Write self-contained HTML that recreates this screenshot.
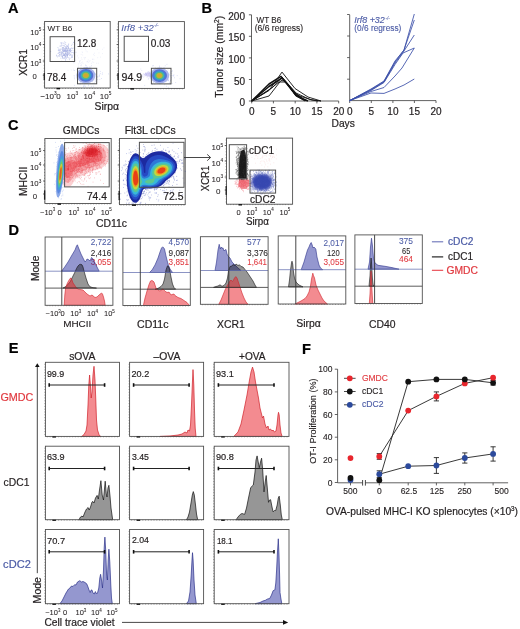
<!DOCTYPE html>
<html><head><meta charset="utf-8"><title>Figure</title>
<style>html,body{margin:0;padding:0;background:#fff;} svg{display:block;} text{font-family:"Liberation Sans", Arial, sans-serif;}</style>
</head><body>
<svg width="520" height="629" viewBox="0 0 520 629">
<defs>
<filter id="b03" x="-50%" y="-50%" width="200%" height="200%"><feGaussianBlur stdDeviation="0.3"/></filter>
<filter id="b06" x="-50%" y="-50%" width="200%" height="200%"><feGaussianBlur stdDeviation="0.6"/></filter>
<filter id="b1" x="-50%" y="-50%" width="200%" height="200%"><feGaussianBlur stdDeviation="1"/></filter>
<filter id="b15" x="-50%" y="-50%" width="200%" height="200%"><feGaussianBlur stdDeviation="1.5"/></filter>
<filter id="b2" x="-50%" y="-50%" width="200%" height="200%"><feGaussianBlur stdDeviation="2"/></filter>
<filter id="b3" x="-50%" y="-50%" width="200%" height="200%"><feGaussianBlur stdDeviation="3"/></filter>
</defs>
<rect width="520" height="629" fill="#fff"/>
<text stroke="#000" stroke-width="0.2" x="8.0" y="13.4" font-size="14.6" fill="#000" font-weight="bold">A</text>
<text stroke="#000" stroke-width="0.2" x="201.6" y="12.8" font-size="14.6" fill="#000" font-weight="bold">B</text>
<text stroke="#000" stroke-width="0.2" x="8.0" y="129.9" font-size="14.6" fill="#000" font-weight="bold">C</text>
<text stroke="#000" stroke-width="0.2" x="8.6" y="234.9" font-size="14.6" fill="#000" font-weight="bold">D</text>
<text stroke="#000" stroke-width="0.2" x="8.7" y="352.6" font-size="14.6" fill="#000" font-weight="bold">E</text>
<text stroke="#000" stroke-width="0.2" x="301.9" y="353.9" font-size="14.6" fill="#000" font-weight="bold">F</text>
<rect x="44.6" y="21.5" width="65.6" height="66.5" fill="none" stroke="#505050" stroke-width="0.9"/>
<rect x="118.4" y="21.6" width="66.0" height="66.8" fill="none" stroke="#505050" stroke-width="0.9"/>
<path d="M65.9,57.0h0.7M61.6,56.0h0.7M64.4,51.0h0.7M73.5,52.6h0.7M65.3,54.9h0.7M70.2,51.9h0.7M68.0,48.1h0.7M64.0,50.2h0.7M59.9,46.0h0.7M58.7,51.0h0.7M64.8,50.7h0.7M65.8,46.7h0.7M65.2,53.0h0.7M68.7,48.6h0.7M63.8,43.9h0.7M63.4,43.2h0.7M59.5,56.4h0.7M56.3,55.2h0.7M66.9,50.8h0.7M67.4,54.1h0.7M69.9,51.1h0.7M63.0,49.6h0.7M61.4,51.8h0.7M62.2,56.3h0.7M57.6,47.6h0.7M61.5,43.6h0.7M73.5,42.4h0.7M64.3,49.9h0.7M72.5,44.1h0.7M70.0,49.1h0.7M64.8,49.3h0.7M68.2,47.4h0.7M65.2,53.4h0.7M73.2,42.4h0.7M71.9,55.8h0.7M63.5,53.2h0.7M63.5,58.6h0.7M66.4,51.1h0.7M64.5,51.2h0.7M64.8,48.5h0.7M74.1,44.4h0.7M50.4,51.5h0.7M64.9,53.5h0.7M64.6,51.4h0.7M66.9,55.9h0.7M63.6,50.5h0.7M73.7,54.1h0.7M61.4,61.3h0.7M68.8,49.6h0.7M60.6,53.2h0.7M62.0,47.8h0.7M60.1,50.0h0.7M70.2,50.3h0.7M59.4,54.7h0.7M65.8,55.4h0.7M70.5,51.3h0.7M64.9,51.8h0.7M60.7,54.7h0.7M71.3,52.7h0.7M64.5,51.0h0.7M62.2,48.8h0.7M63.8,48.6h0.7M63.7,45.7h0.7M67.0,52.2h0.7M60.7,42.8h0.7M65.5,56.4h0.7M62.4,50.1h0.7M63.1,54.6h0.7M61.7,55.9h0.7M64.2,55.7h0.7M65.6,51.1h0.7M59.3,49.3h0.7M64.4,54.6h0.7M66.5,49.2h0.7M67.2,55.9h0.7M64.9,50.2h0.7M63.8,55.2h0.7M67.8,48.3h0.7M67.1,50.1h0.7M62.3,57.0h0.7M68.9,49.1h0.7M65.8,54.0h0.7M62.8,51.5h0.7M68.3,44.8h0.7M66.9,55.0h0.7M67.6,46.6h0.7M66.8,48.5h0.7M67.9,54.4h0.7M66.4,48.9h0.7M63.0,55.4h0.7M61.7,54.0h0.7M67.6,50.9h0.7M75.6,52.3h0.7M74.5,43.9h0.7M56.1,55.9h0.7M68.2,50.8h0.7M65.3,44.4h0.7M62.9,47.9h0.7M64.6,55.5h0.7M65.7,53.5h0.7M62.6,50.3h0.7M66.0,50.9h0.7M70.8,48.5h0.7M73.4,48.1h0.7M70.0,48.9h0.7M72.4,52.5h0.7M67.2,55.0h0.7M62.8,47.8h0.7M57.0,56.9h0.7M62.6,49.6h0.7M65.4,60.0h0.7M58.2,53.0h0.7M63.8,54.1h0.7M57.9,50.4h0.7M69.0,58.2h0.7M72.2,48.6h0.7M65.7,51.6h0.7M59.7,46.2h0.7M68.7,53.0h0.7M64.9,56.9h0.7M61.3,54.1h0.7M65.5,51.8h0.7M67.6,52.7h0.7M66.6,53.1h0.7M73.6,50.8h0.7M69.8,54.4h0.7M64.0,55.2h0.7M61.9,56.6h0.7M62.1,50.0h0.7M66.9,55.3h0.7M69.3,55.6h0.7M64.6,48.2h0.7M67.8,53.2h0.7M61.5,55.9h0.7M66.3,48.2h0.7M67.4,46.7h0.7M61.8,53.6h0.7M59.0,52.2h0.7M59.8,54.9h0.7M62.4,52.7h0.7M59.2,50.6h0.7M69.5,53.8h0.7M57.8,55.7h0.7M69.2,50.5h0.7M71.5,47.8h0.7M65.1,56.5h0.7M71.0,57.1h0.7M60.9,44.9h0.7M67.1,46.3h0.7M64.9,46.9h0.7M70.0,55.2h0.7M67.8,52.1h0.7M65.7,50.8h0.7M67.1,53.0h0.7M67.4,50.3h0.7M73.5,53.1h0.7M71.4,57.3h0.7M61.8,45.3h0.7M70.8,50.4h0.7M65.8,51.0h0.7M66.0,47.2h0.7M65.1,50.1h0.7M65.4,42.7h0.7M68.9,53.3h0.7M58.2,49.1h0.7M65.6,54.5h0.7M65.5,57.5h0.7M65.6,48.0h0.7M62.7,55.0h0.7M62.9,55.4h0.7M69.8,54.4h0.7M69.8,51.3h0.7M65.5,49.6h0.7M62.9,45.7h0.7M63.2,47.7h0.7M59.5,52.6h0.7M67.4,50.6h0.7M71.2,55.8h0.7M69.9,49.6h0.7M59.2,54.2h0.7M66.8,54.9h0.7M67.3,57.0h0.7M64.3,54.7h0.7M61.7,42.8h0.7M63.6,58.0h0.7M58.5,56.1h0.7M62.6,50.4h0.7M65.7,52.8h0.7M61.4,52.5h0.7M67.4,55.3h0.7M62.3,58.2h0.7M73.5,61.7h0.7M59.9,52.7h0.7M57.7,53.5h0.7M67.8,47.4h0.7M58.8,52.7h0.7M68.1,48.8h0.7M64.4,41.9h0.7M62.5,52.6h0.7M66.1,58.3h0.7M60.7,43.0h0.7M67.4,49.6h0.7M66.7,54.9h0.7M68.0,57.8h0.7M71.2,45.3h0.7M65.2,60.0h0.7M63.8,55.9h0.7M65.3,50.3h0.7M72.1,56.2h0.7M64.5,55.6h0.7M60.0,49.1h0.7M69.3,52.2h0.7M61.0,53.8h0.7M66.9,57.1h0.7M69.5,50.9h0.7M63.5,51.4h0.7M64.5,57.8h0.7M72.2,57.4h0.7M67.1,51.0h0.7M69.3,50.6h0.7M66.5,45.3h0.7M63.7,57.8h0.7M61.2,46.0h0.7M64.8,58.7h0.7M71.6,50.6h0.7M63.5,51.6h0.7M61.6,52.1h0.7M64.2,46.1h0.7M63.1,51.0h0.7M61.9,47.5h0.7M69.3,59.6h0.7M64.3,50.3h0.7M67.6,51.1h0.7M62.2,57.6h0.7M61.1,49.1h0.7M62.7,48.5h0.7M64.5,54.3h0.7M71.6,54.7h0.7M65.6,47.0h0.7M65.2,48.2h0.7M65.1,55.9h0.7M66.4,51.2h0.7M62.3,51.9h0.7M66.0,48.3h0.7M63.4,55.5h0.7M58.5,50.2h0.7M60.6,58.2h0.7M68.0,54.1h0.7M67.2,53.1h0.7M66.7,45.7h0.7M66.6,54.4h0.7M59.5,55.3h0.7M68.3,45.9h0.7M63.5,50.8h0.7M63.3,53.6h0.7M60.1,51.1h0.7M66.4,54.9h0.7M65.7,51.0h0.7M68.4,44.0h0.7M69.4,50.8h0.7" stroke="#5a6cc8" stroke-width="0.7" opacity="0.55"/>
<path d="M80.5,63.7h0.6M74.5,62.8h0.6M91.1,63.3h0.6M98.7,52.9h0.6M80.8,54.4h0.6M70.6,58.5h0.6M82.7,63.4h0.6M86.1,77.9h0.6M90.4,47.2h0.6M82.5,55.0h0.6M73.8,70.4h0.6M77.3,44.4h0.6M83.7,57.7h0.6M65.9,52.6h0.6M72.5,59.8h0.6M74.9,60.6h0.6M102.0,53.6h0.6M70.3,58.0h0.6M93.1,54.4h0.6M97.2,49.5h0.6M67.6,59.6h0.6M69.6,55.1h0.6M85.4,65.8h0.6M81.4,57.8h0.6M96.1,63.2h0.6M77.2,69.7h0.6M69.2,61.3h0.6M87.9,59.9h0.6M73.1,62.8h0.6M73.5,55.2h0.6M67.7,70.4h0.6M73.4,69.2h0.6M84.6,57.9h0.6M88.0,62.2h0.6M81.6,49.0h0.6M80.8,67.2h0.6M85.8,68.0h0.6M97.9,63.3h0.6M103.7,47.9h0.6M77.1,39.8h0.6M89.8,60.8h0.6M100.3,57.1h0.6M55.7,70.2h0.6M63.9,49.9h0.6M77.9,65.0h0.6M73.9,61.5h0.6M57.4,73.8h0.6M79.2,61.0h0.6M87.0,61.4h0.6M82.4,52.6h0.6M78.6,63.5h0.6M92.5,59.0h0.6M81.1,62.7h0.6M86.9,61.7h0.6M77.0,55.9h0.6M93.5,62.4h0.6M80.2,87.8h0.6M90.6,66.8h0.6M81.8,51.9h0.6M93.6,59.3h0.6M80.6,68.2h0.6M92.2,61.9h0.6M80.2,76.8h0.6M86.9,51.8h0.6M89.0,61.2h0.6M80.4,65.5h0.6M82.8,76.0h0.6M82.4,62.0h0.6M93.9,55.5h0.6M92.2,59.5h0.6M94.2,53.2h0.6M85.0,47.2h0.6M74.7,60.1h0.6M85.9,75.8h0.6M102.0,49.3h0.6M70.9,70.0h0.6M85.3,49.1h0.6M85.8,51.0h0.6M69.7,49.9h0.6M76.9,78.0h0.6M84.5,59.1h0.6M78.2,57.9h0.6M85.0,57.5h0.6M97.5,57.7h0.6M86.7,61.8h0.6M69.7,52.2h0.6M79.4,41.7h0.6M80.2,60.6h0.6M81.7,59.4h0.6" stroke="#9aa5dd" stroke-width="0.6" opacity="0.4"/>
<path d="M79.9,70.8h0.7M91.0,65.7h0.7M86.1,65.8h0.7M93.6,76.9h0.7M95.1,73.7h0.7M89.4,74.7h0.7M82.6,76.7h0.7M79.5,74.4h0.7M91.2,76.3h0.7M84.5,85.9h0.7M87.3,73.4h0.7M88.0,73.6h0.7M84.7,74.4h0.7M99.2,76.1h0.7M88.1,79.0h0.7M99.1,75.0h0.7M83.3,87.1h0.7M78.2,74.3h0.7M91.0,86.3h0.7M81.3,65.1h0.7M91.0,73.7h0.7M84.7,78.1h0.7M88.3,77.3h0.7M84.4,81.8h0.7M96.0,76.1h0.7M84.3,79.3h0.7M89.9,71.3h0.7M84.2,80.7h0.7M86.4,74.5h0.7M88.3,75.8h0.7M87.0,67.3h0.7M97.5,76.9h0.7M81.7,80.4h0.7M88.9,76.1h0.7M93.3,86.2h0.7M90.3,83.1h0.7M99.9,71.4h0.7M83.9,79.5h0.7M76.8,74.8h0.7M94.8,80.7h0.7M90.5,67.5h0.7M101.1,78.5h0.7M91.6,78.2h0.7M76.7,69.5h0.7M79.7,84.6h0.7M82.0,74.9h0.7M85.5,78.6h0.7M90.0,77.2h0.7M79.4,61.9h0.7M88.0,77.2h0.7M94.4,75.5h0.7M83.3,77.8h0.7M77.7,71.3h0.7M81.0,77.3h0.7M99.5,79.4h0.7M93.9,77.1h0.7M88.7,74.0h0.7M85.3,65.1h0.7M79.8,70.2h0.7M92.0,79.0h0.7M93.9,83.0h0.7M85.2,80.7h0.7M98.7,76.0h0.7M93.5,75.3h0.7M77.3,76.5h0.7M82.1,76.5h0.7M84.2,77.4h0.7M74.2,85.4h0.7M95.2,74.4h0.7M81.5,76.0h0.7M91.1,77.9h0.7M89.4,67.1h0.7M80.2,82.0h0.7M88.4,69.2h0.7M81.8,69.5h0.7M80.9,81.3h0.7M85.7,81.1h0.7M88.1,69.2h0.7M83.1,86.4h0.7M82.3,71.2h0.7M94.5,76.4h0.7M87.0,82.7h0.7M76.2,77.9h0.7M80.6,69.6h0.7M82.0,81.3h0.7M86.1,67.6h0.7M80.2,83.0h0.7M93.3,71.0h0.7M101.9,74.3h0.7M79.7,75.4h0.7M92.7,83.4h0.7M93.3,74.0h0.7M83.6,69.3h0.7M86.5,73.3h0.7M88.5,70.2h0.7M83.8,71.9h0.7M79.6,70.6h0.7M80.7,70.6h0.7M90.5,76.5h0.7M78.9,78.4h0.7M88.8,82.7h0.7M85.8,75.0h0.7M82.8,76.6h0.7M90.0,76.8h0.7M85.4,78.6h0.7M87.6,77.1h0.7M81.3,77.0h0.7M80.9,72.1h0.7M88.0,85.7h0.7M93.1,76.0h0.7M85.9,80.5h0.7M95.5,81.6h0.7M85.9,76.9h0.7M85.0,74.7h0.7M81.8,74.9h0.7M73.8,70.5h0.7M89.6,71.7h0.7M90.3,70.0h0.7M84.7,77.8h0.7M80.6,72.7h0.7M102.2,72.9h0.7M82.7,73.4h0.7M87.2,75.9h0.7M93.0,79.6h0.7M84.5,74.4h0.7M78.3,69.1h0.7M82.5,79.4h0.7M87.7,79.7h0.7M92.8,75.2h0.7M99.9,73.6h0.7M83.2,74.0h0.7M94.0,75.4h0.7M82.5,78.0h0.7M93.9,75.5h0.7M85.5,81.0h0.7M93.0,80.3h0.7M82.3,77.3h0.7M89.2,67.7h0.7M94.4,76.5h0.7M84.9,86.4h0.7M87.9,72.7h0.7M86.6,78.6h0.7M92.0,75.7h0.7M81.7,72.8h0.7M82.0,71.2h0.7M86.9,73.7h0.7M87.3,72.2h0.7M81.7,75.1h0.7M84.9,81.3h0.7M81.5,76.9h0.7M86.7,70.0h0.7M91.5,76.8h0.7M74.1,78.8h0.7M92.7,72.3h0.7M97.4,76.7h0.7M79.9,78.6h0.7M84.8,69.9h0.7M73.9,77.1h0.7M82.5,79.0h0.7M89.4,73.6h0.7M83.8,84.1h0.7M97.4,79.5h0.7M84.8,71.5h0.7M84.6,83.6h0.7M89.8,74.7h0.7M79.5,76.8h0.7M81.6,76.1h0.7M91.5,80.9h0.7M87.9,74.4h0.7M88.4,84.3h0.7M89.3,69.6h0.7M96.5,77.2h0.7M108.3,73.9h0.7M86.4,74.6h0.7M89.3,73.3h0.7M78.0,67.2h0.7M86.2,73.6h0.7M83.5,85.7h0.7M91.9,81.0h0.7M84.0,77.4h0.7M85.7,75.1h0.7M91.6,78.8h0.7M88.9,76.7h0.7M78.2,72.6h0.7M89.3,74.3h0.7M82.3,77.6h0.7M81.4,72.9h0.7M92.4,74.4h0.7M95.7,78.4h0.7M91.9,81.2h0.7M73.8,75.6h0.7M79.1,73.9h0.7M86.4,81.7h0.7M86.7,83.5h0.7M83.8,75.7h0.7M87.6,80.3h0.7M86.7,73.2h0.7M85.0,69.6h0.7M94.7,79.4h0.7M89.6,77.3h0.7M83.3,74.2h0.7M91.9,72.4h0.7M82.2,83.2h0.7M96.5,77.3h0.7M90.2,76.9h0.7M95.7,74.0h0.7M87.5,78.2h0.7M95.7,74.9h0.7M88.4,73.8h0.7M83.0,73.0h0.7M87.5,80.0h0.7M82.8,73.3h0.7M84.6,77.6h0.7M91.2,70.3h0.7M89.1,71.5h0.7M91.3,71.6h0.7M80.5,72.8h0.7M86.6,71.5h0.7M88.3,76.7h0.7M87.5,77.2h0.7" stroke="#8090e0" stroke-width="0.7" opacity="0.5"/>
<g filter="url(#b03)"><path d="M87.2,83.3 L86.5,83.3 L85.8,83.4 L85.0,83.3 L84.4,83.2 L83.8,83.1 L83.2,83.0 L82.5,82.8 L82.0,82.6 L81.5,82.4 L81.0,82.2 L80.5,81.9 L80.0,81.6 L79.6,81.2 L79.2,81.0 L78.8,80.5 L78.5,80.2 L78.1,79.8 L77.8,79.3 L77.5,78.9 L77.2,78.5 L77.0,77.9 L76.8,77.2 L76.7,76.8 L76.5,76.0 L76.5,75.2 L76.6,74.5 L76.7,73.8 L76.9,73.2 L77.1,72.8 L77.3,72.2 L77.6,71.8 L77.9,71.2 L78.2,70.8 L78.5,70.5 L79.0,70.0 L79.3,69.8 L79.8,69.4 L80.2,69.1 L80.8,68.8 L81.2,68.5 L81.8,68.3 L82.2,68.1 L82.8,67.9 L83.4,67.8 L84.0,67.6 L84.8,67.5 L85.2,67.5 L86.0,67.4 L86.8,67.5 L87.2,67.5 L88.0,67.6 L88.5,67.8 L89.2,68.0 L89.8,68.1 L90.2,68.3 L90.8,68.6 L91.2,68.8 L91.8,69.2 L92.2,69.5 L92.5,69.8 L93.0,70.2 L93.3,70.5 L93.8,71.0 L94.0,71.3 L94.3,71.8 L94.6,72.2 L94.8,72.8 L95.0,73.3 L95.2,74.0 L95.3,74.5 L95.3,75.2 L95.3,76.0 L95.2,76.5 L95.1,77.2 L94.9,77.8 L94.7,78.2 L94.5,78.8 L94.2,79.2 L93.8,79.8 L93.5,80.1 L93.1,80.5 L92.8,80.9 L92.3,81.2 L92.0,81.5 L91.5,81.8 L91.0,82.1 L90.5,82.3 L90.0,82.6 L89.5,82.8 L88.8,83.0 L88.2,83.1 L87.5,83.2Z" fill="#a8b4ec"/><path d="M87.5,81.6 L87.0,81.6 L86.5,81.7 L86.0,81.7 L85.5,81.7 L85.0,81.7 L84.5,81.6 L84.0,81.5 L83.8,81.4 L83.2,81.3 L83.0,81.2 L82.5,81.0 L82.2,80.9 L81.9,80.8 L81.5,80.5 L81.2,80.3 L81.0,80.2 L80.8,80.0 L80.5,79.7 L80.2,79.5 L80.0,79.2 L79.8,78.9 L79.5,78.6 L79.3,78.2 L79.1,78.0 L79.0,77.7 L78.8,77.2 L78.7,77.0 L78.6,76.5 L78.5,76.0 L78.5,75.8 L78.5,75.2 L78.5,74.9 L78.5,74.5 L78.7,74.0 L78.8,73.7 L78.9,73.2 L79.0,73.0 L79.2,72.6 L79.5,72.2 L79.6,72.0 L79.8,71.8 L80.1,71.5 L80.3,71.2 L80.6,71.0 L80.9,70.8 L81.2,70.5 L81.5,70.3 L81.8,70.2 L82.0,70.0 L82.5,69.8 L82.8,69.7 L83.2,69.5 L83.5,69.4 L84.0,69.3 L84.2,69.2 L84.8,69.2 L85.2,69.1 L85.8,69.1 L86.2,69.1 L86.8,69.1 L87.2,69.2 L87.5,69.3 L88.0,69.4 L88.5,69.5 L88.8,69.6 L89.1,69.8 L89.5,69.9 L89.8,70.0 L90.1,70.2 L90.5,70.5 L90.8,70.7 L91.0,70.9 L91.2,71.1 L91.5,71.3 L91.8,71.6 L92.0,71.9 L92.2,72.2 L92.4,72.5 L92.6,72.8 L92.8,73.1 L92.9,73.5 L93.0,73.8 L93.1,74.2 L93.2,74.8 L93.2,75.2 L93.2,75.8 L93.2,76.2 L93.1,76.8 L93.0,77.0 L92.8,77.5 L92.7,77.8 L92.5,78.2 L92.3,78.5 L92.1,78.8 L91.9,79.0 L91.7,79.2 L91.5,79.5 L91.2,79.8 L90.9,80.0 L90.6,80.2 L90.2,80.5 L90.0,80.6 L89.8,80.8 L89.3,81.0 L89.0,81.1 L88.6,81.2 L88.2,81.4 L87.8,81.5 L87.5,81.6Z" fill="#5a70d4"/><path d="M86.5,80.5 L86.0,80.5 L85.5,80.5 L85.0,80.5 L84.8,80.5 L84.2,80.4 L83.8,80.2 L83.5,80.1 L83.1,80.0 L82.8,79.8 L82.5,79.7 L82.2,79.5 L81.8,79.2 L81.5,79.0 L81.3,78.8 L81.0,78.5 L80.8,78.2 L80.6,78.0 L80.5,77.8 L80.2,77.3 L80.1,77.0 L80.0,76.6 L79.9,76.2 L79.8,75.8 L79.8,75.2 L79.9,74.8 L80.0,74.2 L80.1,74.0 L80.2,73.5 L80.4,73.2 L80.5,73.0 L80.8,72.7 L81.0,72.3 L81.2,72.1 L81.5,71.8 L81.8,71.6 L82.0,71.4 L82.3,71.2 L82.7,71.0 L83.0,70.9 L83.3,70.8 L83.8,70.6 L84.0,70.5 L84.5,70.4 L85.0,70.3 L85.5,70.3 L86.0,70.3 L86.5,70.3 L87.0,70.3 L87.5,70.5 L87.8,70.5 L88.2,70.7 L88.5,70.8 L89.0,71.0 L89.2,71.2 L89.5,71.3 L89.8,71.5 L90.1,71.8 L90.3,72.0 L90.6,72.2 L90.8,72.5 L91.0,72.8 L91.2,73.2 L91.4,73.5 L91.5,73.8 L91.7,74.2 L91.8,74.5 L91.8,75.0 L91.8,75.5 L91.8,76.0 L91.8,76.3 L91.6,76.8 L91.5,77.1 L91.3,77.5 L91.2,77.8 L91.0,78.0 L90.8,78.4 L90.5,78.6 L90.2,78.9 L90.0,79.1 L89.8,79.3 L89.5,79.5 L89.0,79.8 L88.8,79.9 L88.5,80.0 L88.0,80.2 L87.8,80.3 L87.2,80.4 L86.8,80.5 L86.5,80.5Z" fill="#3a88d8"/><path d="M86.8,79.5 L86.5,79.6 L86.2,79.6 L86.0,79.6 L85.8,79.6 L85.5,79.6 L85.2,79.6 L85.0,79.6 L84.8,79.5 L84.7,79.5 L84.5,79.5 L84.2,79.4 L84.0,79.3 L83.8,79.2 L83.8,79.2 L83.5,79.1 L83.3,79.0 L83.2,79.0 L83.0,78.8 L82.8,78.8 L82.8,78.7 L82.5,78.5 L82.5,78.5 L82.2,78.3 L82.2,78.2 L82.0,78.0 L82.0,78.0 L81.8,77.8 L81.7,77.8 L81.6,77.5 L81.5,77.4 L81.4,77.2 L81.3,77.0 L81.2,76.9 L81.2,76.8 L81.1,76.5 L81.0,76.2 L81.0,76.2 L81.0,76.0 L80.9,75.8 L80.9,75.5 L80.9,75.2 L80.9,75.0 L81.0,74.8 L81.0,74.6 L81.0,74.5 L81.1,74.2 L81.2,74.0 L81.2,73.9 L81.3,73.8 L81.4,73.5 L81.5,73.4 L81.6,73.2 L81.8,73.0 L81.8,73.0 L82.0,72.8 L82.0,72.8 L82.2,72.5 L82.3,72.5 L82.5,72.3 L82.6,72.2 L82.8,72.1 L82.9,72.0 L83.0,72.0 L83.2,71.8 L83.4,71.8 L83.5,71.7 L83.8,71.6 L84.0,71.5 L84.0,71.5 L84.2,71.4 L84.5,71.3 L84.8,71.3 L85.0,71.2 L85.0,71.2 L85.2,71.2 L85.5,71.2 L85.8,71.2 L86.0,71.2 L86.2,71.2 L86.5,71.2 L86.7,71.2 L86.8,71.3 L87.0,71.3 L87.2,71.4 L87.5,71.4 L87.7,71.5 L87.8,71.5 L88.0,71.6 L88.2,71.7 L88.3,71.8 L88.5,71.9 L88.7,72.0 L88.8,72.0 L89.0,72.2 L89.1,72.2 L89.2,72.4 L89.4,72.5 L89.5,72.6 L89.6,72.8 L89.8,72.9 L89.9,73.0 L90.0,73.2 L90.0,73.2 L90.2,73.5 L90.2,73.6 L90.3,73.8 L90.4,74.0 L90.5,74.1 L90.5,74.2 L90.6,74.5 L90.7,74.8 L90.7,75.0 L90.7,75.2 L90.7,75.5 L90.7,75.8 L90.7,76.0 L90.6,76.2 L90.6,76.5 L90.5,76.7 L90.5,76.8 L90.4,77.0 L90.2,77.2 L90.2,77.2 L90.1,77.5 L90.0,77.6 L89.9,77.8 L89.8,77.9 L89.7,78.0 L89.5,78.2 L89.4,78.2 L89.2,78.4 L89.1,78.5 L89.0,78.6 L88.8,78.8 L88.8,78.8 L88.5,78.9 L88.4,79.0 L88.2,79.1 L88.0,79.2 L87.8,79.2 L87.8,79.3 L87.5,79.4 L87.2,79.4 L87.0,79.5 L87.0,79.5 L86.8,79.5Z" fill="#40b0b8"/><path d="M86.8,78.8 L86.5,78.8 L86.2,78.8 L86.0,78.8 L85.8,78.8 L85.5,78.8 L85.2,78.8 L85.0,78.8 L84.9,78.8 L84.8,78.7 L84.5,78.7 L84.2,78.6 L84.1,78.5 L84.0,78.5 L83.8,78.4 L83.6,78.2 L83.5,78.2 L83.2,78.0 L83.2,78.0 L83.0,77.9 L82.9,77.8 L82.8,77.6 L82.6,77.5 L82.5,77.3 L82.4,77.2 L82.3,77.0 L82.2,77.0 L82.1,76.8 L82.0,76.5 L82.0,76.4 L81.9,76.2 L81.9,76.0 L81.8,75.8 L81.8,75.5 L81.8,75.2 L81.8,75.0 L81.9,74.8 L81.9,74.5 L82.0,74.4 L82.0,74.2 L82.2,74.0 L82.2,73.8 L82.3,73.8 L82.5,73.5 L82.5,73.5 L82.7,73.2 L82.8,73.2 L82.9,73.0 L83.0,72.9 L83.2,72.8 L83.3,72.8 L83.5,72.6 L83.7,72.5 L83.8,72.4 L84.0,72.3 L84.2,72.2 L84.2,72.2 L84.5,72.1 L84.8,72.1 L85.0,72.0 L85.2,72.0 L85.2,72.0 L85.5,72.0 L85.8,72.0 L86.0,72.0 L86.2,72.0 L86.5,72.0 L86.5,72.0 L86.8,72.0 L87.0,72.1 L87.2,72.2 L87.4,72.2 L87.5,72.3 L87.8,72.4 L88.0,72.5 L88.0,72.5 L88.2,72.7 L88.4,72.8 L88.5,72.8 L88.7,73.0 L88.8,73.1 L88.9,73.2 L89.0,73.3 L89.2,73.5 L89.2,73.6 L89.3,73.8 L89.5,74.0 L89.5,74.0 L89.6,74.2 L89.7,74.5 L89.8,74.7 L89.8,74.8 L89.8,75.0 L89.8,75.2 L89.8,75.5 L89.8,75.8 L89.8,76.0 L89.8,76.0 L89.7,76.2 L89.6,76.5 L89.5,76.8 L89.5,76.8 L89.4,77.0 L89.2,77.2 L89.2,77.2 L89.0,77.5 L89.0,77.5 L88.8,77.7 L88.7,77.8 L88.5,78.0 L88.4,78.0 L88.2,78.1 L88.1,78.2 L88.0,78.3 L87.8,78.4 L87.6,78.5 L87.5,78.5 L87.2,78.6 L87.0,78.7 L86.8,78.8 L86.8,78.8Z" fill="#58b878"/><path d="M86.5,78.1 L86.2,78.1 L86.0,78.1 L85.8,78.1 L85.5,78.1 L85.2,78.1 L85.0,78.0 L84.9,78.0 L84.8,78.0 L84.5,77.9 L84.2,77.8 L84.2,77.8 L84.0,77.6 L83.8,77.5 L83.8,77.5 L83.5,77.3 L83.5,77.2 L83.3,77.0 L83.2,77.0 L83.1,76.8 L83.0,76.6 L82.9,76.5 L82.8,76.2 L82.8,76.1 L82.7,76.0 L82.7,75.8 L82.7,75.5 L82.7,75.2 L82.7,75.0 L82.7,74.8 L82.8,74.7 L82.8,74.5 L83.0,74.2 L83.0,74.2 L83.1,74.0 L83.2,73.8 L83.3,73.8 L83.5,73.6 L83.6,73.5 L83.8,73.3 L83.9,73.2 L84.0,73.2 L84.2,73.0 L84.3,73.0 L84.5,72.9 L84.8,72.8 L85.0,72.8 L85.1,72.8 L85.2,72.7 L85.5,72.7 L85.8,72.7 L86.0,72.7 L86.2,72.7 L86.5,72.7 L86.5,72.8 L86.8,72.8 L87.0,72.9 L87.2,73.0 L87.3,73.0 L87.5,73.1 L87.7,73.2 L87.8,73.3 L88.0,73.4 L88.1,73.5 L88.2,73.7 L88.3,73.8 L88.5,74.0 L88.5,74.0 L88.7,74.2 L88.8,74.4 L88.8,74.5 L88.9,74.8 L88.9,75.0 L89.0,75.2 L89.0,75.5 L88.9,75.8 L88.9,76.0 L88.8,76.2 L88.8,76.4 L88.7,76.5 L88.6,76.8 L88.5,76.8 L88.4,77.0 L88.2,77.1 L88.1,77.2 L88.0,77.4 L87.8,77.5 L87.8,77.5 L87.5,77.7 L87.4,77.8 L87.2,77.8 L87.0,77.9 L86.8,78.0 L86.7,78.0 L86.5,78.1Z" fill="#a8c040"/><path d="M86.8,77.3 L86.5,77.4 L86.2,77.4 L86.0,77.4 L85.8,77.4 L85.5,77.4 L85.2,77.4 L85.0,77.3 L84.8,77.2 L84.8,77.2 L84.5,77.1 L84.3,77.0 L84.2,76.9 L84.0,76.8 L84.0,76.7 L83.8,76.5 L83.8,76.4 L83.6,76.2 L83.5,76.0 L83.5,75.9 L83.5,75.8 L83.4,75.5 L83.4,75.2 L83.5,75.0 L83.5,74.9 L83.6,74.8 L83.7,74.5 L83.8,74.4 L83.8,74.2 L84.0,74.1 L84.1,74.0 L84.2,73.9 L84.4,73.8 L84.5,73.7 L84.8,73.6 L84.9,73.5 L85.0,73.5 L85.2,73.4 L85.5,73.4 L85.8,73.4 L86.0,73.4 L86.2,73.4 L86.5,73.4 L86.7,73.5 L86.8,73.5 L87.0,73.6 L87.2,73.8 L87.2,73.8 L87.5,74.0 L87.5,74.0 L87.8,74.2 L87.8,74.2 L88.0,74.5 L88.0,74.6 L88.1,74.8 L88.1,75.0 L88.2,75.2 L88.2,75.5 L88.2,75.8 L88.1,76.0 L88.0,76.2 L88.0,76.2 L87.8,76.5 L87.8,76.6 L87.6,76.8 L87.5,76.8 L87.3,77.0 L87.2,77.0 L87.0,77.2 L86.8,77.2 L86.8,77.3Z" fill="#d0a830"/></g>
<path d="M164.0,67.9h0.7M156.3,76.3h0.7M169.8,76.0h0.7M151.0,77.4h0.7M153.8,81.5h0.7M159.5,84.0h0.7M160.2,71.4h0.7M152.2,74.4h0.7M163.7,81.4h0.7M162.6,72.7h0.7M164.0,69.5h0.7M164.0,72.6h0.7M170.0,80.5h0.7M163.2,71.4h0.7M164.3,77.7h0.7M157.7,73.2h0.7M168.6,74.2h0.7M163.7,82.3h0.7M152.1,84.0h0.7M167.1,73.1h0.7M155.3,70.5h0.7M166.6,64.4h0.7M166.6,76.8h0.7M156.9,73.7h0.7M158.8,75.0h0.7M166.3,72.2h0.7M167.6,80.4h0.7M159.5,78.7h0.7M157.7,76.3h0.7M164.0,84.7h0.7M160.7,75.3h0.7M161.2,75.2h0.7M154.5,84.5h0.7M157.3,73.4h0.7M156.7,79.1h0.7M166.9,77.6h0.7M160.9,71.5h0.7M165.5,75.6h0.7M173.6,74.8h0.7M154.9,67.7h0.7M150.3,78.8h0.7M163.1,70.8h0.7M151.8,77.3h0.7M158.9,77.0h0.7M160.9,72.5h0.7M150.5,76.6h0.7M161.6,76.8h0.7M166.7,80.2h0.7M158.0,78.7h0.7M147.9,79.1h0.7M160.8,80.6h0.7M167.0,71.7h0.7M160.2,81.1h0.7M157.7,76.3h0.7M157.3,78.7h0.7M162.8,72.3h0.7M152.4,65.9h0.7M166.2,74.0h0.7M156.8,73.6h0.7M155.4,79.1h0.7M164.8,65.8h0.7M160.8,76.5h0.7M159.0,76.5h0.7M171.2,77.5h0.7M168.3,80.6h0.7M151.8,84.1h0.7M162.3,74.7h0.7M166.1,86.2h0.7M156.2,72.9h0.7M163.2,67.9h0.7M154.3,76.3h0.7M165.6,78.5h0.7M166.2,81.0h0.7M158.4,74.4h0.7M159.1,74.5h0.7M167.8,80.0h0.7M148.5,78.2h0.7M154.6,70.9h0.7M168.9,82.1h0.7M168.2,79.1h0.7M172.1,70.8h0.7M166.2,72.9h0.7M157.3,68.5h0.7M170.4,84.2h0.7M166.4,73.4h0.7M162.2,71.2h0.7M159.4,83.0h0.7M170.9,79.1h0.7M165.9,75.5h0.7M163.3,75.3h0.7M164.1,73.2h0.7M167.2,75.0h0.7M162.3,75.5h0.7M170.5,80.2h0.7M156.2,71.7h0.7M164.6,76.6h0.7M159.7,77.1h0.7M171.2,75.7h0.7M169.9,73.8h0.7M159.7,77.5h0.7M160.7,73.8h0.7M154.6,74.5h0.7M158.6,76.1h0.7M167.5,78.4h0.7M168.2,77.0h0.7M163.9,79.0h0.7M165.5,80.7h0.7M157.7,78.1h0.7M162.4,81.7h0.7M166.3,73.5h0.7M163.7,79.4h0.7M161.5,81.9h0.7M162.8,70.3h0.7M163.0,79.7h0.7M156.3,79.3h0.7M144.4,85.4h0.7M152.6,73.9h0.7M159.2,69.7h0.7M163.0,71.9h0.7M152.9,65.6h0.7M165.3,81.4h0.7M159.4,77.1h0.7M170.8,77.9h0.7M168.1,80.7h0.7M165.6,78.5h0.7M168.4,77.1h0.7M162.0,72.9h0.7M148.6,71.9h0.7M159.2,80.9h0.7M159.1,67.1h0.7M165.3,81.8h0.7M163.1,77.5h0.7M162.9,75.8h0.7M169.8,72.4h0.7M156.6,69.5h0.7M158.1,73.0h0.7M157.2,77.1h0.7M167.6,70.0h0.7M162.0,73.0h0.7M157.1,74.1h0.7M163.5,68.8h0.7M170.4,75.8h0.7M156.8,68.9h0.7M167.7,79.4h0.7M166.6,76.9h0.7M171.8,83.4h0.7M174.3,77.8h0.7M167.1,74.5h0.7M162.0,74.7h0.7M161.5,76.5h0.7M161.4,76.1h0.7M162.2,74.3h0.7M157.0,74.1h0.7M165.2,79.5h0.7M167.9,87.3h0.7M155.0,80.0h0.7M153.2,73.5h0.7M156.3,76.4h0.7M169.2,83.1h0.7M163.3,80.6h0.7M163.8,70.5h0.7M171.4,73.4h0.7M158.0,75.8h0.7M155.3,73.2h0.7M165.8,71.8h0.7M157.2,68.3h0.7M149.7,77.6h0.7M163.8,74.5h0.7M171.6,71.6h0.7M164.3,72.8h0.7M161.0,78.4h0.7M152.9,82.4h0.7M160.6,76.4h0.7M160.2,77.8h0.7M153.6,70.6h0.7M163.3,75.1h0.7M158.7,77.6h0.7M170.7,71.4h0.7M146.2,74.6h0.7M150.7,75.0h0.7M155.3,76.3h0.7M172.5,75.7h0.7M150.9,71.1h0.7M154.7,69.5h0.7M163.9,77.0h0.7M167.3,79.9h0.7M160.3,73.4h0.7M158.1,75.9h0.7M157.0,68.8h0.7M175.4,82.5h0.7M159.4,74.0h0.7M158.9,78.1h0.7M159.2,66.1h0.7M162.7,78.6h0.7M152.8,69.5h0.7M160.5,71.0h0.7M167.4,80.0h0.7M150.6,78.2h0.7M152.2,72.8h0.7M169.3,74.9h0.7M165.1,74.1h0.7M173.4,76.1h0.7M179.7,78.7h0.7M158.9,76.4h0.7M159.5,83.1h0.7M154.7,80.2h0.7M170.1,81.1h0.7M153.1,82.1h0.7M166.4,81.3h0.7M155.0,76.9h0.7M168.3,76.7h0.7M162.5,74.2h0.7M160.1,76.2h0.7M176.8,75.6h0.7M158.0,71.4h0.7M163.8,77.0h0.7M158.0,68.3h0.7M172.9,75.4h0.7M156.7,77.3h0.7" stroke="#8090e0" stroke-width="0.7" opacity="0.5"/>
<path d="M148.7,75.0h0.7M148.9,73.4h0.7M145.3,73.6h0.7M155.6,74.8h0.7M155.2,74.5h0.7M152.0,74.4h0.7M141.7,75.7h0.7M152.5,75.0h0.7M141.5,70.5h0.7M145.6,73.1h0.7M151.5,73.9h0.7M152.6,72.7h0.7M151.5,74.8h0.7M146.7,77.4h0.7M152.8,76.4h0.7M146.9,72.5h0.7M148.3,73.8h0.7M153.2,74.5h0.7M147.8,72.1h0.7M147.4,76.4h0.7M146.0,74.5h0.7M152.1,71.0h0.7M150.2,76.6h0.7M139.9,73.4h0.7M149.5,72.4h0.7M152.5,73.9h0.7M142.7,75.7h0.7M153.3,75.9h0.7M157.2,74.7h0.7M150.6,71.4h0.7M153.1,72.8h0.7M147.7,71.5h0.7M145.2,72.9h0.7M156.4,69.9h0.7M142.7,74.5h0.7M157.2,75.2h0.7M140.5,69.0h0.7M151.8,72.5h0.7M144.4,76.0h0.7M155.5,74.3h0.7M151.2,74.9h0.7M158.0,75.2h0.7M152.6,75.1h0.7M142.2,76.6h0.7M154.8,75.1h0.7M140.1,72.7h0.7M154.2,70.4h0.7M149.1,76.0h0.7M143.4,77.2h0.7M152.8,73.7h0.7M151.6,75.3h0.7M150.6,76.3h0.7M146.7,73.2h0.7M155.2,74.1h0.7M145.6,75.9h0.7M157.3,73.1h0.7M143.1,73.7h0.7M149.3,73.4h0.7M157.0,71.9h0.7M156.3,71.5h0.7" stroke="#a7a0e8" stroke-width="0.7" opacity="0.5"/>
<ellipse cx="150.0" cy="74.5" rx="6.0" ry="2.2" fill="#b6b0ee" opacity="0.6" filter="url(#b06)"/>
<g filter="url(#b03)"><path d="M160.5,83.5 L159.8,83.6 L159.0,83.5 L158.5,83.5 L157.8,83.4 L157.1,83.2 L156.5,83.1 L156.0,82.9 L155.5,82.7 L155.0,82.5 L154.5,82.2 L154.0,82.0 L153.5,81.6 L153.0,81.2 L152.7,81.0 L152.2,80.5 L152.0,80.2 L151.6,79.8 L151.3,79.2 L151.0,78.8 L150.8,78.2 L150.6,77.8 L150.4,77.2 L150.3,76.5 L150.2,75.9 L150.2,75.3 L150.3,74.8 L150.4,74.0 L150.6,73.5 L150.8,73.0 L151.0,72.5 L151.3,72.0 L151.6,71.5 L152.0,71.0 L152.2,70.7 L152.7,70.2 L153.0,70.0 L153.5,69.6 L154.0,69.2 L154.4,69.0 L154.9,68.8 L155.4,68.5 L156.0,68.3 L156.5,68.1 L157.0,68.0 L157.8,67.8 L158.2,67.7 L159.0,67.7 L159.8,67.6 L160.5,67.7 L161.1,67.8 L161.8,67.8 L162.4,68.0 L163.0,68.2 L163.5,68.3 L164.0,68.6 L164.5,68.8 L165.0,69.1 L165.5,69.4 L166.0,69.7 L166.3,70.0 L166.8,70.4 L167.1,70.8 L167.5,71.2 L167.8,71.5 L168.1,72.0 L168.3,72.5 L168.6,73.0 L168.8,73.5 L168.9,74.2 L169.0,74.8 L169.1,75.5 L169.0,76.2 L169.0,76.8 L168.8,77.5 L168.6,78.0 L168.4,78.5 L168.2,79.0 L167.9,79.5 L167.5,80.0 L167.2,80.3 L166.8,80.8 L166.5,81.1 L166.0,81.5 L165.6,81.8 L165.2,82.0 L164.8,82.3 L164.2,82.5 L163.8,82.8 L163.1,83.0 L162.5,83.2 L162.0,83.3 L161.2,83.4 L160.7,83.5Z" fill="#a8b4ec"/><path d="M161.0,81.8 L160.5,81.9 L160.0,81.9 L159.5,81.9 L159.0,81.9 L158.5,81.9 L158.0,81.8 L157.8,81.7 L157.2,81.6 L156.9,81.5 L156.5,81.4 L156.2,81.2 L155.8,81.0 L155.5,80.9 L155.2,80.7 L154.9,80.5 L154.5,80.2 L154.2,80.0 L154.0,79.8 L153.8,79.5 L153.5,79.3 L153.3,79.0 L153.1,78.8 L153.0,78.5 L152.8,78.1 L152.6,77.8 L152.5,77.5 L152.3,77.0 L152.2,76.7 L152.2,76.2 L152.1,75.8 L152.1,75.2 L152.2,74.8 L152.2,74.5 L152.4,74.0 L152.5,73.6 L152.7,73.2 L152.8,73.0 L153.0,72.6 L153.2,72.3 L153.4,72.0 L153.7,71.8 L153.9,71.5 L154.2,71.2 L154.5,71.0 L154.8,70.8 L155.0,70.6 L155.2,70.4 L155.6,70.2 L156.0,70.1 L156.2,69.9 L156.8,69.8 L157.0,69.7 L157.5,69.5 L157.8,69.5 L158.2,69.4 L158.8,69.3 L159.2,69.3 L159.8,69.3 L160.2,69.3 L160.8,69.4 L161.2,69.5 L161.5,69.5 L162.0,69.7 L162.3,69.8 L162.8,69.9 L163.0,70.0 L163.4,70.2 L163.8,70.4 L164.0,70.6 L164.2,70.8 L164.6,71.0 L164.9,71.2 L165.1,71.5 L165.4,71.8 L165.6,72.0 L165.8,72.2 L166.0,72.6 L166.2,73.0 L166.4,73.2 L166.5,73.5 L166.7,74.0 L166.8,74.3 L166.8,74.8 L166.9,75.2 L166.9,75.8 L166.9,76.2 L166.8,76.8 L166.7,77.0 L166.6,77.5 L166.5,77.8 L166.2,78.2 L166.1,78.5 L165.9,78.8 L165.7,79.0 L165.5,79.3 L165.2,79.6 L165.0,79.8 L164.8,80.1 L164.5,80.3 L164.2,80.5 L163.8,80.8 L163.5,80.9 L163.2,81.0 L162.8,81.2 L162.5,81.4 L162.1,81.5 L161.8,81.6 L161.2,81.7 L161.0,81.8Z" fill="#5a70d4"/><path d="M161.2,80.5 L160.8,80.6 L160.2,80.7 L159.8,80.7 L159.2,80.7 L158.8,80.7 L158.2,80.6 L157.8,80.5 L157.5,80.5 L157.0,80.3 L156.8,80.2 L156.3,80.0 L156.0,79.8 L155.8,79.6 L155.5,79.5 L155.2,79.2 L155.0,79.0 L154.7,78.8 L154.5,78.5 L154.2,78.2 L154.0,77.8 L153.9,77.5 L153.8,77.2 L153.6,76.8 L153.5,76.2 L153.5,76.0 L153.5,75.5 L153.5,75.0 L153.5,74.8 L153.7,74.2 L153.8,74.0 L154.0,73.5 L154.1,73.2 L154.3,73.0 L154.5,72.7 L154.8,72.4 L155.0,72.2 L155.2,71.9 L155.5,71.7 L155.8,71.5 L156.2,71.3 L156.5,71.1 L156.8,71.0 L157.2,70.8 L157.5,70.7 L158.0,70.6 L158.5,70.5 L158.8,70.5 L159.2,70.5 L159.8,70.5 L160.2,70.5 L160.5,70.5 L161.0,70.6 L161.5,70.8 L161.8,70.8 L162.2,71.0 L162.5,71.2 L162.8,71.3 L163.1,71.5 L163.5,71.8 L163.8,72.0 L164.0,72.2 L164.2,72.5 L164.5,72.8 L164.6,73.0 L164.8,73.2 L165.0,73.6 L165.2,74.0 L165.3,74.2 L165.4,74.8 L165.5,75.2 L165.5,75.8 L165.4,76.2 L165.3,76.8 L165.2,77.0 L165.0,77.5 L164.9,77.8 L164.8,78.0 L164.5,78.4 L164.2,78.7 L164.0,79.0 L163.8,79.2 L163.5,79.4 L163.2,79.6 L163.0,79.8 L162.6,80.0 L162.2,80.2 L162.0,80.3 L161.5,80.4 L161.2,80.5Z" fill="#3a88d8"/><path d="M160.2,79.8 L160.0,79.8 L159.8,79.8 L159.5,79.8 L159.2,79.8 L159.0,79.8 L158.8,79.8 L158.6,79.8 L158.5,79.7 L158.2,79.7 L158.0,79.6 L157.8,79.6 L157.6,79.5 L157.5,79.5 L157.2,79.4 L157.0,79.3 L157.0,79.2 L156.8,79.1 L156.5,79.0 L156.5,79.0 L156.2,78.8 L156.2,78.8 L156.0,78.6 L155.9,78.5 L155.8,78.4 L155.6,78.2 L155.5,78.1 L155.4,78.0 L155.2,77.8 L155.2,77.8 L155.1,77.5 L155.0,77.4 L154.9,77.2 L154.8,77.0 L154.8,76.8 L154.7,76.8 L154.6,76.5 L154.6,76.2 L154.6,76.0 L154.5,75.8 L154.5,75.5 L154.6,75.2 L154.6,75.0 L154.6,74.8 L154.7,74.5 L154.8,74.4 L154.8,74.2 L154.9,74.0 L155.0,73.8 L155.0,73.8 L155.2,73.5 L155.2,73.4 L155.4,73.2 L155.5,73.1 L155.6,73.0 L155.8,72.8 L155.8,72.8 L156.0,72.6 L156.1,72.5 L156.2,72.4 L156.5,72.2 L156.5,72.2 L156.8,72.1 L156.9,72.0 L157.0,71.9 L157.2,71.8 L157.4,71.8 L157.5,71.7 L157.8,71.6 L158.0,71.6 L158.2,71.5 L158.3,71.5 L158.5,71.5 L158.8,71.4 L159.0,71.4 L159.2,71.4 L159.5,71.4 L159.8,71.4 L160.0,71.4 L160.2,71.4 L160.5,71.5 L160.6,71.5 L160.8,71.5 L161.0,71.6 L161.2,71.7 L161.4,71.8 L161.5,71.8 L161.8,71.9 L162.0,72.0 L162.0,72.0 L162.2,72.1 L162.4,72.2 L162.5,72.3 L162.8,72.5 L162.8,72.5 L163.0,72.7 L163.1,72.8 L163.2,72.9 L163.3,73.0 L163.5,73.2 L163.5,73.2 L163.7,73.5 L163.8,73.6 L163.9,73.8 L164.0,74.0 L164.0,74.0 L164.1,74.2 L164.2,74.5 L164.2,74.8 L164.2,74.8 L164.3,75.0 L164.3,75.2 L164.3,75.5 L164.3,75.8 L164.3,76.0 L164.3,76.2 L164.2,76.4 L164.2,76.5 L164.2,76.8 L164.1,77.0 L164.0,77.2 L164.0,77.2 L163.8,77.5 L163.8,77.6 L163.7,77.8 L163.5,78.0 L163.5,78.0 L163.3,78.2 L163.2,78.3 L163.0,78.5 L163.0,78.5 L162.8,78.7 L162.7,78.8 L162.5,78.9 L162.3,79.0 L162.2,79.1 L162.0,79.2 L161.9,79.2 L161.8,79.3 L161.5,79.4 L161.3,79.5 L161.2,79.5 L161.0,79.6 L160.8,79.7 L160.5,79.7 L160.3,79.8 L160.2,79.8Z" fill="#40b0b8"/><path d="M160.0,79.0 L159.8,79.0 L159.5,79.0 L159.2,79.0 L159.0,79.0 L158.8,79.0 L158.8,79.0 L158.5,79.0 L158.2,78.9 L158.0,78.8 L157.8,78.8 L157.8,78.7 L157.5,78.6 L157.3,78.5 L157.2,78.5 L157.0,78.3 L156.9,78.2 L156.8,78.2 L156.6,78.0 L156.5,77.9 L156.3,77.8 L156.2,77.7 L156.1,77.5 L156.0,77.4 L155.9,77.2 L155.8,77.0 L155.8,77.0 L155.7,76.8 L155.6,76.5 L155.5,76.3 L155.5,76.2 L155.5,76.0 L155.4,75.8 L155.4,75.5 L155.4,75.2 L155.5,75.0 L155.5,74.9 L155.5,74.8 L155.6,74.5 L155.7,74.2 L155.8,74.2 L155.9,74.0 L156.0,73.8 L156.1,73.8 L156.2,73.5 L156.3,73.5 L156.5,73.3 L156.5,73.2 L156.8,73.0 L156.8,73.0 L157.0,72.9 L157.2,72.8 L157.2,72.7 L157.5,72.6 L157.7,72.5 L157.8,72.5 L158.0,72.4 L158.2,72.3 L158.5,72.2 L158.5,72.2 L158.8,72.2 L159.0,72.2 L159.2,72.2 L159.5,72.2 L159.8,72.2 L160.0,72.2 L160.2,72.2 L160.4,72.2 L160.5,72.3 L160.8,72.3 L161.0,72.4 L161.2,72.5 L161.2,72.5 L161.5,72.6 L161.7,72.8 L161.8,72.8 L162.0,73.0 L162.1,73.0 L162.2,73.2 L162.4,73.2 L162.5,73.4 L162.6,73.5 L162.8,73.7 L162.8,73.8 L163.0,74.0 L163.0,74.0 L163.1,74.2 L163.2,74.5 L163.2,74.6 L163.3,74.8 L163.4,75.0 L163.4,75.2 L163.4,75.5 L163.4,75.8 L163.4,76.0 L163.4,76.2 L163.3,76.5 L163.2,76.6 L163.2,76.8 L163.1,77.0 L163.0,77.2 L162.9,77.2 L162.8,77.5 L162.8,77.5 L162.6,77.8 L162.5,77.8 L162.3,78.0 L162.2,78.0 L162.0,78.2 L162.0,78.2 L161.8,78.4 L161.6,78.5 L161.5,78.6 L161.2,78.7 L161.1,78.8 L161.0,78.8 L160.8,78.9 L160.5,78.9 L160.2,79.0 L160.1,79.0 L160.0,79.0Z" fill="#58b878"/><path d="M160.0,78.3 L159.8,78.3 L159.5,78.3 L159.2,78.3 L159.0,78.3 L158.8,78.3 L158.7,78.2 L158.5,78.2 L158.2,78.1 L158.0,78.0 L157.9,78.0 L157.8,77.9 L157.5,77.8 L157.5,77.8 L157.2,77.6 L157.2,77.5 L157.0,77.3 L156.9,77.2 L156.8,77.0 L156.7,77.0 L156.6,76.8 L156.5,76.6 L156.4,76.5 L156.4,76.2 L156.3,76.0 L156.3,75.8 L156.3,75.5 L156.3,75.2 L156.3,75.0 L156.4,74.8 L156.5,74.6 L156.5,74.5 L156.7,74.2 L156.8,74.2 L156.9,74.0 L157.0,73.9 L157.1,73.8 L157.2,73.6 L157.4,73.5 L157.5,73.4 L157.8,73.3 L157.8,73.2 L158.0,73.2 L158.2,73.1 L158.5,73.0 L158.5,73.0 L158.8,72.9 L159.0,72.9 L159.2,72.9 L159.5,72.9 L159.8,72.9 L160.0,72.9 L160.2,73.0 L160.3,73.0 L160.5,73.0 L160.8,73.1 L161.0,73.2 L161.0,73.2 L161.2,73.4 L161.4,73.5 L161.5,73.6 L161.7,73.8 L161.8,73.8 L162.0,74.0 L162.0,74.0 L162.2,74.2 L162.2,74.4 L162.3,74.5 L162.4,74.8 L162.5,75.0 L162.5,75.0 L162.6,75.2 L162.6,75.5 L162.6,75.8 L162.5,76.0 L162.5,76.2 L162.5,76.2 L162.4,76.5 L162.3,76.8 L162.2,76.8 L162.1,77.0 L162.0,77.2 L161.9,77.2 L161.8,77.4 L161.7,77.5 L161.5,77.6 L161.4,77.8 L161.2,77.8 L161.0,78.0 L160.9,78.0 L160.8,78.1 L160.5,78.2 L160.2,78.2 L160.1,78.2 L160.0,78.3Z" fill="#a8c040"/><path d="M160.2,77.5 L160.0,77.6 L159.8,77.6 L159.5,77.6 L159.2,77.6 L159.0,77.6 L158.8,77.6 L158.5,77.5 L158.5,77.5 L158.2,77.4 L158.0,77.2 L158.0,77.2 L157.8,77.1 L157.7,77.0 L157.5,76.8 L157.4,76.8 L157.3,76.5 L157.2,76.4 L157.2,76.2 L157.1,76.0 L157.0,75.8 L157.0,75.5 L157.1,75.2 L157.1,75.0 L157.2,74.8 L157.3,74.8 L157.4,74.5 L157.5,74.4 L157.6,74.2 L157.8,74.1 L157.9,74.0 L158.0,74.0 L158.2,73.8 L158.4,73.8 L158.5,73.7 L158.8,73.6 L159.0,73.6 L159.2,73.6 L159.5,73.6 L159.8,73.6 L160.0,73.6 L160.2,73.7 L160.4,73.8 L160.5,73.8 L160.8,73.9 L160.9,74.0 L161.0,74.1 L161.2,74.2 L161.2,74.3 L161.4,74.5 L161.5,74.6 L161.6,74.8 L161.7,75.0 L161.8,75.2 L161.8,75.2 L161.8,75.5 L161.8,75.8 L161.8,76.0 L161.8,76.0 L161.7,76.2 L161.6,76.5 L161.5,76.6 L161.4,76.8 L161.2,76.9 L161.2,77.0 L161.0,77.1 L160.8,77.2 L160.8,77.3 L160.5,77.4 L160.3,77.5 L160.2,77.5Z" fill="#d0a830"/></g>
<rect x="50.1" y="36.7" width="24.5" height="24.8" fill="none" stroke="#505050" stroke-width="1.0"/>
<rect x="77.5" y="68.3" width="19.2" height="15.5" fill="none" stroke="#505050" stroke-width="1.0"/>
<rect x="124.2" y="36.3" width="24.3" height="25.1" fill="none" stroke="#505050" stroke-width="1.0"/>
<rect x="151.4" y="68.3" width="19.6" height="15.6" fill="none" stroke="#505050" stroke-width="1.0"/>
<text stroke="#231f20" stroke-width="0.06" fill="#231f20" x="47.5" y="30.6" font-size="8.0" textLength="24.8" lengthAdjust="spacingAndGlyphs">WT B6</text>
<text stroke="#4a5aa5" stroke-width="0.06" x="121.3" y="30.7" font-size="8.2" font-style="italic" fill="#4a5aa5" textLength="32.5" lengthAdjust="spacingAndGlyphs">Irf8 +32</text>
<text stroke="#4a5aa5" stroke-width="0.06" x="154.2" y="27.2" font-size="4.6" font-style="italic" fill="#4a5aa5">-/-</text>
<text stroke="#231f20" stroke-width="0.2" fill="#231f20" x="76.9" y="47.3" font-size="10" textLength="19.4" lengthAdjust="spacingAndGlyphs">12.8</text>
<text stroke="#231f20" stroke-width="0.2" fill="#231f20" x="150.8" y="47.3" font-size="10" textLength="19.6" lengthAdjust="spacingAndGlyphs">0.03</text>
<text stroke="#231f20" stroke-width="0.2" fill="#231f20" x="46.9" y="80.6" font-size="10" textLength="19.4" lengthAdjust="spacingAndGlyphs">78.4</text>
<text stroke="#231f20" stroke-width="0.2" fill="#231f20" x="121.5" y="80.6" font-size="10" textLength="20.6" lengthAdjust="spacingAndGlyphs">94.9</text>
<text stroke="#231f20" stroke-width="0.06" fill="#231f20" x="30.3" y="34.8" font-size="7.7">10<tspan font-size="4.62" dy="-3.47">5</tspan></text>
<text stroke="#231f20" stroke-width="0.06" fill="#231f20" x="30.3" y="49.5" font-size="7.7">10<tspan font-size="4.62" dy="-3.47">4</tspan></text>
<text stroke="#231f20" stroke-width="0.06" fill="#231f20" x="30.3" y="66.1" font-size="7.7">10<tspan font-size="4.62" dy="-3.47">3</tspan></text>
<text stroke="#231f20" stroke-width="0.06" fill="#231f20" x="32.6" y="78.8" font-size="7.7">0</text>
<path d="M44.6,29.8h-1.8M44.6,44.5h-1.8M44.6,61.0h-1.8M44.6,75.2h-1.8" fill="none" stroke="#3c3c3c" stroke-width="0.8"/>
<path d="M44.6,24.0h-0.9M44.6,27.0h-0.9M44.6,29.9h-0.9M44.6,32.9h-0.9M44.6,35.8h-0.9M44.6,38.8h-0.9M44.6,41.7h-0.9M44.6,44.7h-0.9M44.6,47.6h-0.9M44.6,50.6h-0.9M44.6,53.5h-0.9M44.6,56.5h-0.9M44.6,59.4h-0.9M44.6,62.4h-0.9M44.6,65.3h-0.9M44.6,68.3h-0.9M44.6,71.2h-0.9M44.6,74.2h-0.9M44.6,77.1h-0.9M44.6,80.1h-0.9M44.6,83.0h-0.9M44.6,86.0h-0.9" fill="none" stroke="#555" stroke-width="0.6"/>
<path d="M118.4,29.8h-1.8M118.4,44.5h-1.8M118.4,61.0h-1.8M118.4,75.2h-1.8" fill="none" stroke="#3c3c3c" stroke-width="0.8"/>
<path d="M118.4,24.0h-0.9M118.4,27.0h-0.9M118.4,29.9h-0.9M118.4,32.9h-0.9M118.4,35.8h-0.9M118.4,38.8h-0.9M118.4,41.7h-0.9M118.4,44.7h-0.9M118.4,47.6h-0.9M118.4,50.6h-0.9M118.4,53.5h-0.9M118.4,56.5h-0.9M118.4,59.4h-0.9M118.4,62.4h-0.9M118.4,65.3h-0.9M118.4,68.3h-0.9M118.4,71.2h-0.9M118.4,74.2h-0.9M118.4,77.1h-0.9M118.4,80.1h-0.9M118.4,83.0h-0.9M118.4,86.0h-0.9" fill="none" stroke="#555" stroke-width="0.6"/>
<text stroke="#231f20" stroke-width="0.06" fill="#231f20" x="40.4" y="98.7" font-size="8.0">−10<tspan font-size="4.80" dy="-3.60">3</tspan></text>
<text stroke="#231f20" stroke-width="0.06" fill="#231f20" x="56.3" y="98.7" font-size="8.0">0</text>
<text stroke="#231f20" stroke-width="0.06" fill="#231f20" x="66.6" y="98.7" font-size="8.0">10<tspan font-size="4.80" dy="-3.60">3</tspan></text>
<text stroke="#231f20" stroke-width="0.06" fill="#231f20" x="83.5" y="98.7" font-size="8.0">10<tspan font-size="4.80" dy="-3.60">4</tspan></text>
<text stroke="#231f20" stroke-width="0.06" fill="#231f20" x="99.8" y="98.7" font-size="8.0">10<tspan font-size="4.80" dy="-3.60">5</tspan></text>
<line x1="44.3" y1="73.0" x2="44.3" y2="80.0" stroke="#222" stroke-width="1.3"/>
<line x1="118.1" y1="73.0" x2="118.1" y2="80.0" stroke="#222" stroke-width="1.3"/>
<path d="M46.6,88.0v0.9M49.3,88.0v0.9M52.0,88.0v0.9M54.7,88.0v0.9M57.4,88.0v0.9M60.1,88.0v0.9M62.8,88.0v0.9M65.5,88.0v0.9M68.2,88.0v0.9M70.9,88.0v0.9M73.6,88.0v0.9M76.3,88.0v0.9M78.9,88.0v0.9M81.6,88.0v0.9M84.3,88.0v0.9M87.0,88.0v0.9M89.7,88.0v0.9M92.4,88.0v0.9M95.1,88.0v0.9M97.8,88.0v0.9M100.5,88.0v0.9M103.2,88.0v0.9M105.9,88.0v0.9M108.6,88.0v0.9" fill="none" stroke="#555" stroke-width="0.6"/>
<path d="M120.4,88.4v0.9M123.1,88.4v0.9M125.8,88.4v0.9M128.5,88.4v0.9M131.2,88.4v0.9M133.9,88.4v0.9M136.6,88.4v0.9M139.3,88.4v0.9M142.0,88.4v0.9M144.7,88.4v0.9M147.4,88.4v0.9M150.1,88.4v0.9M152.7,88.4v0.9M155.4,88.4v0.9M158.1,88.4v0.9M160.8,88.4v0.9M163.5,88.4v0.9M166.2,88.4v0.9M168.9,88.4v0.9M171.6,88.4v0.9M174.3,88.4v0.9M177.0,88.4v0.9M179.7,88.4v0.9M182.4,88.4v0.9" fill="none" stroke="#555" stroke-width="0.6"/>
<line x1="56.5" y1="88.6" x2="60.0" y2="88.6" stroke="#111" stroke-width="1.4"/>
<line x1="130.3" y1="88.9" x2="134.0" y2="88.9" stroke="#111" stroke-width="1.4"/>
<text stroke="#231f20" stroke-width="0.2" fill="#231f20" x="27.0" y="75.8" font-size="10" textLength="26.7" lengthAdjust="spacingAndGlyphs" transform="rotate(-90 27.0 75.8)">XCR1</text>
<text stroke="#231f20" stroke-width="0.2" fill="#231f20" x="94.6" y="110.4" font-size="10.3" textLength="24.5" lengthAdjust="spacingAndGlyphs">Sirpα</text>
<line x1="251.5" y1="14.8" x2="251.5" y2="101.0" stroke="#505050" stroke-width="0.9"/>
<line x1="251.5" y1="101.0" x2="338.7" y2="101.0" stroke="#505050" stroke-width="0.9"/>
<path d="M251.5,101.0h-2.6M251.5,79.5h-2.6M251.5,57.9h-2.6M251.5,36.3h-2.6M251.5,14.8h-2.6" fill="none" stroke="#3c3c3c" stroke-width="0.8"/>
<text stroke="#231f20" stroke-width="0.2" fill="#231f20" x="245.0" y="106.0" font-size="10" text-anchor="end">0</text>
<text stroke="#231f20" stroke-width="0.2" fill="#231f20" x="245.0" y="84.5" font-size="10" text-anchor="end">50</text>
<text stroke="#231f20" stroke-width="0.2" fill="#231f20" x="245.0" y="62.9" font-size="10" text-anchor="end">100</text>
<text stroke="#231f20" stroke-width="0.2" fill="#231f20" x="245.0" y="41.3" font-size="10" text-anchor="end">150</text>
<text stroke="#231f20" stroke-width="0.2" fill="#231f20" x="245.0" y="19.8" font-size="10" text-anchor="end">200</text>
<path d="M251.7,101.0v2.4M273.4,101.0v2.4M295.2,101.0v2.4M316.9,101.0v2.4M338.7,101.0v2.4" fill="none" stroke="#3c3c3c" stroke-width="0.8"/>
<text stroke="#231f20" stroke-width="0.2" fill="#231f20" x="251.7" y="114.7" font-size="10" text-anchor="middle">0</text>
<text stroke="#231f20" stroke-width="0.2" fill="#231f20" x="273.4" y="114.7" font-size="10" text-anchor="middle">5</text>
<text stroke="#231f20" stroke-width="0.2" fill="#231f20" x="295.2" y="114.7" font-size="10" text-anchor="middle">10</text>
<text stroke="#231f20" stroke-width="0.2" fill="#231f20" x="316.9" y="114.7" font-size="10" text-anchor="middle">15</text>
<text stroke="#231f20" stroke-width="0.2" fill="#231f20" x="338.7" y="114.7" font-size="10" text-anchor="middle">20</text>
<line x1="349.7" y1="14.8" x2="349.7" y2="100.6" stroke="#505050" stroke-width="0.9"/>
<line x1="349.7" y1="100.6" x2="436.0" y2="100.6" stroke="#505050" stroke-width="0.9"/>
<path d="M349.7,79.2h-2.6M349.7,57.6h-2.6M349.7,36.0h-2.6M349.7,14.5h-2.6" fill="none" stroke="#3c3c3c" stroke-width="0.8"/>
<path d="M349.7,100.6v2.4M371.3,100.6v2.4M392.9,100.6v2.4M414.4,100.6v2.4M436.0,100.6v2.4" fill="none" stroke="#3c3c3c" stroke-width="0.8"/>
<text stroke="#231f20" stroke-width="0.2" fill="#231f20" x="349.7" y="114.7" font-size="10" text-anchor="middle">0</text>
<text stroke="#231f20" stroke-width="0.2" fill="#231f20" x="371.3" y="114.7" font-size="10" text-anchor="middle">5</text>
<text stroke="#231f20" stroke-width="0.2" fill="#231f20" x="392.9" y="114.7" font-size="10" text-anchor="middle">10</text>
<text stroke="#231f20" stroke-width="0.2" fill="#231f20" x="414.4" y="114.7" font-size="10" text-anchor="middle">15</text>
<text stroke="#231f20" stroke-width="0.2" fill="#231f20" x="436.0" y="114.7" font-size="10" text-anchor="middle">20</text>
<text stroke="#231f20" stroke-width="0.12" fill="#231f20" x="256.5" y="22.6" font-size="8.5" textLength="24.7" lengthAdjust="spacingAndGlyphs">WT B6</text>
<text stroke="#231f20" stroke-width="0.12" fill="#231f20" x="254.7" y="31.2" font-size="8.5" textLength="48.5" lengthAdjust="spacingAndGlyphs">(6/6 regress)</text>
<text stroke="#4a5aa5" stroke-width="0.12" x="354.3" y="23.0" font-size="8.8" font-style="italic" fill="#4a5aa5" textLength="30.5" lengthAdjust="spacingAndGlyphs">Irf8 +32</text>
<text stroke="#4a5aa5" stroke-width="0.06" x="385.5" y="19.5" font-size="4.6" font-style="italic" fill="#4a5aa5">-/-</text>
<text stroke="#4a5aa5" stroke-width="0.12" x="354.3" y="31.1" font-size="8.5" fill="#4a5aa5" textLength="47.0" lengthAdjust="spacingAndGlyphs">(0/6 regress)</text>
<text stroke="#231f20" stroke-width="0.2" fill="#231f20" x="331.5" y="126.8" font-size="10" textLength="23.3" lengthAdjust="spacingAndGlyphs">Days</text>
<text stroke="#231f20" stroke-width="0.2" fill="#231f20" x="223.5" y="97.7" font-size="10.2" transform="rotate(-90 223.5 97.7)" textLength="82" lengthAdjust="spacingAndGlyphs">Tumor size (mm<tspan font-size="6.5" dy="-4">2</tspan><tspan dy="4">)</tspan></text>
<path d="M251.7,101.0 L269.0,90.5 L282.0,72.1 L295.0,88.5 L308.0,97.0 L321.0,101.0" fill="none" stroke="#111" stroke-width="0.9" stroke-linejoin="round"/>
<path d="M251.7,101.0 L269.0,96.0 L281.0,80.5 L285.0,81.0 L295.0,94.5 L312.0,100.0 L318.0,101.0" fill="none" stroke="#111" stroke-width="0.9" stroke-linejoin="round"/>
<path d="M251.7,101.0 L269.0,90.0 L279.0,82.0 L286.0,82.0 L296.0,96.0 L305.0,101.0" fill="none" stroke="#111" stroke-width="0.9" stroke-linejoin="round"/>
<path d="M251.7,101.0 L273.0,87.0 L282.0,77.0 L296.0,93.0 L310.0,99.5 L321.0,101.0" fill="none" stroke="#111" stroke-width="0.9" stroke-linejoin="round"/>
<path d="M251.7,101.0 L269.0,84.0 L281.0,76.4 L296.0,95.5 L306.0,100.5" fill="none" stroke="#111" stroke-width="1.5" stroke-linejoin="round"/>
<path d="M251.7,101.0 L269.0,86.5 L282.0,78.0 L295.0,93.0 L303.0,99.0 L308.0,101.0" fill="none" stroke="#111" stroke-width="1.5" stroke-linejoin="round"/>
<path d="M349.7,100.6 L371.0,89.0 L384.0,81.0 L395.0,61.0 L404.0,50.0 L414.3,14.0" fill="none" stroke="#3a4ea8" stroke-width="0.85" stroke-linejoin="round"/>
<path d="M349.7,100.6 L371.0,89.5 L384.0,81.5 L395.0,62.0 L404.0,50.0 L414.3,20.0" fill="none" stroke="#3a4ea8" stroke-width="0.85" stroke-linejoin="round"/>
<path d="M349.7,100.6 L371.0,90.0 L384.0,82.0 L395.0,63.0 L404.0,51.0 L414.3,35.0" fill="none" stroke="#3a4ea8" stroke-width="0.85" stroke-linejoin="round"/>
<path d="M349.7,100.6 L371.0,90.5 L384.0,82.5 L395.0,64.5 L403.0,53.0 L414.3,48.0" fill="none" stroke="#3a4ea8" stroke-width="0.85" stroke-linejoin="round"/>
<path d="M349.7,100.6 L371.0,91.5 L384.0,87.5 L395.0,76.0 L402.0,68.0 L414.3,48.0" fill="none" stroke="#3a4ea8" stroke-width="0.85" stroke-linejoin="round"/>
<path d="M349.7,100.6 L371.0,93.0 L384.0,93.4 L395.0,89.0 L404.0,85.0 L414.3,79.0" fill="none" stroke="#3a4ea8" stroke-width="0.85" stroke-linejoin="round"/>
<text stroke="#231f20" stroke-width="0.2" fill="#231f20" x="62.8" y="134.0" font-size="10.3" textLength="36.6" lengthAdjust="spacingAndGlyphs">GMDCs</text>
<text stroke="#231f20" stroke-width="0.2" fill="#231f20" x="124.7" y="133.6" font-size="10.3" textLength="51.0" lengthAdjust="spacingAndGlyphs">Flt3L cDCs</text>
<rect x="44.9" y="138.5" width="66.3" height="65.0" fill="none" stroke="#505050" stroke-width="0.9"/>
<g filter="url(#b06)"><path d="M69.8,186.8 L67.5,186.8 L65.2,186.8 L64.0,185.9 L63.0,184.8 L62.0,183.4 L61.9,181.2 L61.9,179.0 L61.8,176.8 L61.8,174.5 L61.8,172.2 L61.8,170.0 L61.8,167.8 L61.8,165.5 L61.9,163.2 L61.9,161.0 L61.9,158.8 L62.2,157.0 L63.2,155.7 L64.4,154.5 L65.8,153.5 L67.2,152.9 L69.2,152.6 L71.5,152.6 L73.5,152.4 L75.2,151.9 L76.8,151.1 L78.2,150.2 L79.5,149.3 L80.8,148.4 L82.1,147.5 L83.5,146.7 L85.0,145.9 L86.5,145.2 L88.2,144.6 L90.0,144.1 L91.8,143.7 L93.8,143.4 L96.0,143.3 L98.2,143.4 L100.2,143.7 L102.0,144.2 L103.5,144.8 L105.0,145.7 L106.2,146.6 L107.4,147.8 L108.3,149.0 L109.0,150.5 L109.0,152.8 L109.0,155.0 L109.0,157.2 L108.9,159.2 L108.2,161.0 L107.5,162.5 L106.7,163.8 L105.7,165.0 L104.5,166.1 L103.2,167.1 L101.8,168.0 L100.2,168.7 L98.5,169.2 L96.8,169.8 L95.0,170.2 L93.4,170.8 L91.8,171.4 L90.2,172.0 L88.6,172.8 L87.0,173.5 L85.5,174.1 L83.8,174.8 L82.2,175.3 L80.5,175.9 L79.0,176.5 L77.5,177.4 L76.2,178.4 L75.2,179.6 L74.3,181.0 L73.5,182.3 L72.6,183.8 L71.7,185.0 L70.5,186.2Z" fill="#fbd0d2"/><path d="M68.5,182.5 L66.5,182.6 L65.2,181.8 L64.2,180.8 L63.5,179.8 L62.7,178.5 L62.0,177.0 L62.0,175.2 L61.9,173.2 L61.9,171.2 L61.9,169.2 L61.9,167.2 L62.0,165.2 L62.0,163.4 L62.6,162.0 L63.3,160.8 L64.2,159.5 L65.1,158.5 L66.2,157.6 L67.6,157.0 L69.2,156.7 L71.2,156.8 L72.8,156.7 L74.5,156.5 L76.0,155.9 L77.2,155.2 L78.4,154.2 L79.4,153.2 L80.2,152.2 L81.2,151.1 L82.2,150.0 L83.2,149.1 L84.4,148.2 L85.6,147.5 L87.0,146.8 L88.3,146.2 L89.9,145.8 L91.5,145.4 L93.2,145.2 L95.2,145.2 L97.0,145.4 L98.6,145.8 L100.0,146.3 L101.3,147.0 L102.5,148.0 L103.5,149.0 L104.2,150.0 L105.0,151.3 L105.6,152.8 L106.0,154.5 L106.0,156.2 L105.8,158.0 L105.3,159.5 L104.8,160.8 L104.0,162.0 L103.0,163.1 L102.0,164.0 L100.8,164.8 L99.2,165.4 L97.8,165.9 L96.1,166.2 L94.5,166.6 L92.8,167.0 L91.2,167.5 L90.0,168.0 L88.5,168.6 L87.2,169.2 L85.8,169.9 L84.2,170.5 L82.8,171.0 L81.3,171.5 L79.8,172.0 L78.3,172.5 L77.0,173.1 L75.8,174.0 L74.8,175.0 L74.0,176.1 L73.2,177.2 L72.4,178.5 L71.6,179.8 L70.8,180.8 L69.8,181.8 L68.5,182.5Z" fill="#f6a4a8"/><path d="M67.8,178.0 L66.5,177.8 L65.5,176.9 L64.8,175.9 L64.2,174.8 L63.8,173.5 L63.4,172.0 L63.3,170.2 L63.4,168.5 L63.6,167.0 L64.0,165.6 L64.5,164.4 L65.2,163.2 L66.0,162.2 L66.9,161.5 L68.0,161.0 L69.8,160.8 L71.2,161.1 L72.7,161.5 L74.2,161.7 L75.8,161.5 L77.0,161.0 L78.2,160.2 L79.2,159.5 L80.2,158.8 L81.0,157.9 L81.6,156.8 L82.0,155.4 L82.3,154.0 L82.8,152.8 L83.4,151.5 L84.2,150.5 L85.0,149.7 L86.0,148.9 L87.0,148.2 L88.2,147.7 L89.5,147.2 L91.0,146.8 L92.5,146.6 L94.2,146.6 L95.8,146.8 L97.2,147.2 L98.3,147.8 L99.3,148.5 L100.2,149.5 L100.9,150.5 L101.5,151.7 L102.0,153.0 L102.3,154.2 L102.5,155.8 L102.4,157.2 L102.0,158.7 L101.4,159.8 L100.5,160.7 L99.5,161.4 L98.2,162.0 L97.0,162.3 L95.2,162.4 L93.7,162.5 L92.0,162.6 L90.5,162.9 L89.2,163.3 L88.0,163.9 L86.8,164.5 L85.7,165.0 L84.5,165.5 L83.2,166.0 L81.8,166.5 L80.5,166.8 L79.0,167.1 L77.5,167.4 L76.2,168.0 L75.3,168.8 L74.5,169.7 L73.8,170.7 L73.1,171.8 L72.5,172.9 L71.8,174.0 L71.2,175.0 L70.5,176.0 L69.7,177.0 L68.6,177.8Z" fill="#f07278"/><path d="M93.8,156.8 L93.2,156.8 L92.8,156.9 L92.2,156.9 L91.8,156.9 L91.2,157.0 L90.8,157.0 L90.2,157.0 L89.8,156.9 L89.2,156.9 L88.8,156.8 L88.3,156.8 L88.0,156.7 L87.5,156.5 L87.2,156.4 L86.9,156.2 L86.5,156.0 L86.2,155.9 L86.0,155.6 L85.8,155.4 L85.5,155.1 L85.3,154.8 L85.2,154.5 L85.1,154.0 L85.0,153.5 L85.0,153.2 L85.0,153.0 L85.1,152.5 L85.2,152.1 L85.4,151.8 L85.6,151.5 L85.8,151.2 L86.0,150.9 L86.2,150.6 L86.5,150.3 L86.8,150.1 L87.0,149.9 L87.2,149.7 L87.5,149.5 L87.9,149.2 L88.2,149.1 L88.5,148.9 L88.9,148.8 L89.2,148.6 L89.5,148.5 L90.0,148.3 L90.3,148.2 L90.8,148.2 L91.2,148.1 L91.6,148.0 L92.0,148.0 L92.5,147.9 L93.0,147.9 L93.5,147.9 L94.0,148.0 L94.2,148.0 L94.8,148.1 L95.1,148.2 L95.5,148.4 L95.8,148.5 L96.2,148.7 L96.5,148.9 L96.8,149.1 L97.0,149.3 L97.3,149.5 L97.5,149.8 L97.8,150.1 L98.0,150.5 L98.1,150.8 L98.2,151.2 L98.3,151.5 L98.3,152.0 L98.3,152.5 L98.3,153.0 L98.2,153.2 L98.1,153.8 L98.0,154.1 L97.8,154.5 L97.7,154.8 L97.5,155.0 L97.2,155.3 L97.0,155.5 L96.7,155.8 L96.4,156.0 L96.0,156.2 L95.8,156.3 L95.2,156.5 L95.0,156.5 L94.5,156.6 L94.0,156.7 L93.8,156.8ZM68.0,170.8 L67.9,170.8 L67.8,170.7 L67.5,170.5 L67.5,170.5 L67.4,170.2 L67.3,170.0 L67.3,169.8 L67.2,169.7 L67.2,169.5 L67.2,169.2 L67.2,169.1 L67.3,169.0 L67.3,168.8 L67.4,168.5 L67.5,168.3 L67.5,168.2 L67.7,168.0 L67.8,167.9 L67.9,167.8 L68.0,167.7 L68.2,167.6 L68.5,167.6 L68.7,167.8 L68.8,167.8 L68.9,168.0 L69.0,168.2 L69.0,168.2 L69.1,168.5 L69.1,168.8 L69.1,169.0 L69.1,169.2 L69.0,169.5 L69.0,169.6 L69.0,169.8 L68.9,170.0 L68.8,170.2 L68.7,170.2 L68.5,170.5 L68.5,170.5 L68.2,170.7 L68.1,170.8 L68.0,170.8Z" fill="#e8464e"/><path d="M91.5,155.0 L91.2,155.0 L91.0,155.1 L90.8,155.1 L90.5,155.1 L90.2,155.1 L90.0,155.0 L89.8,155.0 L89.6,155.0 L89.5,155.0 L89.2,154.9 L89.0,154.9 L88.8,154.8 L88.6,154.8 L88.5,154.7 L88.2,154.6 L88.1,154.5 L88.0,154.5 L87.8,154.3 L87.7,154.2 L87.5,154.1 L87.4,154.0 L87.3,153.8 L87.2,153.7 L87.1,153.5 L87.0,153.2 L87.0,153.2 L87.0,153.0 L86.9,152.8 L87.0,152.5 L87.0,152.3 L87.0,152.2 L87.1,152.0 L87.2,151.8 L87.2,151.6 L87.3,151.5 L87.5,151.2 L87.5,151.2 L87.7,151.0 L87.8,150.9 L87.9,150.8 L88.0,150.7 L88.2,150.5 L88.2,150.5 L88.5,150.3 L88.5,150.2 L88.8,150.1 L88.9,150.0 L89.0,149.9 L89.2,149.8 L89.4,149.8 L89.5,149.7 L89.8,149.6 L90.0,149.5 L90.0,149.5 L90.2,149.4 L90.5,149.3 L90.8,149.3 L90.8,149.2 L91.0,149.2 L91.2,149.2 L91.5,149.1 L91.8,149.1 L92.0,149.1 L92.2,149.1 L92.5,149.1 L92.8,149.1 L93.0,149.1 L93.2,149.1 L93.5,149.2 L93.8,149.2 L93.8,149.2 L94.0,149.3 L94.2,149.4 L94.5,149.5 L94.5,149.5 L94.8,149.6 L94.9,149.8 L95.0,149.8 L95.2,150.0 L95.2,150.0 L95.5,150.2 L95.5,150.3 L95.7,150.5 L95.8,150.7 L95.8,150.8 L95.9,151.0 L96.0,151.2 L96.0,151.5 L96.0,151.8 L96.0,152.0 L95.9,152.2 L95.8,152.5 L95.8,152.6 L95.7,152.8 L95.5,153.0 L95.5,153.1 L95.4,153.2 L95.2,153.4 L95.1,153.5 L95.0,153.6 L94.8,153.8 L94.8,153.8 L94.5,154.0 L94.5,154.0 L94.2,154.2 L94.1,154.2 L94.0,154.3 L93.8,154.4 L93.5,154.5 L93.5,154.5 L93.2,154.6 L93.0,154.7 L92.8,154.8 L92.8,154.8 L92.5,154.8 L92.2,154.9 L92.0,154.9 L91.8,155.0 L91.6,155.0 L91.5,155.0Z" fill="#e0303a"/></g>
<path d="M69.9,171.5h0.7M93.0,152.8h0.7M67.1,168.8h0.7M92.3,167.3h0.7M64.3,159.3h0.7M92.9,161.6h0.7M104.4,160.7h0.7M80.9,160.6h0.7M69.9,158.1h0.7M84.6,162.5h0.7M78.7,163.4h0.7M88.6,165.5h0.7M96.6,157.5h0.7M64.3,176.9h0.7M65.7,168.6h0.7M65.6,170.1h0.7M74.6,167.8h0.7M88.5,147.8h0.7M81.8,168.4h0.7M83.2,165.2h0.7M80.8,154.1h0.7M86.9,153.0h0.7M103.3,148.1h0.7M91.1,158.2h0.7M92.2,152.4h0.7M94.3,155.6h0.7M100.0,159.6h0.7M82.0,155.6h0.7M93.6,161.2h0.7M101.1,150.2h0.7M91.3,162.6h0.7M87.0,162.0h0.7M83.1,156.7h0.7M69.7,164.7h0.7M95.1,169.7h0.7M98.1,164.3h0.7M94.5,162.8h0.7M87.8,166.6h0.7M102.8,149.9h0.7M81.5,180.0h0.7M89.2,167.7h0.7M89.5,149.0h0.7M87.6,166.5h0.7M81.5,154.9h0.7M82.9,165.3h0.7M98.5,161.0h0.7M88.3,171.5h0.7M76.7,171.9h0.7M95.1,153.8h0.7M87.6,164.5h0.7M97.8,146.2h0.7M85.2,166.7h0.7M73.1,145.7h0.7M100.3,174.3h0.7M91.7,149.8h0.7M78.9,165.9h0.7M89.6,172.7h0.7M88.3,175.9h0.7M73.3,162.3h0.7M96.3,168.4h0.7M91.7,160.6h0.7M74.0,161.5h0.7M88.8,156.3h0.7M92.6,158.3h0.7M79.5,164.7h0.7M91.0,165.9h0.7M76.6,162.9h0.7M72.4,181.1h0.7M99.5,152.7h0.7M73.2,155.7h0.7M85.7,162.6h0.7M65.6,148.5h0.7M100.2,155.6h0.7M64.6,172.1h0.7M98.1,160.0h0.7M73.7,147.4h0.7M76.3,151.4h0.7M82.8,143.2h0.7M76.4,175.8h0.7M98.4,144.4h0.7M67.9,176.8h0.7M89.7,150.2h0.7M72.5,160.8h0.7M66.7,163.6h0.7M100.1,160.1h0.7M106.9,150.1h0.7M78.1,155.6h0.7M77.1,153.2h0.7M64.4,176.8h0.7M102.8,160.2h0.7M99.6,156.5h0.7M74.8,166.6h0.7M74.8,156.0h0.7M83.4,163.1h0.7M82.2,175.0h0.7M87.1,165.2h0.7M94.6,149.4h0.7M62.3,178.3h0.7M79.3,175.3h0.7M90.4,167.4h0.7M85.0,142.7h0.7M89.2,153.2h0.7M72.6,163.0h0.7M95.0,164.2h0.7M89.3,144.4h0.7M68.0,148.0h0.7M83.8,166.9h0.7M74.8,168.0h0.7M89.1,168.0h0.7M70.5,160.5h0.7M79.9,178.9h0.7M95.4,155.1h0.7M86.0,161.6h0.7M84.7,159.4h0.7M74.8,154.7h0.7M81.0,177.5h0.7M89.5,159.5h0.7M80.7,163.6h0.7M85.0,155.4h0.7M86.1,162.7h0.7M71.5,160.4h0.7M67.6,159.8h0.7M77.8,159.0h0.7M76.0,166.1h0.7M96.5,156.4h0.7M79.3,158.3h0.7M84.6,169.3h0.7M74.5,155.9h0.7M64.4,160.9h0.7M70.3,177.6h0.7M86.4,158.3h0.7M98.0,149.2h0.7M94.6,163.7h0.7M75.1,173.7h0.7M94.1,146.0h0.7M94.1,153.5h0.7M76.5,160.2h0.7M73.0,150.6h0.7M67.0,158.5h0.7M95.8,174.5h0.7M78.6,181.5h0.7M87.3,153.6h0.7M95.8,160.7h0.7M62.1,167.1h0.7M80.2,163.5h0.7M83.4,158.8h0.7M83.3,156.7h0.7M77.6,177.9h0.7M88.7,163.2h0.7M63.6,169.6h0.7M88.3,148.1h0.7M94.6,153.1h0.7M87.3,158.8h0.7M89.6,169.5h0.7M83.5,175.6h0.7M70.6,159.5h0.7M87.8,150.4h0.7M81.7,170.6h0.7M95.3,172.9h0.7M96.3,153.7h0.7M74.9,163.1h0.7M68.5,166.4h0.7M80.3,162.0h0.7M96.2,153.8h0.7M69.4,177.6h0.7M68.8,164.7h0.7M80.3,160.2h0.7M70.3,165.7h0.7M106.7,145.6h0.7M85.2,170.9h0.7M94.4,163.4h0.7M86.5,143.0h0.7M73.3,167.7h0.7M93.3,168.6h0.7M87.7,157.7h0.7M82.7,160.3h0.7M88.2,165.5h0.7M76.2,158.0h0.7M76.6,174.6h0.7M101.4,162.2h0.7M95.9,163.3h0.7M85.2,166.8h0.7M69.9,166.3h0.7M76.8,171.3h0.7M75.8,164.4h0.7M92.3,169.6h0.7M70.5,159.5h0.7M88.9,149.5h0.7M86.4,155.4h0.7M75.6,149.4h0.7M89.7,154.5h0.7M79.4,182.0h0.7M103.3,183.5h0.7M86.6,157.2h0.7M89.7,173.1h0.7M84.2,165.4h0.7M86.0,152.6h0.7M82.8,157.6h0.7M71.3,175.2h0.7M91.1,158.9h0.7M65.5,152.4h0.7M88.4,158.6h0.7M63.0,170.8h0.7M65.0,170.2h0.7M85.9,163.8h0.7M86.1,162.0h0.7M68.3,165.5h0.7M76.2,163.1h0.7M88.3,165.0h0.7M87.1,158.4h0.7M64.9,174.0h0.7M80.2,172.1h0.7M70.2,167.1h0.7M81.1,162.0h0.7M69.9,151.9h0.7M91.8,166.7h0.7M78.8,155.0h0.7M87.3,165.0h0.7M80.9,162.9h0.7M95.8,146.1h0.7M70.0,151.2h0.7M72.3,160.5h0.7M69.3,162.2h0.7M103.5,150.7h0.7M89.1,178.6h0.7M76.4,149.8h0.7M84.6,153.0h0.7M98.1,144.0h0.7M70.7,153.5h0.7M80.7,154.1h0.7M81.0,159.6h0.7M79.0,172.2h0.7M94.2,157.3h0.7M68.8,159.2h0.7M94.3,177.9h0.7M75.0,158.8h0.7M71.1,157.9h0.7M70.9,165.9h0.7M99.9,154.1h0.7M71.5,153.1h0.7M85.4,160.6h0.7M64.9,160.9h0.7M85.9,169.6h0.7M91.1,160.0h0.7M80.3,166.1h0.7M90.2,177.8h0.7M68.4,165.6h0.7M97.0,153.1h0.7M99.6,153.9h0.7M83.5,158.5h0.7M63.5,162.5h0.7M93.4,165.6h0.7M93.2,166.3h0.7M79.1,161.8h0.7M93.4,154.0h0.7M66.6,167.7h0.7M78.7,169.4h0.7M70.9,158.3h0.7M84.3,175.1h0.7M83.0,163.4h0.7M84.1,164.1h0.7M98.7,167.0h0.7M68.2,180.9h0.7M81.9,159.7h0.7M72.5,171.2h0.7M91.3,157.0h0.7M77.0,155.0h0.7M103.7,150.2h0.7M77.4,162.0h0.7M71.1,160.7h0.7M85.2,163.8h0.7M76.7,164.1h0.7M68.4,173.4h0.7M74.9,167.7h0.7M70.6,163.2h0.7M81.4,152.0h0.7M79.7,157.1h0.7M106.5,163.3h0.7M81.9,150.4h0.7M79.1,169.2h0.7M73.0,156.2h0.7M66.4,162.9h0.7M81.0,157.2h0.7M92.7,182.1h0.7M100.4,144.7h0.7M87.3,160.7h0.7M84.9,170.3h0.7M78.0,161.5h0.7M78.2,163.3h0.7M100.8,160.6h0.7M65.7,166.2h0.7M76.4,172.3h0.7M88.7,167.2h0.7M75.8,148.5h0.7M89.1,161.2h0.7M84.6,149.8h0.7M81.6,156.6h0.7M76.1,168.3h0.7M84.1,153.6h0.7M80.0,173.3h0.7M74.7,146.0h0.7M74.3,169.8h0.7M106.7,161.3h0.7M88.0,161.4h0.7M69.0,164.5h0.7M76.5,158.2h0.7M82.4,158.8h0.7M91.8,170.5h0.7M93.1,161.0h0.7M75.0,152.3h0.7M83.5,166.6h0.7M75.4,176.6h0.7M80.3,166.5h0.7M74.9,154.7h0.7M91.9,152.9h0.7M83.6,154.6h0.7M81.2,171.0h0.7M103.1,145.2h0.7M86.3,168.8h0.7M78.0,170.6h0.7M75.8,170.7h0.7M92.2,168.4h0.7M83.3,151.4h0.7M87.1,150.4h0.7M97.0,168.8h0.7M88.1,154.7h0.7M97.6,156.7h0.7M67.1,166.3h0.7M98.7,152.0h0.7M83.3,158.8h0.7M87.9,161.5h0.7M73.7,147.5h0.7M99.8,160.5h0.7M99.5,165.8h0.7M75.7,160.1h0.7M92.4,172.4h0.7M62.4,169.6h0.7M76.5,170.0h0.7M99.3,151.8h0.7M68.6,169.2h0.7M74.4,152.4h0.7M91.7,153.3h0.7M86.6,148.7h0.7M91.0,145.5h0.7M89.3,143.1h0.7M98.0,151.7h0.7M63.9,168.8h0.7M83.6,153.0h0.7M78.1,166.7h0.7M79.4,167.5h0.7M89.9,167.7h0.7M83.5,184.3h0.7M93.5,159.9h0.7M99.0,163.0h0.7M82.1,156.9h0.7M96.5,159.4h0.7M88.9,160.2h0.7M88.5,165.1h0.7M90.1,172.7h0.7M74.7,162.3h0.7M89.3,165.6h0.7M97.3,168.5h0.7M81.3,173.1h0.7M85.0,151.9h0.7M88.4,177.9h0.7M90.7,154.3h0.7M75.0,166.4h0.7M83.5,153.5h0.7M68.3,167.0h0.7M87.7,186.4h0.7M76.2,159.8h0.7M96.6,156.4h0.7M72.8,178.1h0.7M74.8,154.1h0.7M88.4,163.8h0.7M81.4,168.9h0.7M89.7,151.1h0.7M85.7,171.6h0.7M99.5,166.6h0.7M104.9,151.9h0.7M90.3,145.1h0.7M92.4,161.1h0.7M80.4,159.3h0.7M70.3,169.1h0.7M96.8,152.3h0.7M87.0,154.3h0.7M82.6,153.3h0.7M86.7,158.3h0.7M84.7,155.9h0.7M68.0,166.1h0.7M100.6,167.8h0.7M81.9,169.6h0.7M93.3,160.7h0.7M65.8,172.9h0.7M75.6,175.9h0.7M94.4,162.1h0.7M86.9,148.9h0.7M94.7,157.2h0.7M78.4,157.8h0.7M69.5,164.4h0.7M83.3,156.2h0.7M73.9,161.4h0.7M75.5,173.2h0.7M82.7,169.8h0.7M72.5,175.1h0.7M84.9,167.0h0.7M78.8,156.1h0.7M95.8,152.2h0.7M78.3,156.4h0.7M84.1,158.1h0.7M87.5,162.9h0.7M70.1,155.6h0.7M91.2,166.3h0.7M87.3,149.9h0.7M91.4,161.5h0.7M87.8,163.6h0.7M79.9,165.3h0.7M92.2,153.2h0.7M65.7,169.2h0.7M79.1,147.5h0.7M77.0,170.0h0.7M81.5,163.5h0.7M71.2,175.5h0.7M103.0,150.9h0.7M70.5,157.6h0.7M93.8,157.9h0.7M77.7,175.2h0.7M94.0,162.2h0.7M86.2,149.7h0.7M98.8,167.3h0.7M92.7,151.1h0.7M77.8,172.7h0.7M98.9,165.4h0.7M96.8,154.7h0.7M71.9,150.8h0.7M99.9,174.2h0.7M75.9,161.1h0.7M91.9,161.1h0.7M64.4,164.3h0.7M76.9,182.7h0.7M77.4,172.1h0.7M105.3,166.0h0.7M67.3,166.3h0.7M73.4,163.9h0.7M85.4,150.0h0.7M103.2,164.1h0.7M84.0,179.8h0.7M88.3,171.0h0.7M84.8,156.2h0.7M78.1,163.2h0.7M90.7,159.5h0.7M75.1,159.3h0.7M69.0,155.8h0.7M74.5,174.0h0.7M83.1,160.4h0.7M90.7,167.8h0.7M92.9,164.2h0.7M75.5,163.2h0.7M73.5,165.6h0.7M72.1,163.8h0.7M80.2,161.4h0.7M78.2,159.9h0.7M97.3,152.3h0.7M71.7,169.0h0.7M66.5,160.2h0.7M78.4,149.4h0.7M89.5,144.2h0.7M74.4,171.1h0.7M68.1,167.2h0.7M62.8,179.3h0.7M82.3,165.0h0.7M72.0,148.4h0.7M76.7,153.1h0.7M80.2,155.8h0.7M78.6,162.2h0.7M94.7,163.3h0.7M71.1,167.4h0.7M101.9,157.6h0.7M74.0,165.1h0.7M82.1,170.7h0.7M84.7,164.5h0.7M65.2,155.0h0.7M67.1,177.0h0.7M92.0,172.2h0.7M103.5,161.5h0.7M96.4,163.5h0.7M83.3,161.7h0.7M86.2,167.9h0.7M82.2,165.2h0.7M96.3,145.9h0.7M76.1,170.2h0.7M79.4,162.3h0.7M81.8,172.3h0.7M75.5,166.5h0.7M82.8,181.2h0.7M87.8,156.2h0.7M86.1,153.5h0.7M76.2,166.1h0.7M92.5,169.5h0.7M98.2,171.9h0.7M88.8,160.6h0.7M78.6,156.5h0.7M98.3,144.4h0.7M79.8,158.9h0.7M66.2,150.2h0.7M79.0,165.1h0.7M87.5,167.3h0.7M78.9,158.2h0.7M88.9,165.1h0.7M67.2,155.9h0.7M74.5,175.3h0.7M91.8,150.1h0.7M87.1,167.5h0.7M96.4,149.9h0.7M84.9,173.5h0.7M71.1,171.5h0.7M79.3,163.2h0.7M73.6,162.2h0.7M89.0,175.1h0.7M92.7,161.3h0.7M80.8,156.4h0.7M84.5,172.2h0.7M99.4,171.7h0.7M86.0,160.4h0.7M65.3,173.8h0.7M67.8,182.5h0.7M75.6,165.5h0.7M65.4,165.8h0.7M75.9,175.3h0.7M81.9,152.1h0.7M73.5,156.6h0.7M89.3,157.4h0.7M82.3,157.1h0.7M74.7,161.8h0.7M66.2,175.4h0.7M81.9,147.3h0.7M88.1,169.8h0.7M90.2,170.1h0.7M79.8,163.5h0.7M64.6,162.6h0.7M87.6,164.4h0.7M97.1,156.6h0.7M72.8,170.6h0.7M87.3,175.7h0.7M67.8,164.4h0.7M82.8,155.8h0.7M91.5,164.1h0.7M93.6,159.0h0.7M69.7,160.7h0.7M86.0,172.3h0.7M104.9,160.4h0.7M89.6,164.9h0.7M97.1,166.9h0.7M87.9,146.2h0.7M95.5,159.6h0.7M79.4,168.3h0.7M86.2,160.0h0.7M63.5,172.1h0.7M89.4,158.6h0.7M65.8,174.0h0.7M92.1,159.4h0.7M86.8,157.1h0.7M77.0,169.4h0.7M79.4,165.3h0.7M79.1,149.5h0.7M86.7,167.0h0.7M73.9,164.1h0.7M78.3,170.2h0.7M98.5,153.3h0.7M95.4,158.4h0.7M79.6,161.1h0.7M77.3,176.0h0.7M90.0,149.9h0.7M90.5,152.1h0.7M69.3,179.0h0.7M71.9,177.6h0.7M88.4,167.4h0.7M92.9,167.6h0.7M89.1,164.3h0.7M89.6,168.6h0.7M81.8,171.5h0.7M100.5,153.3h0.7M86.4,155.9h0.7M80.5,165.5h0.7M76.0,157.5h0.7M83.3,163.6h0.7M89.2,165.4h0.7M66.9,182.0h0.7M78.4,157.3h0.7M80.1,167.2h0.7M92.0,154.6h0.7M79.5,149.6h0.7M84.6,160.3h0.7M80.9,170.8h0.7M107.6,159.6h0.7M79.0,177.4h0.7M78.9,163.5h0.7M77.7,168.5h0.7M90.0,160.0h0.7M80.0,162.1h0.7M81.6,171.2h0.7M76.4,163.8h0.7M78.0,157.7h0.7M75.4,152.6h0.7M89.6,163.7h0.7M84.7,174.9h0.7M75.2,170.5h0.7M86.8,155.5h0.7M83.2,169.8h0.7M84.7,163.7h0.7M100.2,155.9h0.7M92.4,156.5h0.7M63.7,153.6h0.7M91.8,171.1h0.7M87.0,155.4h0.7M78.5,161.3h0.7M73.9,170.1h0.7M95.0,159.6h0.7M80.0,172.5h0.7M83.7,166.8h0.7M74.3,171.8h0.7M96.0,167.2h0.7M84.8,165.0h0.7M79.2,171.5h0.7M95.7,165.5h0.7M74.4,155.3h0.7M81.5,160.9h0.7M76.3,170.4h0.7M95.4,159.7h0.7M97.3,158.8h0.7M69.7,163.1h0.7M81.2,168.8h0.7M94.2,158.0h0.7M92.1,150.6h0.7M86.7,173.3h0.7M91.7,167.1h0.7M76.3,173.9h0.7M99.9,148.8h0.7M68.2,160.1h0.7M74.5,170.8h0.7M85.6,177.1h0.7M89.1,153.2h0.7M85.3,159.6h0.7M95.2,164.2h0.7M82.0,170.3h0.7M89.4,158.3h0.7M88.3,165.5h0.7M77.1,158.9h0.7M97.8,155.2h0.7M77.7,168.5h0.7M66.1,170.4h0.7M65.9,166.3h0.7M92.8,155.9h0.7M74.8,181.0h0.7M80.7,176.0h0.7M72.1,154.4h0.7M103.0,149.0h0.7M95.8,166.4h0.7M68.1,169.6h0.7M78.4,169.4h0.7M78.7,153.1h0.7M86.3,167.1h0.7M81.5,167.6h0.7M76.8,164.5h0.7M87.6,161.1h0.7M100.9,161.9h0.7M95.2,162.6h0.7M81.0,152.9h0.7M101.1,168.7h0.7M84.9,159.0h0.7M86.7,170.8h0.7M83.2,153.5h0.7M78.6,157.5h0.7M77.8,156.7h0.7M77.9,177.2h0.7M89.9,145.0h0.7M70.3,164.1h0.7M74.0,154.3h0.7M88.0,145.8h0.7M93.4,163.2h0.7M76.7,159.3h0.7M84.3,162.7h0.7M88.9,158.4h0.7M75.0,157.2h0.7M72.5,160.4h0.7M102.4,157.2h0.7M86.2,162.3h0.7M84.1,175.5h0.7M88.9,159.1h0.7M82.4,164.1h0.7M68.9,165.9h0.7M78.0,169.8h0.7M83.9,145.6h0.7M83.8,170.2h0.7M64.3,160.6h0.7M94.2,155.7h0.7M73.9,155.8h0.7M83.2,157.2h0.7M87.0,163.9h0.7M90.2,155.9h0.7M77.2,165.0h0.7M82.6,163.8h0.7M76.2,163.2h0.7M74.4,161.0h0.7M88.7,169.4h0.7M78.9,169.0h0.7M87.5,160.9h0.7M89.1,154.4h0.7M90.6,161.1h0.7M96.5,172.7h0.7M71.2,168.4h0.7M84.0,153.2h0.7M98.4,158.8h0.7M70.0,157.8h0.7M86.2,181.1h0.7M64.3,176.5h0.7M79.8,158.1h0.7M90.4,159.4h0.7M87.3,162.4h0.7M74.9,177.2h0.7M81.6,172.5h0.7M91.2,158.6h0.7M84.6,160.9h0.7M82.7,148.2h0.7M69.5,177.7h0.7M87.3,146.7h0.7M88.3,159.2h0.7M93.3,154.4h0.7M78.1,157.9h0.7M84.8,160.1h0.7M74.4,163.1h0.7M76.5,170.5h0.7M66.0,156.5h0.7M75.5,174.9h0.7M79.4,169.4h0.7M89.9,154.4h0.7M93.5,161.5h0.7M80.2,157.2h0.7M78.1,153.2h0.7M78.0,159.4h0.7M89.3,162.1h0.7M78.5,171.7h0.7M97.1,156.0h0.7M76.2,169.6h0.7M96.5,173.2h0.7M79.6,176.9h0.7M88.7,168.2h0.7M79.0,158.6h0.7M85.4,174.0h0.7M91.9,155.3h0.7M90.4,166.1h0.7M89.5,158.6h0.7M72.9,160.3h0.7M76.1,160.4h0.7M89.5,149.2h0.7M67.6,168.8h0.7M104.2,163.2h0.7M74.8,156.8h0.7M73.7,158.4h0.7M78.2,168.4h0.7M68.0,162.2h0.7M79.9,163.2h0.7M71.4,160.5h0.7M67.3,162.8h0.7M88.3,157.4h0.7M79.3,156.1h0.7M67.6,179.4h0.7M74.5,166.3h0.7M88.0,148.9h0.7M101.1,147.2h0.7M83.3,151.8h0.7M87.3,159.9h0.7M91.8,147.7h0.7M89.0,175.2h0.7M70.2,171.1h0.7M86.5,156.0h0.7M84.6,173.7h0.7M98.3,159.9h0.7M82.3,152.3h0.7M90.1,174.5h0.7M90.8,146.4h0.7M83.1,157.1h0.7M80.6,166.2h0.7M94.3,158.6h0.7M92.9,144.8h0.7M90.0,162.5h0.7M69.7,179.3h0.7M92.0,169.8h0.7M92.8,147.5h0.7M93.5,169.5h0.7M81.4,163.4h0.7M80.0,169.9h0.7M74.5,160.8h0.7M65.4,162.0h0.7M87.2,164.2h0.7M74.9,156.5h0.7M88.2,162.7h0.7M96.4,151.4h0.7M79.9,168.0h0.7M100.9,153.2h0.7M78.9,155.6h0.7M81.8,171.0h0.7M96.9,165.4h0.7M66.4,177.2h0.7M74.1,171.4h0.7M76.9,176.2h0.7M88.9,170.8h0.7M84.5,178.8h0.7M84.2,178.3h0.7M73.9,157.5h0.7M92.3,154.1h0.7M77.7,152.5h0.7M79.3,164.7h0.7M76.0,168.8h0.7M83.2,175.0h0.7M76.6,159.1h0.7M78.6,166.5h0.7M88.5,155.3h0.7M75.0,169.6h0.7M86.9,144.6h0.7M68.2,162.9h0.7M107.6,161.5h0.7M94.2,161.2h0.7M73.5,176.4h0.7M75.0,158.6h0.7M100.2,155.8h0.7M72.7,168.4h0.7M73.6,168.1h0.7M71.3,156.9h0.7M94.6,156.2h0.7M86.8,149.0h0.7M96.5,159.7h0.7M71.9,174.7h0.7M100.1,180.2h0.7M89.0,167.4h0.7M93.0,164.3h0.7M81.3,159.1h0.7M95.7,167.1h0.7M65.2,160.1h0.7M88.7,175.5h0.7M74.8,150.7h0.7M95.3,163.1h0.7M106.9,152.6h0.7M104.1,145.8h0.7M94.3,158.0h0.7M67.9,166.6h0.7M102.8,162.8h0.7M82.4,172.3h0.7M96.9,163.6h0.7M87.5,162.6h0.7M73.0,166.1h0.7M82.0,155.9h0.7M80.2,164.8h0.7M89.2,168.6h0.7M69.5,164.8h0.7M85.0,157.7h0.7M85.4,156.7h0.7M96.4,153.8h0.7M72.1,173.8h0.7M81.8,163.2h0.7M100.5,167.2h0.7M75.9,151.5h0.7M94.5,165.7h0.7M88.9,160.0h0.7M81.7,184.4h0.7M63.6,157.6h0.7M95.7,158.7h0.7M92.3,160.9h0.7M108.1,163.1h0.7M80.0,172.4h0.7M63.2,156.0h0.7M96.0,152.2h0.7M76.9,169.4h0.7M79.8,156.7h0.7M77.2,171.6h0.7M72.5,168.1h0.7M72.9,170.8h0.7M106.3,156.3h0.7M97.9,159.1h0.7M70.6,165.1h0.7M85.4,164.8h0.7M78.0,169.8h0.7M74.8,166.5h0.7M79.0,153.6h0.7M95.2,156.8h0.7M84.3,161.2h0.7M75.8,174.2h0.7M78.3,169.7h0.7M68.0,161.5h0.7M81.1,172.4h0.7M62.8,169.9h0.7M88.4,160.8h0.7M85.6,167.8h0.7M83.1,153.0h0.7M88.0,152.8h0.7M84.0,174.5h0.7M85.5,154.0h0.7M79.8,178.4h0.7M82.3,150.0h0.7M103.8,157.6h0.7M100.2,157.7h0.7M80.8,161.6h0.7M98.8,148.7h0.7M81.7,162.1h0.7M78.5,154.9h0.7M86.4,158.7h0.7M81.9,153.2h0.7M79.8,154.9h0.7M72.2,170.1h0.7M92.6,162.7h0.7M81.3,159.4h0.7M103.9,163.4h0.7M71.9,157.6h0.7M88.6,162.3h0.7M80.0,183.7h0.7M89.3,167.9h0.7M104.9,164.3h0.7M80.2,163.7h0.7M73.9,169.8h0.7M63.7,153.0h0.7" stroke="#e2232e" stroke-width="0.7" opacity="0.45"/>
<path d="M95.4,154.4h0.7M87.1,149.9h0.7M94.0,156.1h0.7M92.0,147.8h0.7M87.8,152.3h0.7M95.2,150.4h0.7M89.4,151.3h0.7M91.3,149.2h0.7M91.4,152.3h0.7M98.1,149.5h0.7M94.5,147.5h0.7M94.9,151.0h0.7M88.8,152.1h0.7M94.8,149.6h0.7M96.7,154.7h0.7M99.3,154.3h0.7M86.0,154.0h0.7M89.0,155.0h0.7M91.7,152.1h0.7M92.7,149.4h0.7M91.0,149.4h0.7M99.7,147.9h0.7M89.9,146.5h0.7M84.2,150.9h0.7M95.2,152.8h0.7M91.9,149.4h0.7M98.3,146.5h0.7M87.9,153.9h0.7M87.1,153.5h0.7M95.3,150.3h0.7M93.0,151.2h0.7M85.9,143.3h0.7M86.0,152.9h0.7M83.7,151.8h0.7M93.1,155.1h0.7M84.9,151.6h0.7M92.5,152.8h0.7M86.7,158.5h0.7M88.5,155.6h0.7M90.6,153.0h0.7M98.9,151.7h0.7M91.0,148.5h0.7M87.3,148.2h0.7M98.6,144.8h0.7M81.4,159.2h0.7M96.4,149.1h0.7M94.1,148.2h0.7M89.1,153.7h0.7M92.5,149.8h0.7M98.7,151.8h0.7M90.9,148.0h0.7M91.5,150.5h0.7M91.5,153.9h0.7M88.9,153.0h0.7M94.9,151.7h0.7M99.7,143.9h0.7M90.0,148.2h0.7M92.8,158.9h0.7M83.9,152.6h0.7M94.0,151.1h0.7M93.9,146.0h0.7M94.6,147.7h0.7M86.3,154.6h0.7M92.6,148.9h0.7M87.5,151.9h0.7M91.0,151.1h0.7M85.0,146.0h0.7M96.9,150.5h0.7M84.6,148.5h0.7M87.8,151.1h0.7M83.0,158.0h0.7M92.7,150.1h0.7M92.8,151.8h0.7M95.8,150.7h0.7M97.7,154.5h0.7M89.4,150.6h0.7M87.1,151.9h0.7M88.0,152.4h0.7M92.8,152.7h0.7M86.9,156.0h0.7M89.7,151.6h0.7M87.3,146.4h0.7M90.8,146.1h0.7M95.9,150.4h0.7M98.3,151.6h0.7M95.2,154.7h0.7M92.1,156.0h0.7M90.7,152.4h0.7M88.6,153.9h0.7M93.6,149.3h0.7M85.5,152.9h0.7M92.8,150.6h0.7M86.3,150.6h0.7M87.9,144.3h0.7M89.6,156.3h0.7M85.3,152.4h0.7M98.9,151.6h0.7M94.9,150.0h0.7M87.5,161.4h0.7M92.5,151.9h0.7M98.8,151.9h0.7M90.5,148.3h0.7M90.3,151.3h0.7M87.4,149.8h0.7M86.6,152.3h0.7M88.8,153.4h0.7M95.7,151.2h0.7M92.3,156.0h0.7M92.7,146.5h0.7M88.1,152.9h0.7M87.8,154.7h0.7M82.0,148.0h0.7M95.7,152.0h0.7M84.2,153.6h0.7M96.0,146.7h0.7M84.9,149.4h0.7M85.4,147.6h0.7M87.8,147.9h0.7M93.0,157.9h0.7M87.2,155.3h0.7M94.3,143.5h0.7M91.5,151.3h0.7M90.2,154.2h0.7M89.4,153.0h0.7M89.2,151.6h0.7M89.4,159.0h0.7M89.9,148.3h0.7M100.7,153.8h0.7M89.7,149.8h0.7M88.8,155.9h0.7M89.0,149.8h0.7M94.4,149.8h0.7M92.3,157.2h0.7M95.7,154.1h0.7M93.8,154.7h0.7M91.0,154.5h0.7M95.2,149.1h0.7M85.9,154.5h0.7M91.0,153.4h0.7M88.8,153.7h0.7M97.0,157.2h0.7M99.0,150.6h0.7M96.7,148.0h0.7M96.2,150.5h0.7M97.0,150.9h0.7M89.5,149.7h0.7M96.5,150.2h0.7M94.5,152.1h0.7M82.6,155.6h0.7M89.7,153.1h0.7M91.7,145.7h0.7M89.6,151.7h0.7M93.4,153.8h0.7M87.9,151.6h0.7M92.3,145.5h0.7M98.3,146.6h0.7M96.8,150.4h0.7M100.0,152.3h0.7M89.5,146.6h0.7M91.8,152.3h0.7M92.4,147.2h0.7M86.8,150.2h0.7M91.6,148.7h0.7M91.2,154.3h0.7M90.2,155.9h0.7M92.1,150.4h0.7M96.1,151.7h0.7M89.3,150.1h0.7M91.1,152.6h0.7M96.2,151.0h0.7M87.3,148.4h0.7M92.4,152.3h0.7M95.5,148.7h0.7M86.1,155.4h0.7M89.3,148.2h0.7M98.9,152.1h0.7M91.5,152.2h0.7M88.6,155.2h0.7M88.8,150.7h0.7M88.9,148.6h0.7M96.7,155.1h0.7M92.7,144.7h0.7M89.2,150.0h0.7M91.0,144.9h0.7M81.3,152.7h0.7M95.1,149.8h0.7M99.9,146.5h0.7M91.1,151.0h0.7M88.3,155.7h0.7M84.5,150.0h0.7M89.1,150.5h0.7M95.5,148.7h0.7M92.8,149.6h0.7M96.5,150.0h0.7M90.9,146.5h0.7M93.6,148.8h0.7M95.2,151.9h0.7M94.2,154.1h0.7M92.0,148.5h0.7M91.8,151.8h0.7" stroke="#d01820" stroke-width="0.7" opacity="0.6"/>
<path d="M56.8,173.0h0.7M59.4,163.8h0.7M62.1,170.9h0.7M59.4,193.4h0.7M58.9,153.6h0.7M57.0,163.2h0.7M61.4,181.1h0.7M62.5,194.1h0.7M63.8,178.7h0.7M63.0,179.0h0.7M58.8,181.3h0.7M60.2,167.9h0.7M64.5,180.8h0.7M59.0,169.7h0.7M65.3,167.5h0.7M61.8,178.9h0.7M61.3,178.4h0.7M59.0,164.6h0.7M59.8,166.0h0.7M61.9,191.0h0.7M58.1,177.9h0.7M57.9,161.6h0.7M59.6,172.1h0.7M63.2,167.2h0.7M58.7,179.7h0.7M58.8,151.9h0.7M61.2,176.2h0.7M58.3,181.8h0.7M61.0,155.8h0.7M64.0,174.3h0.7M57.6,176.7h0.7M60.4,183.5h0.7M57.1,184.4h0.7M62.2,179.9h0.7M61.5,188.0h0.7M61.7,172.4h0.7M58.3,185.4h0.7M62.3,174.6h0.7M60.5,180.2h0.7M54.5,174.9h0.7M54.5,173.9h0.7M62.5,195.7h0.7M59.1,176.3h0.7M60.0,141.3h0.7M61.7,170.4h0.7M60.3,158.2h0.7M60.0,171.7h0.7M63.0,174.5h0.7M59.5,169.9h0.7M58.3,190.5h0.7M61.5,153.8h0.7M60.3,185.8h0.7M56.9,172.6h0.7M61.0,165.2h0.7M58.9,195.5h0.7M56.6,168.1h0.7M59.6,161.3h0.7M59.6,179.7h0.7M58.6,151.7h0.7M63.1,190.0h0.7M58.6,174.6h0.7M54.4,184.3h0.7M57.1,163.3h0.7M64.9,154.0h0.7M60.1,156.5h0.7M56.0,155.3h0.7M60.7,153.4h0.7M58.8,180.2h0.7M59.7,153.3h0.7M63.4,172.2h0.7M63.2,156.8h0.7M63.9,152.8h0.7M56.2,165.0h0.7M59.3,174.1h0.7M58.9,179.0h0.7M63.1,162.0h0.7M57.0,165.3h0.7M61.9,181.3h0.7M59.3,157.6h0.7M60.1,183.3h0.7M58.5,187.7h0.7M60.6,174.4h0.7M58.7,188.5h0.7M60.2,151.0h0.7M61.9,165.1h0.7M62.5,172.8h0.7M58.7,172.8h0.7M59.0,159.7h0.7M60.1,181.5h0.7M60.3,169.4h0.7M58.9,178.1h0.7M60.7,183.2h0.7M60.9,198.6h0.7M56.6,169.9h0.7M61.3,182.4h0.7M56.7,154.5h0.7M60.0,184.4h0.7M62.5,150.6h0.7M60.4,186.0h0.7M60.2,157.0h0.7M58.5,153.0h0.7M62.8,167.2h0.7M59.1,159.1h0.7M59.8,158.6h0.7M57.9,170.0h0.7M59.6,176.6h0.7M60.4,186.1h0.7M60.0,174.0h0.7M60.6,159.9h0.7M62.7,163.1h0.7M56.6,187.0h0.7M61.5,163.1h0.7M62.2,183.2h0.7M61.7,155.1h0.7M60.5,156.9h0.7M58.7,163.1h0.7M58.2,177.0h0.7M58.3,178.7h0.7M60.5,162.6h0.7M60.5,179.6h0.7M62.6,167.1h0.7M64.0,178.1h0.7M62.9,152.8h0.7M57.7,186.4h0.7M59.6,176.6h0.7M62.8,151.6h0.7M61.1,196.0h0.7M61.9,171.7h0.7M61.3,170.6h0.7M61.8,187.6h0.7M59.6,178.1h0.7M60.8,180.3h0.7M61.9,156.5h0.7M62.7,181.8h0.7M57.7,166.8h0.7M56.9,166.7h0.7M60.8,155.4h0.7M58.4,159.0h0.7M58.5,160.4h0.7M57.7,178.0h0.7M59.6,159.7h0.7M62.3,163.1h0.7M62.1,154.3h0.7M63.2,164.7h0.7M58.0,175.9h0.7M57.1,156.4h0.7M60.6,164.2h0.7M61.0,172.4h0.7M60.6,172.2h0.7M61.7,170.5h0.7M62.5,182.9h0.7M55.7,147.5h0.7M63.5,164.7h0.7M60.5,169.0h0.7M60.7,199.4h0.7M58.5,171.4h0.7M60.1,156.4h0.7M58.2,167.0h0.7M60.0,175.5h0.7M55.7,150.0h0.7M63.7,168.2h0.7M61.9,165.0h0.7M58.5,198.1h0.7M57.4,158.6h0.7M61.6,170.7h0.7M56.5,172.3h0.7M61.7,150.6h0.7M58.8,180.8h0.7M64.3,140.1h0.7M58.6,170.8h0.7M58.1,158.6h0.7M59.0,177.2h0.7M57.7,181.8h0.7M61.9,181.6h0.7M63.5,163.7h0.7M60.0,183.5h0.7M62.9,182.7h0.7M59.1,164.1h0.7M57.2,164.8h0.7M58.1,164.1h0.7M59.2,181.3h0.7M62.0,169.8h0.7M57.6,169.8h0.7M61.0,181.6h0.7M60.5,181.0h0.7M58.6,178.9h0.7M61.7,165.9h0.7M58.4,186.5h0.7M57.9,179.4h0.7M59.5,165.9h0.7M59.5,164.7h0.7M60.0,193.7h0.7M63.3,168.7h0.7M61.1,182.3h0.7M59.1,194.4h0.7M60.2,178.5h0.7M58.0,155.9h0.7M57.9,162.1h0.7M62.4,166.3h0.7M62.0,165.0h0.7M58.0,172.6h0.7M59.2,148.8h0.7M60.2,185.8h0.7M59.6,154.8h0.7M58.4,154.7h0.7M59.5,158.1h0.7M59.8,172.7h0.7M63.0,155.4h0.7M55.6,191.6h0.7M61.0,165.7h0.7M61.2,158.4h0.7M59.3,179.3h0.7M59.4,172.2h0.7M61.0,172.0h0.7M59.5,177.1h0.7M63.0,187.0h0.7M58.1,180.4h0.7M55.9,152.0h0.7M61.0,177.4h0.7M63.1,148.1h0.7M62.5,163.4h0.7M59.0,176.2h0.7M63.2,158.2h0.7M56.3,162.7h0.7M59.8,186.0h0.7M60.9,166.5h0.7M59.0,164.4h0.7M62.2,148.8h0.7M58.5,159.1h0.7M62.5,172.0h0.7M58.6,180.2h0.7M64.4,183.7h0.7M57.2,167.7h0.7M62.6,146.8h0.7M57.4,165.0h0.7M61.2,159.7h0.7M60.4,168.3h0.7M60.8,154.7h0.7M55.2,142.4h0.7M60.4,183.1h0.7M61.1,149.5h0.7M56.2,166.6h0.7M58.0,146.5h0.7M58.8,160.0h0.7M59.8,175.2h0.7M60.5,172.7h0.7M61.2,168.9h0.7M59.1,165.8h0.7M62.7,166.6h0.7M61.8,191.8h0.7M63.9,142.4h0.7M60.4,183.0h0.7M59.0,161.0h0.7M56.9,161.5h0.7M60.0,145.8h0.7M60.0,159.3h0.7M60.1,156.1h0.7M60.2,172.3h0.7M58.5,161.5h0.7M62.1,178.4h0.7M58.3,175.9h0.7M57.5,163.5h0.7M53.6,162.9h0.7M61.5,163.8h0.7M61.3,161.9h0.7M60.7,168.3h0.7M57.9,197.4h0.7M58.2,152.7h0.7M60.3,176.4h0.7M60.8,168.8h0.7M61.1,182.3h0.7M61.4,152.2h0.7M63.8,169.8h0.7M55.5,181.0h0.7M59.7,173.9h0.7M64.4,163.2h0.7M58.7,157.4h0.7M60.4,178.8h0.7M60.9,172.4h0.7M55.4,173.6h0.7M62.4,163.5h0.7M58.9,157.1h0.7M60.6,149.9h0.7M64.2,167.6h0.7M58.7,154.4h0.7M61.2,182.8h0.7M58.8,172.4h0.7M60.7,182.8h0.7M61.4,186.2h0.7M58.9,155.6h0.7M58.0,175.2h0.7M62.7,160.3h0.7M59.3,164.1h0.7M58.7,168.0h0.7" stroke="#5a80d8" stroke-width="0.7" opacity="0.5"/>
<g filter="url(#b03)"><path d="M58.2,197.6 L57.2,197.1 L56.8,196.0 L56.5,194.8 L56.3,193.5 L56.2,192.2 L56.1,190.8 L56.0,189.4 L55.9,188.0 L55.9,186.5 L55.9,185.0 L55.9,183.5 L55.9,182.0 L56.0,180.5 L56.0,179.2 L56.1,177.8 L56.1,176.2 L56.2,174.8 L56.3,173.5 L56.4,172.0 L56.5,170.6 L56.6,169.2 L56.7,167.8 L56.9,166.5 L57.0,165.1 L57.1,163.8 L57.3,162.5 L57.5,161.0 L57.6,159.8 L57.8,158.5 L58.0,157.2 L58.2,155.8 L58.5,154.5 L58.7,153.2 L58.9,152.0 L59.2,150.8 L59.5,149.5 L59.8,148.5 L60.1,147.2 L60.5,146.1 L61.0,145.0 L61.5,144.1 L62.5,143.8 L63.0,144.5 L63.5,145.8 L63.8,146.8 L64.0,148.0 L64.2,149.5 L64.4,150.8 L64.5,152.2 L64.5,153.5 L64.5,155.0 L64.6,156.5 L64.6,158.0 L64.6,159.5 L64.6,161.0 L64.6,162.5 L64.5,164.0 L64.5,165.5 L64.5,166.8 L64.4,168.2 L64.3,169.8 L64.2,171.0 L64.1,172.5 L63.9,173.8 L63.8,175.2 L63.6,176.5 L63.5,177.8 L63.3,179.2 L63.1,180.5 L62.9,181.8 L62.7,183.0 L62.5,184.2 L62.2,185.6 L62.0,186.9 L61.8,188.1 L61.5,189.2 L61.2,190.5 L60.9,191.8 L60.5,193.0 L60.2,194.0 L59.8,195.2 L59.3,196.2 L58.8,197.1Z" fill="#8aa8e8"/><path d="M58.5,193.5 L58.0,193.2 L57.6,192.5 L57.4,191.8 L57.2,191.0 L57.1,190.0 L57.0,189.0 L56.9,188.2 L56.9,187.2 L56.8,186.2 L56.8,185.2 L56.8,184.2 L56.8,183.2 L56.8,182.2 L56.8,181.2 L56.9,180.2 L56.9,179.2 L56.9,178.2 L57.0,177.2 L57.0,176.5 L57.1,175.5 L57.2,174.5 L57.2,173.5 L57.3,172.8 L57.4,171.8 L57.5,170.8 L57.5,170.0 L57.6,169.0 L57.7,168.0 L57.8,167.2 L57.9,166.2 L58.0,165.5 L58.2,164.5 L58.3,163.8 L58.4,162.8 L58.5,162.0 L58.7,161.0 L58.8,160.2 L59.0,159.2 L59.1,158.5 L59.3,157.8 L59.5,156.8 L59.7,156.0 L59.9,155.2 L60.1,154.5 L60.3,153.8 L60.6,153.0 L60.9,152.2 L61.2,151.6 L61.8,151.1 L62.5,151.3 L62.9,152.0 L63.2,152.8 L63.4,153.5 L63.6,154.2 L63.7,155.2 L63.8,156.0 L63.9,157.0 L64.0,158.0 L64.0,159.0 L64.0,159.8 L64.0,160.8 L64.1,161.8 L64.0,162.8 L64.0,163.8 L64.0,164.8 L64.0,165.5 L63.9,166.5 L63.9,167.5 L63.8,168.5 L63.8,169.5 L63.7,170.2 L63.6,171.2 L63.5,172.2 L63.5,173.0 L63.4,174.0 L63.2,175.0 L63.2,175.8 L63.0,176.8 L63.0,177.5 L62.8,178.5 L62.7,179.2 L62.6,180.2 L62.4,181.0 L62.3,182.0 L62.2,182.8 L62.0,183.5 L61.8,184.5 L61.7,185.2 L61.5,186.0 L61.3,187.0 L61.1,187.8 L60.9,188.5 L60.7,189.2 L60.5,190.0 L60.2,190.8 L59.9,191.5 L59.6,192.2 L59.2,192.9 L58.8,193.5Z" fill="#5a88e0"/><path d="M59.2,190.0 L58.4,190.0 L58.1,189.2 L57.9,188.5 L57.8,187.6 L57.7,186.8 L57.6,185.8 L57.5,184.8 L57.5,183.8 L57.5,183.0 L57.5,182.0 L57.5,181.2 L57.5,180.2 L57.5,179.2 L57.6,178.2 L57.6,177.2 L57.7,176.2 L57.8,175.5 L57.8,174.5 L57.9,173.5 L58.0,172.5 L58.1,171.8 L58.2,170.8 L58.3,170.0 L58.4,169.0 L58.5,168.1 L58.6,167.2 L58.8,166.3 L58.9,165.5 L59.0,164.7 L59.2,163.8 L59.3,163.0 L59.5,162.0 L59.6,161.2 L59.8,160.5 L60.0,159.8 L60.2,158.9 L60.5,158.1 L60.8,157.4 L61.1,156.8 L61.5,156.1 L62.2,155.9 L62.7,156.5 L62.9,157.2 L63.1,158.0 L63.2,159.0 L63.3,159.8 L63.4,160.8 L63.4,161.8 L63.5,162.8 L63.5,163.8 L63.5,164.8 L63.5,165.8 L63.4,166.8 L63.4,167.8 L63.3,168.8 L63.3,169.8 L63.2,170.5 L63.1,171.5 L63.1,172.5 L63.0,173.2 L62.9,174.2 L62.8,175.2 L62.7,176.0 L62.6,177.0 L62.4,177.8 L62.3,178.8 L62.2,179.5 L62.0,180.5 L61.9,181.2 L61.8,182.1 L61.6,183.0 L61.4,183.8 L61.2,184.5 L61.0,185.5 L60.8,186.2 L60.6,187.0 L60.4,187.8 L60.1,188.5 L59.8,189.2 L59.5,189.8Z" fill="#40a0d8"/><path d="M59.2,187.6 L58.8,187.4 L58.5,186.8 L58.4,186.2 L58.2,185.6 L58.2,185.0 L58.1,184.2 L58.1,183.5 L58.0,182.8 L58.0,182.0 L58.0,181.2 L58.0,180.5 L58.0,179.8 L58.0,179.0 L58.1,178.2 L58.1,177.5 L58.1,176.8 L58.2,176.0 L58.2,175.2 L58.3,174.8 L58.3,174.0 L58.4,173.2 L58.5,172.5 L58.5,172.0 L58.6,171.2 L58.7,170.5 L58.8,170.0 L58.9,169.2 L59.0,168.5 L59.1,168.0 L59.2,167.2 L59.3,166.8 L59.4,166.0 L59.5,165.4 L59.6,164.8 L59.8,164.1 L59.9,163.5 L60.0,163.0 L60.2,162.2 L60.3,161.8 L60.5,161.2 L60.8,160.5 L61.0,160.0 L61.2,159.5 L61.5,159.2 L62.2,159.2 L62.4,159.8 L62.6,160.2 L62.7,161.0 L62.8,161.5 L62.9,162.2 L62.9,163.0 L63.0,163.8 L63.0,164.3 L63.0,165.0 L63.0,165.8 L63.0,166.5 L63.0,167.0 L63.0,167.8 L62.9,168.5 L62.9,169.2 L62.9,170.0 L62.8,170.8 L62.8,171.5 L62.7,172.0 L62.7,172.8 L62.6,173.5 L62.5,174.2 L62.5,174.8 L62.4,175.5 L62.3,176.2 L62.2,176.8 L62.1,177.5 L62.0,178.2 L61.9,178.8 L61.8,179.5 L61.7,180.0 L61.6,180.8 L61.5,181.2 L61.3,182.0 L61.2,182.5 L61.0,183.2 L60.9,183.8 L60.8,184.4 L60.6,185.0 L60.4,185.5 L60.2,186.0 L60.0,186.5 L59.8,187.0 L59.3,187.5Z" fill="#48c0b0"/><path d="M59.5,185.3 L59.2,185.2 L59.0,185.0 L58.8,184.5 L58.7,184.2 L58.6,183.8 L58.6,183.2 L58.5,182.8 L58.5,182.3 L58.5,182.0 L58.5,181.5 L58.4,181.0 L58.4,180.5 L58.4,180.0 L58.4,179.5 L58.4,179.0 L58.5,178.5 L58.5,178.0 L58.5,177.5 L58.5,177.2 L58.5,176.8 L58.6,176.2 L58.6,175.8 L58.6,175.2 L58.7,174.8 L58.7,174.2 L58.8,173.8 L58.8,173.5 L58.8,173.0 L58.9,172.5 L58.9,172.0 L59.0,171.5 L59.0,171.2 L59.1,170.8 L59.2,170.2 L59.2,169.8 L59.3,169.5 L59.3,169.0 L59.4,168.5 L59.5,168.0 L59.5,167.8 L59.6,167.2 L59.7,166.8 L59.8,166.5 L59.9,166.0 L60.0,165.5 L60.0,165.2 L60.2,164.8 L60.2,164.4 L60.4,164.0 L60.5,163.6 L60.6,163.2 L60.8,162.9 L60.9,162.5 L61.0,162.2 L61.2,161.9 L61.5,161.6 L61.9,161.8 L62.1,162.0 L62.2,162.5 L62.3,162.8 L62.4,163.2 L62.5,163.8 L62.5,164.1 L62.5,164.5 L62.6,165.0 L62.6,165.5 L62.6,166.0 L62.6,166.5 L62.6,167.0 L62.6,167.5 L62.6,168.0 L62.6,168.5 L62.6,169.0 L62.6,169.5 L62.5,170.0 L62.5,170.5 L62.5,170.8 L62.5,171.2 L62.4,171.8 L62.4,172.2 L62.3,172.8 L62.3,173.2 L62.2,173.6 L62.2,174.0 L62.2,174.5 L62.1,175.0 L62.0,175.5 L62.0,175.8 L61.9,176.2 L61.9,176.8 L61.8,177.2 L61.8,177.6 L61.7,178.0 L61.6,178.5 L61.5,179.0 L61.5,179.2 L61.4,179.8 L61.3,180.2 L61.2,180.5 L61.1,181.0 L61.0,181.5 L60.9,181.8 L60.8,182.2 L60.8,182.5 L60.6,183.0 L60.5,183.4 L60.4,183.8 L60.2,184.1 L60.1,184.5 L59.9,184.8 L59.8,185.1 L59.5,185.3Z" fill="#78c860"/><path d="M59.5,183.3 L59.2,183.0 L59.2,182.8 L59.0,182.2 L59.0,182.0 L58.9,181.5 L58.9,181.0 L58.9,180.5 L58.8,180.0 L58.8,179.5 L58.8,179.0 L58.8,178.5 L58.8,178.0 L58.8,177.5 L58.9,177.0 L58.9,176.5 L58.9,176.0 L58.9,175.5 L59.0,175.0 L59.0,174.8 L59.0,174.2 L59.1,173.8 L59.1,173.2 L59.2,172.8 L59.2,172.2 L59.3,172.0 L59.3,171.5 L59.4,171.0 L59.5,170.5 L59.5,170.2 L59.6,169.8 L59.7,169.2 L59.8,168.8 L59.8,168.5 L59.9,168.0 L60.0,167.5 L60.1,167.2 L60.2,166.8 L60.2,166.4 L60.4,166.0 L60.5,165.5 L60.6,165.2 L60.8,164.8 L60.9,164.5 L61.0,164.2 L61.2,163.9 L61.7,164.0 L61.9,164.2 L62.0,164.7 L62.1,165.0 L62.1,165.5 L62.2,166.0 L62.2,166.5 L62.2,167.0 L62.2,167.5 L62.3,167.8 L62.3,168.2 L62.3,168.8 L62.2,169.0 L62.2,169.5 L62.2,170.0 L62.2,170.5 L62.2,171.0 L62.1,171.5 L62.1,172.0 L62.1,172.5 L62.0,173.0 L62.0,173.2 L61.9,173.8 L61.9,174.2 L61.8,174.8 L61.8,175.2 L61.7,175.5 L61.7,176.0 L61.6,176.5 L61.5,177.0 L61.5,177.2 L61.4,177.8 L61.3,178.2 L61.2,178.6 L61.2,179.0 L61.1,179.5 L61.0,179.8 L60.9,180.2 L60.8,180.8 L60.7,181.0 L60.6,181.5 L60.5,181.8 L60.3,182.2 L60.2,182.5 L60.0,182.9 L59.8,183.2 L59.5,183.3Z" fill="#d0c840"/><path d="M60.0,181.3 L59.8,181.4 L59.6,181.2 L59.5,181.2 L59.4,181.0 L59.4,180.8 L59.3,180.5 L59.3,180.2 L59.2,180.0 L59.2,180.0 L59.2,179.8 L59.2,179.5 L59.2,179.2 L59.2,179.0 L59.2,178.8 L59.2,178.5 L59.2,178.2 L59.2,178.0 L59.2,177.8 L59.2,177.5 L59.2,177.2 L59.2,177.0 L59.2,176.8 L59.2,176.5 L59.2,176.2 L59.2,176.0 L59.2,175.8 L59.2,175.5 L59.2,175.4 L59.3,175.2 L59.3,175.0 L59.3,174.8 L59.3,174.5 L59.3,174.2 L59.4,174.0 L59.4,173.8 L59.4,173.5 L59.4,173.2 L59.5,173.0 L59.5,172.8 L59.5,172.6 L59.5,172.5 L59.5,172.2 L59.6,172.0 L59.6,171.8 L59.6,171.5 L59.7,171.2 L59.7,171.0 L59.8,170.8 L59.8,170.8 L59.8,170.5 L59.8,170.2 L59.9,170.0 L59.9,169.8 L60.0,169.5 L60.0,169.3 L60.0,169.2 L60.1,169.0 L60.1,168.8 L60.2,168.5 L60.2,168.2 L60.2,168.2 L60.3,168.0 L60.4,167.8 L60.4,167.5 L60.5,167.2 L60.5,167.2 L60.6,167.0 L60.7,166.8 L60.8,166.5 L60.8,166.5 L60.9,166.2 L61.0,166.0 L61.0,166.0 L61.2,165.8 L61.5,165.9 L61.5,166.0 L61.6,166.2 L61.7,166.5 L61.8,166.7 L61.8,166.8 L61.8,167.0 L61.8,167.2 L61.9,167.5 L61.9,167.8 L61.9,168.0 L61.9,168.2 L61.9,168.5 L61.9,168.8 L61.9,169.0 L61.9,169.2 L61.9,169.5 L61.9,169.8 L61.9,170.0 L61.9,170.2 L61.9,170.5 L61.9,170.8 L61.9,171.0 L61.9,171.2 L61.9,171.5 L61.8,171.8 L61.8,172.0 L61.8,172.2 L61.8,172.5 L61.8,172.8 L61.8,172.9 L61.7,173.0 L61.7,173.2 L61.7,173.5 L61.7,173.8 L61.6,174.0 L61.6,174.2 L61.6,174.5 L61.6,174.8 L61.5,175.0 L61.5,175.2 L61.5,175.2 L61.5,175.5 L61.4,175.8 L61.4,176.0 L61.4,176.2 L61.3,176.5 L61.3,176.8 L61.2,176.9 L61.2,177.0 L61.2,177.2 L61.1,177.5 L61.1,177.8 L61.0,178.0 L61.0,178.2 L61.0,178.2 L60.9,178.5 L60.9,178.8 L60.8,179.0 L60.8,179.2 L60.8,179.3 L60.7,179.5 L60.6,179.8 L60.6,180.0 L60.5,180.2 L60.5,180.2 L60.4,180.5 L60.3,180.8 L60.2,180.9 L60.2,181.0 L60.0,181.2 L60.0,181.3Z" fill="#e8a028"/><path d="M60.0,180.0 L59.8,179.9 L59.7,179.8 L59.6,179.5 L59.6,179.2 L59.5,179.0 L59.5,178.9 L59.5,178.8 L59.5,178.5 L59.5,178.2 L59.4,178.0 L59.4,177.8 L59.4,177.5 L59.4,177.2 L59.4,177.0 L59.4,176.8 L59.4,176.5 L59.4,176.2 L59.4,176.0 L59.5,175.8 L59.5,175.5 L59.5,175.2 L59.5,175.0 L59.5,175.0 L59.5,174.8 L59.5,174.5 L59.6,174.2 L59.6,174.0 L59.6,173.8 L59.6,173.5 L59.7,173.2 L59.7,173.0 L59.7,172.8 L59.7,172.5 L59.8,172.4 L59.8,172.2 L59.8,172.0 L59.8,171.8 L59.9,171.5 L59.9,171.2 L60.0,171.0 L60.0,170.8 L60.0,170.8 L60.0,170.5 L60.1,170.2 L60.1,170.0 L60.2,169.8 L60.2,169.5 L60.2,169.5 L60.3,169.2 L60.4,169.0 L60.4,168.8 L60.5,168.5 L60.5,168.5 L60.6,168.2 L60.7,168.0 L60.8,167.8 L60.8,167.8 L60.9,167.5 L61.0,167.4 L61.2,167.3 L61.4,167.5 L61.5,167.8 L61.5,167.8 L61.5,168.0 L61.6,168.2 L61.6,168.5 L61.6,168.8 L61.6,169.0 L61.6,169.2 L61.7,169.5 L61.7,169.8 L61.7,170.0 L61.7,170.2 L61.7,170.5 L61.7,170.8 L61.6,171.0 L61.6,171.2 L61.6,171.5 L61.6,171.8 L61.6,172.0 L61.6,172.2 L61.6,172.5 L61.6,172.8 L61.5,173.0 L61.5,173.2 L61.5,173.4 L61.5,173.5 L61.5,173.8 L61.4,174.0 L61.4,174.2 L61.4,174.5 L61.3,174.8 L61.3,175.0 L61.3,175.2 L61.3,175.5 L61.2,175.5 L61.2,175.8 L61.2,176.0 L61.1,176.2 L61.1,176.5 L61.0,176.8 L61.0,177.0 L61.0,177.0 L60.9,177.2 L60.9,177.5 L60.8,177.8 L60.8,178.0 L60.8,178.2 L60.7,178.2 L60.7,178.5 L60.6,178.8 L60.5,179.0 L60.5,179.0 L60.4,179.2 L60.3,179.5 L60.2,179.7 L60.2,179.8 L60.0,180.0Z" fill="#d86020"/></g>
<rect x="64.6" y="142.6" width="44.6" height="44.3" fill="none" stroke="#505050" stroke-width="1.0"/>
<text stroke="#231f20" stroke-width="0.2" fill="#231f20" x="86.9" y="200.0" font-size="10" textLength="20.0" lengthAdjust="spacingAndGlyphs">74.4</text>
<rect x="119.5" y="138.5" width="65.7" height="66.1" fill="none" stroke="#505050" stroke-width="0.9"/>
<path d="M148.9,192.2h0.7M139.8,152.6h0.7M153.7,182.0h0.7M155.6,180.8h0.7M149.3,167.7h0.7M141.2,172.4h0.7M146.2,186.3h0.7M159.3,160.0h0.7M160.4,174.9h0.7M165.9,193.4h0.7M158.6,153.8h0.7M159.9,156.4h0.7M171.9,167.3h0.7M148.9,197.4h0.7M128.3,175.7h0.7M137.3,169.0h0.7M140.9,183.6h0.7M147.5,179.5h0.7M159.9,154.6h0.7M169.8,172.3h0.7M129.6,167.3h0.7M162.9,187.5h0.7M142.4,176.6h0.7M154.6,188.0h0.7M149.7,187.3h0.7M139.7,166.6h0.7M160.3,184.2h0.7M150.9,182.8h0.7M154.2,184.8h0.7M166.9,181.7h0.7M162.4,170.6h0.7M144.1,146.6h0.7M156.9,175.8h0.7M158.6,152.5h0.7M145.1,168.6h0.7M127.6,186.5h0.7M167.7,159.8h0.7M157.4,196.5h0.7M135.4,187.5h0.7M172.6,198.3h0.7M133.4,162.4h0.7M154.3,190.2h0.7M134.8,166.2h0.7M136.7,189.0h0.7M144.1,182.4h0.7M160.1,189.6h0.7M157.1,179.6h0.7M166.9,181.3h0.7M134.7,168.8h0.7M163.6,177.1h0.7M146.8,178.4h0.7M158.0,181.0h0.7M147.9,190.1h0.7M162.9,180.3h0.7M133.5,190.9h0.7M161.7,174.4h0.7M135.3,172.6h0.7M144.7,165.2h0.7M165.0,176.8h0.7M168.0,163.5h0.7M149.0,192.2h0.7M155.9,166.5h0.7M139.6,168.1h0.7M150.4,183.9h0.7M153.5,184.7h0.7M162.7,176.9h0.7M168.7,184.5h0.7M149.0,173.4h0.7M151.3,166.3h0.7M133.6,175.8h0.7M144.7,182.6h0.7M143.5,176.6h0.7M154.1,169.6h0.7M154.1,166.5h0.7M145.8,185.2h0.7M156.7,175.3h0.7M141.0,183.9h0.7M178.1,148.5h0.7M165.5,178.0h0.7M166.1,189.7h0.7M137.9,196.8h0.7M143.5,172.3h0.7M159.8,174.3h0.7M155.0,169.0h0.7M137.6,175.5h0.7M136.9,191.9h0.7M154.7,192.6h0.7M134.8,149.7h0.7M121.0,170.6h0.7M134.2,179.7h0.7M131.9,158.2h0.7M155.1,170.4h0.7M160.5,185.3h0.7M156.1,160.3h0.7M139.8,203.2h0.7M148.4,178.9h0.7M153.1,175.0h0.7M149.1,168.3h0.7M144.5,150.5h0.7M173.7,173.9h0.7M133.9,181.7h0.7M160.3,157.5h0.7M144.5,193.7h0.7M158.6,180.5h0.7M164.7,173.7h0.7M147.5,194.9h0.7M148.9,174.3h0.7M159.9,175.7h0.7M134.9,198.6h0.7M150.4,197.4h0.7M158.2,164.1h0.7M172.0,173.1h0.7M139.9,174.9h0.7M122.8,180.3h0.7M141.7,172.2h0.7M139.5,183.6h0.7M156.2,188.6h0.7M173.6,178.7h0.7M152.6,179.0h0.7M140.6,168.6h0.7M161.4,164.7h0.7M125.6,171.0h0.7M154.8,193.4h0.7M141.9,163.8h0.7M152.7,173.4h0.7M154.7,168.9h0.7M154.0,168.1h0.7M164.5,178.7h0.7M159.0,169.8h0.7M132.3,175.4h0.7M150.6,188.7h0.7M164.2,174.8h0.7M150.7,163.1h0.7M150.8,177.8h0.7M145.8,161.9h0.7M168.3,163.9h0.7M173.3,189.7h0.7M171.8,164.8h0.7M159.6,158.2h0.7M146.5,156.5h0.7M141.6,169.0h0.7M164.0,188.4h0.7M146.4,171.7h0.7M138.8,161.2h0.7M127.6,172.5h0.7M159.1,165.8h0.7M156.0,161.0h0.7M137.9,168.6h0.7M162.9,168.7h0.7M161.3,170.8h0.7M136.5,150.6h0.7M144.9,163.4h0.7M163.1,180.4h0.7M129.5,185.3h0.7M158.1,139.7h0.7M137.3,178.0h0.7M130.1,166.2h0.7M157.9,178.0h0.7M157.0,182.4h0.7M139.5,204.0h0.7M157.9,201.0h0.7M147.6,181.8h0.7M155.5,173.2h0.7M155.2,178.1h0.7M161.7,178.8h0.7M151.8,180.9h0.7M170.0,175.8h0.7M159.0,176.7h0.7M125.3,164.1h0.7M139.0,158.1h0.7M142.9,153.6h0.7M154.6,168.4h0.7M167.1,179.6h0.7M134.3,172.3h0.7M151.6,166.7h0.7M146.3,161.8h0.7M141.4,178.3h0.7M146.6,189.5h0.7M123.3,165.3h0.7M146.1,192.7h0.7M165.5,184.0h0.7M163.7,194.1h0.7M159.7,172.0h0.7M153.3,166.1h0.7M147.9,179.3h0.7M144.3,176.0h0.7M145.2,158.9h0.7M132.1,183.1h0.7M151.2,184.7h0.7M149.5,174.6h0.7M154.2,170.6h0.7M168.7,186.7h0.7M155.9,162.1h0.7M143.7,177.1h0.7M165.8,174.1h0.7M150.3,180.9h0.7M152.1,172.7h0.7M135.9,189.2h0.7M149.9,168.3h0.7M149.2,158.6h0.7M128.7,153.0h0.7M155.3,158.5h0.7M151.9,160.1h0.7M127.3,166.9h0.7M140.8,166.0h0.7M172.8,176.7h0.7M142.6,184.7h0.7M146.1,188.9h0.7M130.0,187.3h0.7M136.2,165.4h0.7M152.9,161.3h0.7M128.9,169.5h0.7M146.3,154.5h0.7M162.9,164.3h0.7M142.1,171.4h0.7M150.8,186.8h0.7M122.1,174.2h0.7M161.6,176.9h0.7M149.1,160.7h0.7M154.4,168.2h0.7M151.8,161.4h0.7M145.9,172.3h0.7M130.8,186.4h0.7M148.4,158.6h0.7M146.8,175.6h0.7M145.6,161.6h0.7M147.1,157.7h0.7M128.4,188.1h0.7M172.2,196.4h0.7M179.4,190.3h0.7M137.9,167.2h0.7M164.3,168.4h0.7M145.4,173.8h0.7M155.5,157.6h0.7M150.4,179.9h0.7M123.3,187.5h0.7M160.0,164.2h0.7M173.8,179.0h0.7M156.2,192.6h0.7M163.9,191.1h0.7M149.5,171.8h0.7M140.0,170.0h0.7M138.8,145.2h0.7M142.4,161.9h0.7M142.2,168.5h0.7M143.7,175.2h0.7M149.1,169.6h0.7M141.9,172.7h0.7M145.9,172.4h0.7M167.9,176.9h0.7M144.8,149.3h0.7M161.4,187.2h0.7M144.7,168.4h0.7M156.2,180.9h0.7M127.4,170.9h0.7M145.9,158.8h0.7M168.4,183.0h0.7M142.1,173.4h0.7M142.8,167.9h0.7M144.9,186.3h0.7M150.0,168.3h0.7M141.1,177.1h0.7M138.6,154.6h0.7M148.2,193.1h0.7M141.1,175.9h0.7M147.4,188.7h0.7M156.2,158.7h0.7M172.7,174.1h0.7M138.1,167.9h0.7M150.8,186.9h0.7M146.3,165.1h0.7M167.2,192.8h0.7M145.4,175.6h0.7M154.8,170.3h0.7M138.1,186.5h0.7M135.7,151.9h0.7M157.6,187.9h0.7M160.6,164.7h0.7M146.8,160.9h0.7M143.1,144.5h0.7M138.6,190.6h0.7M134.7,194.8h0.7M152.3,150.4h0.7M162.3,162.5h0.7M157.2,171.9h0.7M145.4,171.9h0.7M132.8,164.9h0.7M144.8,195.4h0.7M142.5,177.9h0.7M156.0,188.8h0.7M147.0,176.5h0.7M130.6,177.1h0.7M145.5,176.1h0.7M143.2,168.7h0.7M163.0,185.5h0.7M149.1,172.4h0.7M152.5,173.2h0.7M155.8,183.3h0.7M156.3,155.1h0.7M149.4,161.3h0.7M155.9,170.6h0.7M154.0,173.1h0.7M162.3,190.4h0.7M152.4,156.2h0.7M150.2,198.1h0.7M141.2,173.2h0.7M182.1,194.5h0.7M158.6,176.9h0.7M133.0,193.9h0.7M162.1,153.9h0.7M148.7,172.7h0.7M149.4,166.2h0.7M182.6,163.7h0.7M169.3,181.8h0.7M150.3,179.6h0.7M159.9,164.8h0.7M145.4,188.8h0.7M162.5,179.0h0.7M134.7,154.6h0.7M169.8,191.7h0.7M157.0,179.0h0.7M146.0,180.3h0.7M166.0,183.5h0.7M143.2,178.6h0.7M143.3,173.4h0.7M136.0,145.9h0.7M136.7,176.6h0.7M140.0,180.8h0.7M143.0,177.9h0.7M144.3,191.6h0.7M145.2,174.6h0.7M165.2,192.2h0.7M135.2,192.0h0.7M136.5,162.7h0.7M139.5,186.4h0.7M136.5,181.4h0.7M155.8,172.1h0.7M156.4,199.3h0.7M171.3,164.3h0.7M153.9,169.7h0.7M148.7,167.9h0.7M157.5,164.2h0.7M134.3,175.0h0.7M154.6,188.9h0.7M159.2,164.0h0.7M138.5,178.3h0.7M153.9,183.1h0.7M167.6,147.5h0.7M142.5,181.0h0.7M136.5,194.5h0.7M149.4,181.6h0.7M147.8,178.7h0.7M155.7,181.0h0.7M132.6,151.5h0.7M149.4,184.0h0.7M147.3,172.5h0.7M164.4,182.3h0.7M138.2,176.5h0.7M147.8,175.2h0.7M149.5,181.5h0.7M150.3,178.6h0.7M150.9,172.0h0.7M143.1,177.8h0.7M156.3,193.4h0.7M182.7,166.5h0.7M142.1,187.1h0.7M145.2,176.0h0.7M134.2,181.7h0.7M131.7,186.5h0.7M139.8,177.3h0.7M163.4,164.5h0.7M149.1,200.0h0.7M132.5,176.1h0.7M124.8,178.7h0.7M148.4,161.1h0.7M135.2,189.5h0.7M159.2,160.1h0.7M161.1,163.5h0.7M140.2,179.3h0.7M149.1,180.9h0.7M164.6,166.9h0.7M157.7,178.1h0.7M129.1,184.0h0.7M163.6,158.1h0.7M146.4,186.2h0.7M162.2,170.1h0.7M147.5,170.9h0.7M134.7,175.8h0.7M177.9,157.6h0.7M150.2,163.2h0.7M170.1,154.8h0.7M162.1,179.8h0.7M139.5,170.8h0.7M151.3,195.0h0.7M154.2,188.7h0.7M164.4,175.7h0.7M151.1,173.8h0.7M171.8,190.1h0.7M163.3,166.7h0.7M146.9,183.7h0.7M148.2,158.3h0.7M131.2,180.1h0.7M160.5,181.0h0.7M170.7,155.7h0.7M127.4,175.9h0.7M161.8,164.3h0.7M153.8,178.4h0.7M144.4,164.4h0.7M146.2,173.4h0.7M159.9,170.9h0.7M137.9,161.5h0.7M144.5,180.5h0.7M139.3,170.0h0.7M157.2,177.5h0.7M176.9,180.2h0.7M158.5,199.8h0.7M126.1,153.6h0.7M140.2,175.7h0.7M165.6,182.5h0.7M143.4,157.0h0.7M155.0,171.1h0.7M137.6,159.2h0.7M159.2,170.7h0.7M152.7,172.9h0.7M140.2,168.3h0.7M142.0,173.1h0.7M141.0,181.4h0.7M137.1,176.8h0.7M151.6,181.2h0.7M154.3,168.4h0.7M145.1,169.0h0.7M146.8,178.7h0.7M134.0,168.0h0.7M137.7,173.1h0.7M154.4,189.3h0.7M149.4,159.8h0.7M142.4,179.8h0.7M172.7,143.3h0.7M132.4,164.4h0.7M146.6,180.3h0.7M166.9,179.8h0.7M167.3,164.9h0.7M138.0,153.0h0.7M138.3,180.7h0.7M148.4,196.6h0.7M144.2,160.4h0.7M155.2,148.0h0.7M158.8,176.4h0.7M129.8,177.8h0.7M150.7,187.0h0.7M144.4,165.4h0.7M147.8,170.3h0.7M134.2,183.0h0.7M160.2,163.1h0.7M140.2,158.8h0.7M141.5,163.5h0.7M147.2,179.7h0.7M167.0,160.5h0.7M137.4,157.7h0.7M146.8,180.9h0.7M135.7,171.3h0.7M134.3,154.4h0.7M140.2,181.3h0.7M142.5,150.1h0.7M134.0,167.5h0.7M172.7,157.0h0.7M183.7,183.0h0.7M163.6,182.5h0.7M150.4,177.6h0.7M163.9,170.6h0.7M136.8,177.3h0.7M149.5,176.9h0.7M141.5,171.1h0.7M161.1,172.9h0.7M146.6,179.3h0.7M143.6,169.3h0.7M170.2,193.0h0.7M124.5,164.9h0.7M151.8,181.3h0.7M132.4,165.4h0.7M156.7,186.8h0.7M135.8,168.6h0.7M144.4,186.0h0.7M154.6,177.5h0.7M173.0,182.2h0.7M150.1,192.0h0.7M170.2,190.5h0.7M173.2,177.9h0.7M122.2,168.9h0.7M151.6,172.8h0.7" stroke="#2a3fb8" stroke-width="0.7" opacity="0.5"/>
<path d="M138.7,180.4h0.7M129.5,190.4h0.7M137.7,184.1h0.7M137.1,198.4h0.7M141.4,194.4h0.7M134.4,174.9h0.7M130.2,177.3h0.7M120.3,199.2h0.7M136.9,181.2h0.7M141.2,175.9h0.7M137.6,189.3h0.7M126.9,200.6h0.7M136.9,187.5h0.7M130.0,173.0h0.7M146.1,174.0h0.7M133.7,185.9h0.7M144.5,151.7h0.7M144.8,183.4h0.7M141.4,168.3h0.7M137.9,199.2h0.7M135.5,172.8h0.7M133.6,174.0h0.7M140.8,182.6h0.7M133.2,189.5h0.7M129.7,163.3h0.7M150.6,172.8h0.7M145.7,179.2h0.7M134.8,186.4h0.7M131.1,170.3h0.7M134.9,175.7h0.7M140.4,203.2h0.7M129.2,169.9h0.7M140.6,186.3h0.7M142.7,171.5h0.7M139.6,179.6h0.7M126.5,185.5h0.7M126.9,186.6h0.7M133.4,177.9h0.7M148.8,198.3h0.7M138.6,184.9h0.7M131.6,195.0h0.7M139.8,170.1h0.7M126.3,180.2h0.7M135.1,190.5h0.7M130.1,169.8h0.7M138.6,181.3h0.7M141.7,193.5h0.7M130.8,152.3h0.7M136.5,171.6h0.7M137.6,148.3h0.7M135.5,181.3h0.7M132.8,186.3h0.7M136.7,183.0h0.7M143.8,195.6h0.7M143.2,184.7h0.7M137.0,186.9h0.7M138.0,171.6h0.7M138.4,191.1h0.7M133.7,167.4h0.7M139.5,171.4h0.7M127.4,177.4h0.7M127.5,184.2h0.7M133.1,181.2h0.7M142.9,193.5h0.7M135.6,153.7h0.7M133.3,166.5h0.7M141.4,198.6h0.7M140.2,187.9h0.7M139.4,188.3h0.7M134.0,190.8h0.7M134.3,166.7h0.7M136.4,199.1h0.7M135.0,159.5h0.7M143.4,183.1h0.7M139.4,174.8h0.7M139.0,199.3h0.7M132.3,188.4h0.7M138.2,170.1h0.7M137.2,187.2h0.7M131.2,194.0h0.7M129.6,193.9h0.7M139.8,183.4h0.7M131.6,171.1h0.7M123.1,180.0h0.7M135.4,186.9h0.7M142.2,182.7h0.7M134.2,191.9h0.7M136.1,180.0h0.7M129.3,192.7h0.7M132.2,203.1h0.7M131.1,174.7h0.7M136.7,172.1h0.7M127.6,166.9h0.7M131.3,177.5h0.7M141.9,188.2h0.7M138.0,189.8h0.7M123.4,173.1h0.7M132.9,168.2h0.7M139.0,172.7h0.7M129.7,190.7h0.7M132.3,177.4h0.7M127.3,190.9h0.7M136.4,197.2h0.7M149.1,188.1h0.7M134.0,171.1h0.7M145.8,177.9h0.7M139.8,183.1h0.7M137.1,182.7h0.7M135.4,183.1h0.7M130.2,187.4h0.7M133.2,182.2h0.7M145.8,182.9h0.7M130.2,184.6h0.7M127.7,182.3h0.7M144.4,168.0h0.7M135.3,170.1h0.7M137.2,184.2h0.7M137.2,177.1h0.7M125.1,169.8h0.7M133.6,189.8h0.7M124.5,193.0h0.7M131.8,160.8h0.7M144.6,184.3h0.7M130.7,183.4h0.7M139.6,163.6h0.7M143.6,170.4h0.7M140.9,173.8h0.7M127.0,173.3h0.7M133.1,181.7h0.7M126.4,168.6h0.7M138.0,175.9h0.7M133.1,185.4h0.7M128.5,203.4h0.7M131.8,184.5h0.7M135.2,191.7h0.7M133.6,171.2h0.7M137.5,187.3h0.7M135.3,203.9h0.7M140.5,196.1h0.7M143.5,192.1h0.7M135.0,199.0h0.7M134.0,181.8h0.7M144.2,191.0h0.7M129.9,176.7h0.7M130.9,193.5h0.7M134.0,180.4h0.7M132.2,174.3h0.7M140.0,168.6h0.7M136.4,174.5h0.7M134.0,165.4h0.7M142.8,161.6h0.7M129.0,175.3h0.7M136.5,171.4h0.7M126.7,174.6h0.7M130.3,172.3h0.7M145.2,156.4h0.7M135.9,184.3h0.7M133.6,175.9h0.7M142.1,177.6h0.7M126.1,175.7h0.7M138.1,175.6h0.7M132.7,182.0h0.7M133.1,181.4h0.7M139.7,172.8h0.7M127.0,195.1h0.7M138.2,171.1h0.7M127.9,180.0h0.7M137.1,185.5h0.7M138.0,174.9h0.7M133.6,162.6h0.7M131.7,174.5h0.7M142.1,164.9h0.7M146.6,190.1h0.7M133.0,173.1h0.7M137.2,184.4h0.7M140.0,160.2h0.7M134.0,185.7h0.7M141.1,185.1h0.7M135.5,183.4h0.7M133.0,199.5h0.7M141.1,184.5h0.7M132.7,179.4h0.7M138.1,181.0h0.7M145.2,203.4h0.7M141.6,166.9h0.7M139.9,174.2h0.7M136.0,202.2h0.7M126.2,164.6h0.7M132.4,188.8h0.7M133.7,157.7h0.7M138.2,187.4h0.7M143.0,181.2h0.7M142.3,173.4h0.7M141.0,193.6h0.7M134.5,175.8h0.7M142.9,171.7h0.7M131.0,180.6h0.7M139.3,190.5h0.7M133.3,186.0h0.7M131.1,167.1h0.7M149.9,171.8h0.7M127.5,183.7h0.7M131.9,188.3h0.7M121.8,167.3h0.7M141.9,183.2h0.7M130.9,197.0h0.7M141.9,176.2h0.7M142.5,187.1h0.7M128.9,171.3h0.7M137.0,167.9h0.7M127.1,174.3h0.7M140.0,181.4h0.7M130.2,152.0h0.7M140.2,176.9h0.7M140.4,178.5h0.7M132.9,181.9h0.7M131.6,173.4h0.7M130.5,154.7h0.7M141.6,191.6h0.7M132.5,174.8h0.7M148.7,185.7h0.7M133.4,165.5h0.7M145.4,194.2h0.7M131.0,187.3h0.7M130.4,175.9h0.7M141.9,176.4h0.7M131.8,163.0h0.7M139.1,177.2h0.7M128.8,202.8h0.7M131.8,173.4h0.7M138.0,176.2h0.7M136.0,184.2h0.7M133.0,168.8h0.7M134.0,191.2h0.7M135.8,197.3h0.7M136.3,169.2h0.7M137.1,177.6h0.7M133.1,177.5h0.7M141.2,189.5h0.7M137.8,182.2h0.7M139.6,188.0h0.7M138.2,172.0h0.7M142.8,193.1h0.7M143.5,146.5h0.7M139.1,182.0h0.7M120.5,193.7h0.7M124.9,174.4h0.7M137.0,192.2h0.7M134.5,172.7h0.7M125.8,177.1h0.7M139.4,164.4h0.7M144.7,147.8h0.7M132.7,174.9h0.7M136.3,183.7h0.7M142.2,173.0h0.7M127.1,166.6h0.7M134.0,169.8h0.7M134.0,177.7h0.7M135.9,190.1h0.7M138.2,164.4h0.7M131.6,173.3h0.7M132.8,188.7h0.7M140.9,183.2h0.7M144.5,169.1h0.7M136.0,192.9h0.7M135.9,172.7h0.7M131.5,191.5h0.7M140.6,202.3h0.7M147.3,182.7h0.7M133.3,170.3h0.7M133.4,201.5h0.7M135.1,172.7h0.7M135.0,184.4h0.7M132.0,171.6h0.7M132.5,195.6h0.7M135.9,186.1h0.7M139.3,158.0h0.7M138.5,166.8h0.7M133.8,158.5h0.7M140.5,182.2h0.7M130.5,194.1h0.7M131.2,196.0h0.7M129.2,185.8h0.7M128.9,165.3h0.7M132.5,177.1h0.7M129.4,185.2h0.7M145.3,189.1h0.7M131.6,203.2h0.7M126.6,199.5h0.7M135.0,169.2h0.7M136.0,179.8h0.7M142.3,187.4h0.7M134.0,190.5h0.7M134.3,168.0h0.7M129.1,168.3h0.7M137.3,175.5h0.7M140.3,164.0h0.7M136.3,184.6h0.7M136.8,184.5h0.7M131.6,180.8h0.7M132.1,177.7h0.7M140.9,173.9h0.7M142.5,178.7h0.7M135.9,187.1h0.7M146.0,182.1h0.7M131.8,195.7h0.7M139.0,170.6h0.7M127.2,178.8h0.7M132.7,171.8h0.7M137.4,188.5h0.7M143.7,182.0h0.7M130.0,165.3h0.7M127.7,186.6h0.7M126.0,172.2h0.7M128.2,174.9h0.7M133.0,175.7h0.7M145.0,189.5h0.7M133.7,167.7h0.7M139.0,176.4h0.7M135.3,167.1h0.7M138.3,183.6h0.7M139.5,181.2h0.7M137.1,167.6h0.7M142.1,183.8h0.7M145.5,176.7h0.7M134.0,192.0h0.7M133.3,185.9h0.7M135.4,178.0h0.7M123.6,184.2h0.7M136.3,163.9h0.7M142.7,156.4h0.7M141.0,172.0h0.7M140.5,190.2h0.7M136.2,197.5h0.7M136.4,165.1h0.7M133.4,203.4h0.7M135.6,201.7h0.7M141.2,171.3h0.7M140.2,182.8h0.7M139.2,182.9h0.7M131.6,191.3h0.7M136.6,176.8h0.7M135.9,174.7h0.7M135.8,178.4h0.7M128.2,199.8h0.7M137.3,177.4h0.7M126.7,195.8h0.7M138.7,190.9h0.7M135.7,189.2h0.7M133.0,180.4h0.7M136.6,165.2h0.7M137.9,184.4h0.7M130.5,169.5h0.7M150.1,181.8h0.7M132.9,186.1h0.7M128.0,161.7h0.7M132.1,190.7h0.7M141.9,183.7h0.7M146.4,164.3h0.7M129.6,197.7h0.7M140.7,179.7h0.7M138.7,173.0h0.7M147.5,174.8h0.7M141.5,177.9h0.7M132.6,164.2h0.7M134.4,178.2h0.7M131.0,162.8h0.7M128.6,161.5h0.7M143.7,176.4h0.7M131.9,190.3h0.7M137.6,187.1h0.7M141.9,178.4h0.7M124.7,184.7h0.7M136.5,176.8h0.7M130.2,187.1h0.7M136.8,198.7h0.7M128.2,165.4h0.7M138.3,185.3h0.7M133.7,192.5h0.7M135.8,193.2h0.7M134.9,183.2h0.7M139.2,167.8h0.7M141.4,172.2h0.7M140.8,168.4h0.7M123.0,180.7h0.7M126.3,203.2h0.7M124.6,165.8h0.7M141.7,187.6h0.7M131.9,198.6h0.7M145.2,168.4h0.7M134.4,182.8h0.7M139.7,178.8h0.7M139.4,166.9h0.7M135.0,162.9h0.7M136.4,190.8h0.7M129.6,191.4h0.7M128.9,149.6h0.7M131.0,177.6h0.7M140.3,188.1h0.7M129.1,170.5h0.7M139.6,181.3h0.7M129.7,165.4h0.7M138.8,177.9h0.7M135.2,168.1h0.7M129.0,171.0h0.7M129.7,188.3h0.7M137.1,179.5h0.7M139.0,174.1h0.7M138.5,156.2h0.7M130.1,187.5h0.7M139.4,195.7h0.7M150.9,178.1h0.7M139.5,170.6h0.7M146.1,171.8h0.7M131.3,185.1h0.7M133.7,188.6h0.7M130.8,175.1h0.7M136.2,179.9h0.7M131.4,172.9h0.7M154.1,179.5h0.7M134.0,162.7h0.7M129.8,191.7h0.7M136.4,200.2h0.7M132.4,176.4h0.7M137.3,190.6h0.7M131.4,193.4h0.7M134.6,180.6h0.7M133.2,190.7h0.7M148.5,178.4h0.7M125.4,161.1h0.7M138.2,186.1h0.7M138.5,186.9h0.7M134.7,193.5h0.7M139.9,173.3h0.7M133.2,191.1h0.7M142.2,175.9h0.7M140.7,178.9h0.7M128.7,175.0h0.7M134.0,159.4h0.7M138.7,185.1h0.7M143.5,191.7h0.7M129.6,180.5h0.7M145.6,184.4h0.7M136.9,179.7h0.7M142.3,179.0h0.7M137.0,181.8h0.7M133.0,161.2h0.7M126.6,191.9h0.7M147.1,180.4h0.7M137.9,185.9h0.7M133.5,188.5h0.7M141.2,172.2h0.7M126.9,188.7h0.7M131.7,183.9h0.7M131.9,191.9h0.7M146.6,166.5h0.7M141.2,181.5h0.7M133.9,167.8h0.7M134.8,154.2h0.7M144.1,184.8h0.7M136.5,196.0h0.7M137.1,185.6h0.7M140.6,166.9h0.7M132.3,171.1h0.7M135.9,184.0h0.7M145.3,173.8h0.7M136.0,175.6h0.7M142.2,180.9h0.7M142.1,189.0h0.7M132.6,197.8h0.7M139.3,191.1h0.7M132.6,184.2h0.7M134.3,186.3h0.7M134.1,191.2h0.7M129.7,190.1h0.7M140.7,171.0h0.7M138.0,192.5h0.7M142.2,197.1h0.7M140.5,180.9h0.7M142.5,173.6h0.7M135.2,182.5h0.7M140.5,198.9h0.7M143.5,187.9h0.7M140.8,195.8h0.7M138.2,183.8h0.7M142.2,181.4h0.7M142.9,171.0h0.7M144.1,181.6h0.7M134.6,187.2h0.7M137.8,184.0h0.7" stroke="#1c2a9c" stroke-width="0.7" opacity="0.6"/>
<path d="M164.6,168.3h0.7M156.9,185.7h0.7M143.1,173.7h0.7M169.0,170.0h0.7M161.5,158.1h0.7M174.3,156.1h0.7M157.8,168.3h0.7M156.7,164.0h0.7M173.5,163.2h0.7M163.5,152.5h0.7M163.5,164.3h0.7M162.8,168.4h0.7M162.3,165.8h0.7M159.5,168.9h0.7M160.7,167.7h0.7M155.9,172.8h0.7M155.9,187.0h0.7M170.9,176.9h0.7M153.6,158.6h0.7M141.5,167.3h0.7M151.2,167.3h0.7M156.4,174.2h0.7M140.2,189.2h0.7M155.3,170.4h0.7M141.7,176.2h0.7M145.6,176.9h0.7M161.4,168.4h0.7M155.7,166.6h0.7M157.6,176.1h0.7M159.6,169.6h0.7M181.4,160.4h0.7M143.1,154.0h0.7M135.0,177.5h0.7M163.6,157.0h0.7M146.4,170.6h0.7M162.0,174.7h0.7M155.2,163.5h0.7M161.9,158.3h0.7M141.1,164.5h0.7M153.7,165.9h0.7M158.1,168.3h0.7M181.9,162.9h0.7M133.4,164.6h0.7M157.2,161.0h0.7M177.5,156.9h0.7M154.5,170.2h0.7M157.1,173.0h0.7M156.3,171.3h0.7M144.6,149.8h0.7M166.6,179.2h0.7M147.1,167.0h0.7M164.2,161.2h0.7M158.4,165.8h0.7M163.5,164.8h0.7M177.5,161.3h0.7M151.4,157.8h0.7M156.3,160.4h0.7M165.8,170.1h0.7M181.2,152.7h0.7M162.2,175.6h0.7M140.4,180.0h0.7M175.8,162.1h0.7M161.2,177.6h0.7M161.5,169.3h0.7M164.1,159.0h0.7M175.5,158.6h0.7M157.0,165.0h0.7M128.7,164.6h0.7M154.5,169.2h0.7M176.6,184.4h0.7M164.7,164.6h0.7M155.7,181.1h0.7M151.9,170.0h0.7M170.7,162.2h0.7M157.1,169.7h0.7M142.0,172.9h0.7M160.8,170.2h0.7M148.5,152.6h0.7M152.6,176.7h0.7M148.0,163.8h0.7M164.8,170.5h0.7M161.4,172.2h0.7M167.4,169.0h0.7M166.7,181.0h0.7M153.8,189.2h0.7M158.8,161.5h0.7M167.9,173.5h0.7M147.1,173.7h0.7M168.6,171.5h0.7M155.6,159.6h0.7M163.5,185.2h0.7M157.8,194.8h0.7M157.6,167.6h0.7M153.5,171.2h0.7M157.4,159.5h0.7M181.4,170.2h0.7M158.4,156.8h0.7M154.2,168.0h0.7M165.7,164.4h0.7M146.7,170.6h0.7M156.3,168.9h0.7M164.6,159.4h0.7M146.7,182.6h0.7M164.2,155.3h0.7M163.9,161.5h0.7M166.4,169.8h0.7M141.9,165.0h0.7M152.9,157.9h0.7M144.4,165.5h0.7M156.3,167.9h0.7M150.1,168.9h0.7M171.3,168.3h0.7M160.3,161.3h0.7M148.3,161.1h0.7M145.0,157.1h0.7M155.7,165.6h0.7M149.9,165.7h0.7M147.9,178.1h0.7M167.5,175.2h0.7M161.1,165.6h0.7M163.3,155.3h0.7M147.4,180.1h0.7M163.7,168.4h0.7M171.0,163.1h0.7M161.7,170.5h0.7M148.0,175.2h0.7M163.9,165.5h0.7M149.1,164.3h0.7M134.7,169.3h0.7M174.7,172.9h0.7M155.0,162.4h0.7M172.5,172.4h0.7M161.2,160.6h0.7M168.4,172.5h0.7M151.5,163.3h0.7M155.0,171.2h0.7M163.7,170.6h0.7M156.8,164.1h0.7M164.3,174.7h0.7M161.7,172.8h0.7M155.4,162.7h0.7M153.9,168.1h0.7M143.1,172.0h0.7M152.8,171.7h0.7M165.8,166.4h0.7M155.0,171.2h0.7M149.4,175.6h0.7M172.4,167.7h0.7M170.9,159.7h0.7M142.7,178.6h0.7M177.4,153.9h0.7M171.9,158.6h0.7M171.3,158.1h0.7M157.0,172.4h0.7M143.8,174.3h0.7M159.5,175.4h0.7M160.8,168.2h0.7M162.3,183.0h0.7M163.6,167.8h0.7M142.3,186.9h0.7M159.4,170.0h0.7M167.0,167.1h0.7M172.1,163.3h0.7M164.3,167.8h0.7M165.6,168.4h0.7M163.6,168.6h0.7M162.2,172.3h0.7M150.0,164.8h0.7M158.8,169.0h0.7M166.2,152.5h0.7M170.6,159.1h0.7M151.4,173.5h0.7M164.2,174.4h0.7M141.9,183.7h0.7M166.5,177.5h0.7M152.4,157.7h0.7M155.4,167.3h0.7M167.5,172.7h0.7M134.6,163.3h0.7M157.6,162.3h0.7M171.5,174.9h0.7M179.1,161.6h0.7M170.8,169.3h0.7M159.3,164.6h0.7M171.0,170.5h0.7M157.4,167.0h0.7M142.6,176.6h0.7M156.8,160.0h0.7M171.2,163.8h0.7M147.8,169.7h0.7M145.7,166.1h0.7M146.6,173.4h0.7M141.3,168.6h0.7M157.9,166.3h0.7M157.5,162.0h0.7M153.1,172.6h0.7M157.2,176.3h0.7M154.1,170.6h0.7M158.1,177.0h0.7M151.5,177.2h0.7M170.4,168.1h0.7M168.2,156.4h0.7M140.3,169.0h0.7M154.9,172.8h0.7M151.3,166.3h0.7M160.3,181.6h0.7M152.1,169.8h0.7M165.5,178.8h0.7M141.5,159.3h0.7M155.2,162.1h0.7M146.9,155.2h0.7M169.2,151.2h0.7M164.0,170.9h0.7M170.5,177.3h0.7M150.5,160.5h0.7M163.9,174.1h0.7M156.5,166.5h0.7M166.6,156.4h0.7M171.9,150.1h0.7M149.9,170.3h0.7M152.3,176.8h0.7M150.7,166.5h0.7M158.5,177.7h0.7M157.4,166.8h0.7M166.8,157.6h0.7M146.0,172.3h0.7M159.8,159.3h0.7M157.2,171.6h0.7M157.2,170.9h0.7M161.5,178.9h0.7M149.7,185.6h0.7M141.5,177.1h0.7M172.1,185.5h0.7M165.5,150.5h0.7M158.8,158.0h0.7M172.6,176.2h0.7M167.2,162.1h0.7M155.5,157.1h0.7M154.7,150.7h0.7M153.7,165.7h0.7M148.4,175.5h0.7M164.5,178.8h0.7M157.2,171.5h0.7M151.8,181.0h0.7M150.7,165.0h0.7M147.5,178.2h0.7M159.6,164.1h0.7M163.9,174.2h0.7M160.9,172.2h0.7M157.8,172.5h0.7M168.3,166.3h0.7M147.4,176.4h0.7M175.5,153.2h0.7M150.8,171.6h0.7M148.5,165.2h0.7M136.5,165.2h0.7M151.6,145.4h0.7M159.7,153.9h0.7M173.2,162.0h0.7M153.7,156.8h0.7M168.7,162.1h0.7M150.4,178.2h0.7M168.5,178.1h0.7M148.9,170.2h0.7M147.6,159.8h0.7M150.2,166.1h0.7M156.5,168.4h0.7M156.6,169.5h0.7M154.3,167.4h0.7M164.6,180.3h0.7M154.3,163.5h0.7M182.5,163.0h0.7M155.5,170.2h0.7M140.1,172.1h0.7M150.3,166.9h0.7M148.8,170.6h0.7M172.1,157.7h0.7M165.0,176.8h0.7M158.5,162.4h0.7M168.4,172.8h0.7M149.5,164.3h0.7M144.8,169.9h0.7M155.4,165.3h0.7M156.5,172.6h0.7M167.6,183.1h0.7M141.6,162.8h0.7M153.7,172.9h0.7M174.4,169.5h0.7M164.4,155.1h0.7M165.4,179.5h0.7M162.8,161.7h0.7M131.2,178.4h0.7M166.0,176.9h0.7M156.5,157.7h0.7M165.9,160.1h0.7M164.9,172.4h0.7M156.6,177.8h0.7M149.1,182.6h0.7M142.7,162.8h0.7M154.5,167.4h0.7M161.4,170.7h0.7M153.6,161.7h0.7M161.7,150.6h0.7M163.1,156.1h0.7M159.4,171.0h0.7M141.4,174.7h0.7M160.0,164.9h0.7M168.1,167.1h0.7M150.0,166.3h0.7M147.9,158.3h0.7M163.0,149.1h0.7M174.2,180.0h0.7M171.3,168.1h0.7M157.4,164.1h0.7M160.7,179.9h0.7M154.5,171.1h0.7M171.4,166.8h0.7M162.7,170.0h0.7M160.4,177.6h0.7M166.6,168.6h0.7M158.5,174.2h0.7M154.9,159.6h0.7M156.6,149.3h0.7M163.9,163.8h0.7M154.5,165.1h0.7M171.8,165.7h0.7M152.2,169.2h0.7M158.0,181.0h0.7M153.7,167.0h0.7M158.7,166.5h0.7M149.4,177.7h0.7M159.9,172.3h0.7M136.9,173.1h0.7M161.5,170.1h0.7M156.1,189.3h0.7M171.2,166.3h0.7M139.0,158.3h0.7M171.8,173.5h0.7M142.6,181.5h0.7M168.3,159.4h0.7M153.8,166.5h0.7M155.9,186.0h0.7M151.8,165.2h0.7M168.8,178.7h0.7M157.7,156.3h0.7M158.8,162.4h0.7M139.6,176.2h0.7M153.8,161.2h0.7M147.2,182.9h0.7M154.0,164.4h0.7M156.0,174.2h0.7M154.3,176.9h0.7M159.3,167.7h0.7M154.1,160.3h0.7M168.6,164.9h0.7M150.7,164.5h0.7M168.7,180.7h0.7M158.8,158.2h0.7M147.7,160.6h0.7M149.3,167.8h0.7M154.4,173.6h0.7M156.6,171.3h0.7M158.1,161.1h0.7M164.6,166.4h0.7M159.6,157.0h0.7M159.8,170.0h0.7M150.5,177.2h0.7M153.2,167.0h0.7M154.9,153.0h0.7M132.2,171.8h0.7M160.7,173.3h0.7M169.1,181.0h0.7M160.6,162.5h0.7M154.2,161.7h0.7M158.6,161.1h0.7M145.9,164.5h0.7M139.8,164.7h0.7M151.4,166.4h0.7M154.7,174.3h0.7M147.8,170.8h0.7M149.8,171.1h0.7M158.6,159.0h0.7M148.6,173.2h0.7M149.2,171.1h0.7M156.3,168.9h0.7M151.3,170.2h0.7M155.3,171.6h0.7M167.1,168.7h0.7M157.4,167.8h0.7M162.5,163.5h0.7M157.2,174.3h0.7M173.8,156.7h0.7M172.2,159.8h0.7M157.4,164.3h0.7M160.1,185.1h0.7M153.4,171.4h0.7M151.5,176.2h0.7M147.9,160.3h0.7M151.2,170.6h0.7M143.9,166.7h0.7M142.6,193.8h0.7M154.4,170.3h0.7M151.9,177.3h0.7M153.2,182.2h0.7M152.8,161.0h0.7M150.6,155.8h0.7M171.9,191.4h0.7M181.7,160.1h0.7M153.7,154.0h0.7M176.0,161.6h0.7M161.4,173.3h0.7M164.1,159.3h0.7M171.2,160.4h0.7M165.1,157.5h0.7M170.1,160.7h0.7M153.9,174.4h0.7M150.7,168.6h0.7M179.8,159.5h0.7M168.7,155.9h0.7M163.3,156.8h0.7M162.6,166.1h0.7M163.6,175.3h0.7M160.7,168.9h0.7M145.7,160.1h0.7M170.4,158.4h0.7M163.4,162.3h0.7M161.1,176.5h0.7M161.9,166.7h0.7M155.3,179.1h0.7M164.1,159.7h0.7M152.0,167.1h0.7M169.6,157.7h0.7M156.9,169.2h0.7M154.9,160.8h0.7M157.1,162.4h0.7M164.5,157.5h0.7M148.1,170.8h0.7M158.2,175.6h0.7M155.1,178.4h0.7M163.1,168.6h0.7M158.4,163.4h0.7M179.4,160.4h0.7M163.3,180.5h0.7M155.0,188.9h0.7M164.6,170.1h0.7M153.5,165.3h0.7M154.5,176.3h0.7M159.8,156.0h0.7M151.1,171.5h0.7M156.3,172.0h0.7M154.4,171.3h0.7M154.0,173.0h0.7M147.7,164.6h0.7M178.4,155.9h0.7M156.8,179.0h0.7M182.7,178.2h0.7M161.8,159.4h0.7M155.4,163.1h0.7M160.1,167.4h0.7M156.4,177.8h0.7M160.0,173.5h0.7M154.4,163.4h0.7M157.8,175.4h0.7M180.9,163.2h0.7M155.5,166.7h0.7M165.1,166.8h0.7M164.2,170.7h0.7M152.4,153.2h0.7M157.6,166.4h0.7M151.0,157.7h0.7M152.0,167.0h0.7M153.3,167.0h0.7M140.2,172.4h0.7M151.8,154.1h0.7M163.9,162.4h0.7M161.7,174.5h0.7M153.9,163.1h0.7M170.2,171.8h0.7M157.9,166.1h0.7M149.1,168.0h0.7M151.2,179.8h0.7M159.4,160.2h0.7M162.2,172.0h0.7M163.1,165.0h0.7M148.5,169.0h0.7M157.2,159.8h0.7M153.8,145.0h0.7M169.4,171.3h0.7M169.6,155.0h0.7M164.2,156.2h0.7M150.1,169.4h0.7M153.6,168.4h0.7M147.2,167.4h0.7M173.6,151.7h0.7M150.4,173.8h0.7M162.5,159.8h0.7M151.9,167.4h0.7M161.0,156.2h0.7M157.5,168.3h0.7M147.2,182.4h0.7M160.2,145.3h0.7M159.2,177.0h0.7M167.0,178.1h0.7M156.1,170.2h0.7M152.0,170.5h0.7M161.2,154.2h0.7M170.2,166.5h0.7M147.7,169.1h0.7M166.7,168.1h0.7M184.8,171.4h0.7M161.0,169.0h0.7M157.5,178.2h0.7M155.9,181.3h0.7M162.9,161.0h0.7M158.7,171.4h0.7M150.7,172.7h0.7M171.0,169.2h0.7M171.1,158.8h0.7M164.2,179.8h0.7M140.7,164.7h0.7M168.4,165.6h0.7M151.7,167.5h0.7M163.1,171.6h0.7M139.3,173.3h0.7M148.4,164.5h0.7M150.3,165.4h0.7M157.2,179.5h0.7M153.3,168.9h0.7M164.2,162.8h0.7M159.8,174.1h0.7M168.9,151.7h0.7M156.6,167.3h0.7M158.5,170.4h0.7M151.4,169.4h0.7M164.8,179.8h0.7M177.0,168.1h0.7M176.4,180.5h0.7M145.0,158.4h0.7M157.4,178.8h0.7M147.7,153.7h0.7M153.5,169.7h0.7M162.9,165.9h0.7M148.3,167.0h0.7M153.7,165.6h0.7M165.9,169.6h0.7M161.9,171.2h0.7M152.3,177.4h0.7M169.7,160.7h0.7M180.3,168.8h0.7M161.7,166.5h0.7M152.3,158.5h0.7M147.9,160.0h0.7M155.4,181.0h0.7M159.4,160.5h0.7M172.4,175.0h0.7M132.4,170.6h0.7M159.9,168.4h0.7M149.5,163.1h0.7M160.0,177.9h0.7M163.6,162.2h0.7M156.1,161.0h0.7M155.0,159.2h0.7M170.0,174.1h0.7M140.6,176.2h0.7M163.0,165.5h0.7M145.2,179.5h0.7M161.3,170.1h0.7M162.1,166.2h0.7M143.9,171.9h0.7M149.1,163.8h0.7M152.0,165.7h0.7M153.1,162.0h0.7M159.4,170.3h0.7M168.5,180.6h0.7M136.4,175.8h0.7M151.9,176.8h0.7M166.9,160.9h0.7M158.7,172.8h0.7M161.0,166.7h0.7M158.7,161.0h0.7M160.4,157.9h0.7M162.6,186.9h0.7M149.1,155.4h0.7M175.1,172.1h0.7M163.3,173.2h0.7M170.3,166.9h0.7M147.4,158.9h0.7M162.9,166.3h0.7M146.4,180.8h0.7M163.9,184.2h0.7M160.3,176.0h0.7M153.5,164.3h0.7M162.5,166.6h0.7M168.6,152.6h0.7M158.5,168.8h0.7M135.6,175.7h0.7M159.5,166.9h0.7M168.4,176.9h0.7M144.7,163.2h0.7M156.0,163.3h0.7M145.3,162.3h0.7M165.4,150.1h0.7M168.3,175.9h0.7M154.7,172.1h0.7M159.7,160.9h0.7M159.3,179.8h0.7M173.5,177.0h0.7M156.2,175.4h0.7M153.7,165.4h0.7M172.6,160.2h0.7M164.0,167.4h0.7M159.4,153.2h0.7M173.1,162.5h0.7M146.0,176.2h0.7M152.6,170.2h0.7M165.2,157.2h0.7M166.1,166.1h0.7M167.9,151.3h0.7M162.8,155.2h0.7M146.3,180.5h0.7M129.8,164.6h0.7M158.5,185.4h0.7M152.3,166.6h0.7M157.1,179.5h0.7M166.9,176.8h0.7M155.5,172.6h0.7M154.6,148.5h0.7M158.6,156.5h0.7M149.4,175.5h0.7M151.7,151.7h0.7M155.4,159.8h0.7M175.7,167.2h0.7M157.1,188.6h0.7M150.8,162.0h0.7M160.1,178.3h0.7M164.8,159.7h0.7M164.6,154.9h0.7M149.5,159.4h0.7M176.4,176.4h0.7M177.7,163.1h0.7M160.8,179.6h0.7M158.3,163.5h0.7M171.6,172.1h0.7M137.0,168.0h0.7M145.8,164.1h0.7M157.4,173.3h0.7M135.2,159.8h0.7M149.3,170.9h0.7M169.1,157.0h0.7M158.1,154.9h0.7M163.6,190.4h0.7M146.7,172.6h0.7M155.4,174.5h0.7M153.8,156.7h0.7M165.7,157.9h0.7M157.2,176.1h0.7M136.5,159.9h0.7M161.5,169.3h0.7M156.2,174.2h0.7M155.4,172.3h0.7M161.1,164.6h0.7M165.3,156.1h0.7M169.1,159.1h0.7M161.3,168.7h0.7M168.4,160.3h0.7M165.9,158.5h0.7M141.3,179.8h0.7M156.5,157.9h0.7M144.5,179.9h0.7M149.9,164.1h0.7M150.6,174.8h0.7M161.3,172.3h0.7M170.4,154.7h0.7M162.0,170.7h0.7M145.4,169.1h0.7M151.2,173.3h0.7M175.5,166.3h0.7M167.6,170.0h0.7M153.7,175.4h0.7M159.2,168.5h0.7M169.0,158.7h0.7M160.8,151.1h0.7M161.5,163.3h0.7M153.6,163.1h0.7M157.7,168.6h0.7M162.5,179.7h0.7M184.8,158.7h0.7M152.4,167.3h0.7M170.8,157.3h0.7M148.3,168.0h0.7M151.4,164.7h0.7M160.0,162.1h0.7M141.1,168.9h0.7M162.0,169.7h0.7M151.7,166.0h0.7M145.4,161.9h0.7M153.0,152.8h0.7M170.1,169.2h0.7M157.6,167.8h0.7" stroke="#1c2a9c" stroke-width="0.7" opacity="0.6"/>
<g filter="url(#b03)"><path d="M136.0,202.8 L133.8,202.5 L132.5,201.5 L131.3,200.0 L130.4,198.5 L129.6,196.8 L129.0,195.0 L128.4,193.0 L128.0,191.0 L127.5,188.8 L127.2,186.8 L126.9,184.5 L126.8,182.0 L126.7,179.8 L126.8,177.5 L126.9,175.0 L127.1,172.8 L127.3,170.5 L127.7,168.2 L128.0,166.2 L128.5,164.2 L129.0,162.2 L129.7,160.2 L130.4,158.5 L131.2,156.9 L132.2,155.4 L133.5,154.1 L135.2,153.3 L137.4,153.8 L138.8,154.8 L140.0,156.0 L141.2,157.3 L143.0,158.2 L144.8,157.5 L146.2,156.2 L147.5,155.2 L149.0,154.2 L150.6,153.2 L152.3,152.5 L154.2,151.9 L156.2,151.4 L158.5,151.2 L160.8,151.3 L163.0,151.6 L165.0,152.2 L166.7,153.0 L168.2,154.0 L169.6,155.0 L171.0,156.2 L172.2,157.4 L173.5,158.6 L174.8,159.9 L175.8,161.3 L176.6,163.0 L177.1,165.0 L177.0,167.5 L176.5,169.5 L175.8,171.1 L174.8,172.7 L173.7,174.0 L172.5,175.3 L171.2,176.5 L169.8,177.7 L168.3,178.8 L167.0,179.8 L165.7,181.0 L164.5,182.4 L163.4,183.8 L162.0,185.0 L160.5,186.0 L158.9,186.8 L157.0,187.4 L155.0,187.9 L153.0,188.3 L150.5,188.5 L148.2,188.5 L145.8,188.6 L143.8,189.1 L142.7,190.5 L142.0,192.5 L141.5,194.3 L140.9,196.2 L140.2,198.0 L139.3,199.8 L138.2,201.2 L137.0,202.3Z" fill="#1f2aa0"/><path d="M136.2,199.8 L133.8,199.5 L132.5,198.2 L131.3,196.5 L130.5,194.7 L129.8,192.5 L129.2,190.5 L128.8,188.2 L128.3,185.8 L128.1,183.2 L127.9,180.8 L127.9,178.0 L128.0,175.5 L128.2,172.8 L128.5,170.5 L128.9,168.0 L129.4,165.8 L130.0,163.5 L130.7,161.5 L131.5,159.7 L132.5,158.0 L134.0,156.5 L136.0,156.0 L137.8,156.8 L139.2,158.2 L140.2,159.9 L141.2,161.6 L142.2,163.5 L143.0,165.5 L143.6,167.5 L143.8,170.0 L144.0,172.7 L145.2,173.0 L145.4,170.5 L145.3,167.8 L145.6,165.2 L146.2,163.2 L147.2,161.2 L148.3,159.8 L149.8,158.3 L151.2,157.1 L153.0,156.2 L155.0,155.4 L157.4,155.0 L159.9,155.0 L162.2,155.4 L164.2,156.2 L166.0,157.0 L167.9,158.0 L169.7,159.0 L171.3,160.0 L172.9,161.2 L174.1,162.8 L175.0,164.5 L175.3,167.0 L174.9,169.2 L174.0,171.2 L173.0,172.8 L171.8,174.3 L170.2,175.7 L168.8,176.9 L167.1,178.0 L165.5,179.1 L164.0,180.3 L162.6,181.8 L161.4,183.2 L160.0,184.5 L158.2,185.6 L156.2,186.4 L154.0,187.0 L151.8,187.3 L149.0,187.5 L146.2,187.4 L143.8,187.6 L142.2,188.8 L141.3,190.8 L140.7,192.8 L140.0,194.8 L139.1,196.8 L138.0,198.4 L136.5,199.7Z" fill="#2548c4"/><path d="M136.0,197.3 L134.0,196.9 L132.8,195.7 L131.8,194.0 L131.0,192.3 L130.4,190.5 L129.9,188.5 L129.5,186.3 L129.2,184.2 L129.0,182.0 L128.9,179.5 L128.9,177.0 L129.1,174.8 L129.3,172.5 L129.5,170.2 L129.9,168.0 L130.4,166.0 L131.0,164.1 L131.7,162.2 L132.5,160.7 L133.7,159.2 L135.2,158.4 L137.2,158.9 L138.5,160.2 L139.5,161.8 L140.2,163.5 L140.9,165.2 L141.4,167.2 L141.7,169.5 L142.0,171.8 L142.2,174.0 L142.8,175.8 L144.2,176.8 L146.2,176.3 L147.5,175.2 L148.2,173.2 L148.4,171.0 L148.8,169.0 L149.5,167.0 L150.2,165.2 L151.0,163.8 L152.2,162.2 L153.5,161.0 L155.0,160.1 L156.8,159.5 L159.0,159.1 L161.5,159.2 L163.8,159.5 L165.8,159.9 L167.8,160.5 L169.5,161.2 L171.0,162.1 L172.2,163.3 L173.2,164.9 L173.7,167.0 L173.4,169.2 L172.7,171.0 L171.7,172.5 L170.5,173.9 L169.2,175.1 L167.8,176.2 L166.2,177.2 L164.8,178.1 L163.2,179.1 L161.8,180.2 L160.5,181.5 L159.5,182.8 L158.2,184.0 L156.5,185.0 L154.8,185.6 L152.8,186.1 L150.5,186.4 L148.0,186.4 L145.5,186.3 L143.5,186.3 L141.9,187.2 L141.0,188.8 L140.2,190.7 L139.6,192.5 L138.8,194.2 L137.9,195.8 L136.6,197.0Z" fill="#2f78d8"/><path d="M135.8,194.8 L134.0,194.3 L133.0,193.2 L132.2,191.8 L131.5,190.0 L131.0,188.3 L130.6,186.5 L130.2,184.7 L130.0,182.8 L129.9,180.5 L129.8,178.2 L129.9,176.0 L130.0,174.0 L130.3,172.0 L130.6,170.0 L131.0,168.0 L131.5,166.2 L132.0,164.7 L132.8,163.1 L133.7,161.8 L135.0,160.9 L137.0,161.2 L138.0,162.3 L138.8,163.8 L139.5,165.3 L140.0,167.0 L140.5,169.0 L140.8,170.8 L141.0,173.0 L141.2,175.0 L141.7,176.8 L142.5,178.1 L144.2,178.7 L146.2,178.2 L147.8,177.7 L149.2,176.8 L150.0,175.5 L150.2,173.2 L150.5,171.2 L151.0,169.5 L151.7,168.0 L152.6,166.8 L153.6,165.5 L154.8,164.5 L156.2,163.5 L157.7,162.8 L159.2,162.2 L161.2,161.8 L163.2,161.7 L165.2,161.8 L167.2,162.2 L168.8,162.8 L170.2,163.8 L171.2,164.9 L171.9,166.5 L172.0,168.5 L171.5,170.2 L170.8,171.7 L169.8,173.0 L168.8,174.0 L167.5,175.1 L166.2,176.0 L164.8,176.8 L163.2,177.6 L161.8,178.4 L160.2,179.2 L159.0,180.1 L158.0,181.3 L157.0,182.6 L155.8,183.6 L154.2,184.4 L152.5,184.9 L150.5,185.2 L148.7,185.2 L146.5,185.1 L144.5,184.8 L142.5,185.0 L141.2,186.1 L140.4,187.5 L139.7,189.0 L139.0,190.8 L138.4,192.2 L137.5,193.6 L136.2,194.6Z" fill="#38b8d8"/><path d="M136.0,192.1 L135.0,192.1 L134.3,191.8 L133.8,191.2 L133.4,190.8 L133.0,190.1 L132.7,189.5 L132.4,188.8 L132.1,188.0 L131.9,187.2 L131.7,186.5 L131.5,185.8 L131.3,184.8 L131.1,184.0 L131.0,183.0 L130.9,182.2 L130.8,181.2 L130.8,180.2 L130.8,179.2 L130.8,178.2 L130.8,177.2 L130.8,176.2 L130.9,175.2 L131.0,174.2 L131.0,173.5 L131.2,172.5 L131.3,171.8 L131.4,170.8 L131.6,170.0 L131.8,169.2 L132.0,168.3 L132.2,167.5 L132.5,166.8 L132.8,166.2 L133.1,165.5 L133.5,164.8 L133.9,164.2 L134.5,163.8 L135.0,163.5 L136.0,163.4 L136.7,163.8 L137.2,164.2 L137.6,164.8 L138.0,165.3 L138.3,166.0 L138.6,166.8 L138.9,167.5 L139.1,168.2 L139.3,169.0 L139.5,169.8 L139.7,170.8 L139.8,171.5 L139.9,172.5 L140.0,173.2 L140.2,174.2 L140.2,175.1 L140.4,176.0 L140.5,176.8 L140.7,177.8 L141.0,178.5 L141.2,179.2 L141.5,179.9 L141.8,180.5 L142.1,181.2 L142.1,182.2 L141.8,182.8 L141.3,183.5 L141.0,184.0 L140.6,184.8 L140.2,185.3 L139.9,186.0 L139.5,186.8 L139.2,187.3 L138.9,188.0 L138.6,188.8 L138.2,189.5 L138.0,190.0 L137.5,190.7 L137.1,191.2 L136.6,191.8 L136.0,192.1ZM150.5,183.5 L149.5,183.6 L148.5,183.6 L147.8,183.5 L146.8,183.2 L146.1,183.0 L145.5,182.6 L145.0,182.1 L145.0,181.5 L145.5,181.0 L146.2,180.5 L146.8,180.2 L147.5,180.0 L148.3,179.8 L149.2,179.5 L150.0,179.3 L150.8,179.2 L151.5,179.0 L152.5,178.8 L153.2,178.5 L153.4,177.8 L153.2,177.0 L152.9,176.2 L152.6,175.5 L152.4,174.8 L152.3,173.8 L152.2,173.0 L152.2,172.1 L152.4,171.2 L152.6,170.5 L153.0,169.8 L153.2,169.2 L153.7,168.5 L154.1,168.0 L154.5,167.5 L155.0,167.0 L155.5,166.5 L156.1,166.0 L156.8,165.6 L157.3,165.2 L158.0,164.8 L158.7,164.5 L159.4,164.2 L160.1,164.0 L161.0,163.8 L161.8,163.6 L162.7,163.5 L163.5,163.4 L164.5,163.5 L165.2,163.5 L166.2,163.7 L167.0,164.0 L167.7,164.2 L168.2,164.6 L168.9,165.0 L169.4,165.5 L169.8,166.0 L170.1,166.8 L170.3,167.5 L170.4,168.5 L170.2,169.2 L170.0,170.1 L169.7,170.8 L169.3,171.5 L168.9,172.0 L168.5,172.5 L168.0,173.1 L167.5,173.6 L167.0,174.0 L166.4,174.5 L165.8,174.9 L165.2,175.2 L164.5,175.7 L163.9,176.0 L163.2,176.3 L162.5,176.6 L161.8,176.9 L161.0,177.2 L160.2,177.4 L159.5,177.6 L158.8,177.8 L158.0,178.0 L157.0,178.2 L156.2,178.4 L155.5,178.6 L154.8,178.9 L154.5,179.5 L154.4,180.5 L154.2,181.2 L153.8,182.0 L153.2,182.5 L152.8,182.8 L152.0,183.1 L151.2,183.4 L150.5,183.5Z" fill="#5cc890"/><path d="M159.8,176.0 L159.2,176.1 L158.8,176.1 L158.2,176.1 L157.8,176.1 L157.2,176.0 L157.0,176.0 L156.5,175.8 L156.2,175.7 L155.9,175.5 L155.5,175.2 L155.2,175.0 L155.0,174.8 L154.8,174.5 L154.7,174.2 L154.5,173.9 L154.3,173.5 L154.2,173.1 L154.2,172.8 L154.2,172.2 L154.2,171.8 L154.3,171.5 L154.4,171.0 L154.5,170.7 L154.7,170.2 L154.8,170.0 L155.0,169.7 L155.2,169.3 L155.4,169.0 L155.6,168.8 L155.9,168.5 L156.1,168.2 L156.3,168.0 L156.6,167.8 L156.9,167.5 L157.2,167.2 L157.5,167.0 L157.8,166.9 L158.0,166.7 L158.3,166.5 L158.8,166.3 L159.0,166.1 L159.3,166.0 L159.8,165.8 L160.0,165.7 L160.5,165.5 L160.8,165.5 L161.2,165.3 L161.6,165.2 L162.0,165.2 L162.5,165.1 L163.0,165.1 L163.5,165.0 L164.0,165.1 L164.5,165.1 L165.0,165.2 L165.4,165.2 L165.8,165.4 L166.2,165.5 L166.5,165.6 L166.8,165.8 L167.1,166.0 L167.4,166.2 L167.7,166.5 L167.9,166.8 L168.1,167.0 L168.2,167.3 L168.4,167.8 L168.5,168.1 L168.5,168.5 L168.5,169.0 L168.5,169.3 L168.4,169.8 L168.2,170.2 L168.1,170.5 L168.0,170.8 L167.8,171.2 L167.6,171.5 L167.4,171.8 L167.2,172.0 L167.0,172.2 L166.8,172.5 L166.5,172.8 L166.2,173.0 L166.0,173.2 L165.6,173.5 L165.3,173.8 L165.0,174.0 L164.8,174.1 L164.5,174.3 L164.1,174.5 L163.8,174.7 L163.5,174.8 L163.1,175.0 L162.8,175.2 L162.5,175.3 L162.0,175.5 L161.8,175.5 L161.2,175.7 L161.0,175.8 L160.5,175.9 L160.0,176.0 L159.8,176.0ZM136.0,189.4 L135.2,189.4 L134.7,189.2 L134.2,188.9 L133.9,188.5 L133.6,188.0 L133.3,187.5 L133.1,187.0 L132.9,186.5 L132.7,186.0 L132.5,185.3 L132.4,184.8 L132.2,184.2 L132.1,183.5 L132.0,183.0 L131.9,182.2 L131.8,181.5 L131.8,180.8 L131.7,180.2 L131.7,179.5 L131.7,178.8 L131.7,178.0 L131.7,177.2 L131.7,176.5 L131.8,176.0 L131.8,175.2 L131.9,174.5 L132.0,173.8 L132.0,173.2 L132.2,172.5 L132.2,172.0 L132.4,171.2 L132.5,170.8 L132.7,170.0 L132.9,169.5 L133.0,169.0 L133.2,168.5 L133.5,167.9 L133.8,167.5 L134.1,167.0 L134.5,166.5 L134.9,166.2 L135.5,166.0 L136.2,166.2 L136.6,166.5 L137.0,166.9 L137.3,167.2 L137.5,167.8 L137.8,168.2 L138.0,168.8 L138.2,169.5 L138.4,170.0 L138.5,170.5 L138.7,171.2 L138.8,171.8 L138.9,172.5 L139.0,173.0 L139.1,173.8 L139.2,174.5 L139.3,175.0 L139.4,175.8 L139.5,176.5 L139.5,177.0 L139.6,177.8 L139.8,178.5 L139.8,179.0 L140.0,179.8 L140.0,180.2 L140.1,181.0 L140.0,181.8 L140.0,182.2 L139.8,183.0 L139.6,183.5 L139.5,184.0 L139.2,184.5 L139.0,185.1 L138.8,185.6 L138.5,186.1 L138.2,186.6 L138.0,187.1 L137.8,187.5 L137.4,188.0 L137.1,188.5 L136.8,188.9 L136.2,189.2Z" fill="#c0d840"/><path d="M161.0,174.5 L160.8,174.6 L160.5,174.6 L160.2,174.7 L160.0,174.7 L159.8,174.7 L159.5,174.7 L159.2,174.7 L159.0,174.7 L158.8,174.7 L158.5,174.6 L158.2,174.6 L158.0,174.5 L158.0,174.5 L157.8,174.4 L157.5,174.3 L157.4,174.2 L157.2,174.2 L157.0,174.0 L157.0,174.0 L156.8,173.8 L156.7,173.8 L156.5,173.6 L156.5,173.5 L156.3,173.2 L156.2,173.2 L156.2,173.0 L156.1,172.8 L156.0,172.5 L156.0,172.4 L156.0,172.2 L156.0,172.0 L156.0,171.8 L156.0,171.5 L156.0,171.5 L156.0,171.2 L156.1,171.0 L156.2,170.8 L156.2,170.6 L156.3,170.5 L156.4,170.2 L156.5,170.1 L156.6,170.0 L156.7,169.8 L156.8,169.7 L156.9,169.5 L157.0,169.4 L157.1,169.2 L157.2,169.1 L157.3,169.0 L157.5,168.8 L157.6,168.8 L157.8,168.6 L157.8,168.5 L158.0,168.3 L158.1,168.2 L158.2,168.2 L158.5,168.0 L158.5,168.0 L158.8,167.8 L158.8,167.8 L159.0,167.6 L159.2,167.5 L159.2,167.5 L159.5,167.4 L159.7,167.2 L159.8,167.2 L160.0,167.1 L160.2,167.0 L160.3,167.0 L160.5,166.9 L160.8,166.8 L161.0,166.8 L161.0,166.8 L161.2,166.7 L161.5,166.6 L161.8,166.6 L162.0,166.5 L162.2,166.5 L162.2,166.5 L162.5,166.5 L162.8,166.4 L163.0,166.4 L163.2,166.4 L163.5,166.4 L163.8,166.5 L164.0,166.5 L164.1,166.5 L164.2,166.5 L164.5,166.6 L164.8,166.7 L165.0,166.7 L165.0,166.8 L165.2,166.8 L165.5,167.0 L165.6,167.0 L165.8,167.1 L165.9,167.2 L166.0,167.3 L166.2,167.5 L166.2,167.6 L166.4,167.8 L166.5,167.9 L166.6,168.0 L166.7,168.2 L166.8,168.4 L166.8,168.5 L166.8,168.8 L166.9,169.0 L166.9,169.2 L166.8,169.5 L166.8,169.8 L166.8,170.0 L166.7,170.0 L166.7,170.2 L166.6,170.5 L166.5,170.6 L166.4,170.8 L166.3,171.0 L166.2,171.1 L166.1,171.2 L166.0,171.5 L166.0,171.5 L165.8,171.8 L165.8,171.8 L165.5,172.0 L165.5,172.0 L165.3,172.2 L165.2,172.3 L165.0,172.5 L165.0,172.5 L164.8,172.7 L164.7,172.8 L164.5,172.9 L164.4,173.0 L164.2,173.1 L164.0,173.2 L164.0,173.3 L163.8,173.4 L163.6,173.5 L163.5,173.6 L163.2,173.7 L163.2,173.8 L163.0,173.8 L162.8,173.9 L162.6,174.0 L162.5,174.1 L162.2,174.2 L162.0,174.2 L162.0,174.2 L161.8,174.3 L161.5,174.4 L161.2,174.5 L161.1,174.5 L161.0,174.5ZM136.0,187.1 L135.5,187.1 L135.0,187.0 L134.8,186.9 L134.5,186.6 L134.2,186.3 L134.0,186.0 L133.9,185.8 L133.7,185.5 L133.5,185.0 L133.4,184.8 L133.2,184.3 L133.2,184.0 L133.0,183.5 L133.0,183.2 L132.9,182.8 L132.8,182.2 L132.7,182.0 L132.7,181.5 L132.6,181.0 L132.6,180.5 L132.5,180.0 L132.5,179.5 L132.5,179.1 L132.5,178.8 L132.5,178.2 L132.5,177.9 L132.5,177.5 L132.5,177.0 L132.6,176.5 L132.6,176.0 L132.6,175.5 L132.7,175.0 L132.7,174.5 L132.8,174.2 L132.9,173.8 L132.9,173.2 L133.0,173.0 L133.1,172.5 L133.2,172.0 L133.3,171.8 L133.4,171.2 L133.5,171.0 L133.7,170.5 L133.8,170.2 L134.0,169.9 L134.2,169.5 L134.4,169.2 L134.6,169.0 L134.9,168.8 L135.2,168.6 L135.8,168.5 L136.2,168.8 L136.5,169.0 L136.7,169.2 L136.9,169.5 L137.0,169.8 L137.2,170.2 L137.4,170.5 L137.5,170.8 L137.7,171.2 L137.8,171.5 L137.9,172.0 L138.0,172.5 L138.0,172.8 L138.1,173.2 L138.2,173.8 L138.3,174.0 L138.3,174.5 L138.4,175.0 L138.5,175.5 L138.5,175.8 L138.6,176.2 L138.6,176.8 L138.7,177.2 L138.7,177.8 L138.8,178.0 L138.8,178.5 L138.9,179.0 L138.9,179.5 L139.0,180.0 L139.0,180.5 L139.0,181.0 L138.9,181.5 L138.9,182.0 L138.8,182.5 L138.7,182.8 L138.6,183.2 L138.5,183.5 L138.3,184.0 L138.2,184.2 L138.0,184.6 L137.8,185.0 L137.7,185.2 L137.5,185.6 L137.2,185.9 L137.0,186.2 L136.8,186.5 L136.5,186.8 L136.2,186.9 L136.0,187.1Z" fill="#f0a020"/><path d="M161.0,173.5 L160.8,173.6 L160.5,173.6 L160.2,173.6 L160.0,173.6 L159.8,173.6 L159.5,173.6 L159.2,173.5 L159.1,173.5 L159.0,173.5 L158.8,173.4 L158.5,173.3 L158.4,173.2 L158.2,173.1 L158.1,173.0 L158.0,173.0 L157.8,172.8 L157.8,172.7 L157.6,172.5 L157.5,172.2 L157.5,172.2 L157.5,172.0 L157.4,171.8 L157.4,171.5 L157.4,171.2 L157.5,171.0 L157.5,171.0 L157.6,170.8 L157.7,170.5 L157.8,170.4 L157.8,170.2 L158.0,170.0 L158.0,170.0 L158.2,169.8 L158.2,169.6 L158.4,169.5 L158.5,169.4 L158.6,169.2 L158.8,169.1 L158.9,169.0 L159.0,168.9 L159.2,168.8 L159.2,168.7 L159.5,168.6 L159.6,168.5 L159.8,168.4 L160.0,168.3 L160.0,168.2 L160.2,168.1 L160.5,168.0 L160.6,168.0 L160.8,167.9 L161.0,167.8 L161.2,167.8 L161.3,167.8 L161.5,167.7 L161.8,167.7 L162.0,167.6 L162.2,167.6 L162.5,167.6 L162.8,167.6 L163.0,167.6 L163.2,167.6 L163.5,167.6 L163.8,167.7 L164.0,167.7 L164.0,167.8 L164.2,167.8 L164.5,168.0 L164.5,168.0 L164.8,168.1 L164.9,168.2 L165.0,168.4 L165.1,168.5 L165.2,168.7 L165.3,168.8 L165.4,169.0 L165.4,169.2 L165.4,169.5 L165.4,169.8 L165.4,170.0 L165.3,170.2 L165.2,170.5 L165.2,170.5 L165.1,170.8 L165.0,171.0 L165.0,171.0 L164.8,171.2 L164.8,171.3 L164.6,171.5 L164.5,171.6 L164.4,171.8 L164.2,171.9 L164.1,172.0 L164.0,172.1 L163.8,172.2 L163.8,172.3 L163.5,172.5 L163.5,172.5 L163.2,172.6 L163.1,172.8 L163.0,172.8 L162.8,172.9 L162.6,173.0 L162.5,173.0 L162.2,173.1 L162.0,173.2 L162.0,173.2 L161.8,173.3 L161.5,173.4 L161.2,173.5 L161.1,173.5 L161.0,173.5ZM136.2,185.3 L135.8,185.5 L135.2,185.4 L135.0,185.2 L134.7,185.0 L134.5,184.8 L134.2,184.4 L134.1,184.0 L133.9,183.8 L133.8,183.2 L133.7,183.0 L133.5,182.5 L133.5,182.2 L133.4,181.8 L133.3,181.2 L133.2,180.8 L133.2,180.5 L133.2,180.0 L133.1,179.5 L133.1,179.0 L133.1,178.5 L133.1,178.0 L133.1,177.5 L133.2,177.0 L133.2,176.5 L133.2,176.0 L133.3,175.8 L133.3,175.2 L133.4,174.8 L133.5,174.2 L133.5,174.0 L133.7,173.5 L133.8,173.1 L133.9,172.8 L134.0,172.3 L134.1,172.0 L134.2,171.7 L134.5,171.3 L134.7,171.0 L134.9,170.8 L135.2,170.6 L135.5,170.5 L135.8,170.5 L136.2,170.8 L136.4,171.0 L136.6,171.2 L136.8,171.5 L137.0,172.0 L137.1,172.2 L137.2,172.8 L137.3,173.0 L137.4,173.5 L137.5,173.8 L137.6,174.2 L137.7,174.8 L137.8,175.1 L137.8,175.5 L137.9,176.0 L137.9,176.5 L138.0,177.0 L138.0,177.2 L138.1,177.8 L138.1,178.2 L138.2,178.8 L138.2,179.2 L138.2,179.8 L138.2,180.2 L138.2,180.8 L138.2,181.2 L138.1,181.8 L138.0,182.2 L137.9,182.5 L137.8,183.0 L137.7,183.2 L137.5,183.7 L137.3,184.0 L137.2,184.2 L137.0,184.5 L136.8,184.8 L136.5,185.1 L136.2,185.3Z" fill="#e84018"/></g>
<rect x="139.4" y="142.3" width="44.6" height="45.0" fill="none" stroke="#505050" stroke-width="1.0"/>
<text stroke="#231f20" stroke-width="0.2" fill="#231f20" x="163.3" y="199.9" font-size="10" textLength="20.2" lengthAdjust="spacingAndGlyphs">72.5</text>
<line x1="184.0" y1="157.5" x2="210.4" y2="157.5" stroke="#333" stroke-width="0.9"/>
<path d="M207.2,154.4 L210.6,157.5 L207.2,160.7" fill="none" stroke="#333" stroke-width="0.9"/>
<rect x="226.5" y="138.1" width="66.1" height="66.1" fill="none" stroke="#505050" stroke-width="0.9"/>
<path d="M273.5,162.8h0.7M255.4,148.3h0.7M264.3,161.8h0.7M264.0,150.7h0.7M261.5,165.2h0.7M255.3,163.2h0.7M268.7,160.4h0.7M270.4,155.3h0.7M264.2,167.0h0.7M262.3,155.9h0.7M255.2,155.7h0.7M270.2,164.2h0.7M269.5,161.2h0.7M269.1,159.7h0.7M272.0,157.3h0.7M272.5,157.7h0.7M253.9,151.7h0.7M263.7,155.8h0.7M256.6,154.2h0.7M266.3,160.0h0.7M270.9,153.7h0.7M267.7,163.2h0.7M267.5,166.8h0.7M261.7,158.0h0.7M266.3,156.0h0.7M264.7,159.2h0.7M264.8,155.5h0.7M261.9,157.6h0.7M254.4,158.9h0.7M257.5,156.8h0.7M257.5,158.5h0.7M262.4,156.7h0.7M259.9,158.6h0.7M276.0,149.2h0.7M268.6,159.1h0.7M262.4,151.8h0.7M275.9,158.9h0.7M271.9,156.2h0.7M259.8,163.3h0.7M270.1,156.5h0.7M263.5,161.1h0.7M259.5,153.9h0.7M264.7,163.0h0.7M270.9,158.9h0.7M274.2,157.3h0.7M261.7,169.5h0.7M261.6,161.0h0.7M268.8,158.6h0.7M266.6,161.4h0.7M268.8,155.2h0.7M265.1,164.8h0.7M270.0,155.9h0.7M265.5,153.2h0.7M256.3,155.5h0.7M276.0,155.0h0.7M251.6,157.5h0.7M260.4,161.7h0.7M273.5,156.4h0.7M265.9,153.7h0.7M273.3,154.5h0.7" stroke="#f0a0a0" stroke-width="0.7" opacity="0.4"/>
<path d="M243.5,183.4h0.7M242.8,181.9h0.7M243.6,183.5h0.7M246.8,180.6h0.7M243.2,186.0h0.7M242.3,181.3h0.7M242.8,185.5h0.7M247.5,179.1h0.7M243.7,181.6h0.7M246.7,182.0h0.7M243.5,186.6h0.7M241.8,184.0h0.7M240.0,182.5h0.7M235.7,180.8h0.7M240.8,181.2h0.7M250.5,176.6h0.7M234.6,183.9h0.7M244.9,183.7h0.7M246.9,189.3h0.7M241.0,179.3h0.7M242.1,186.7h0.7M244.2,182.7h0.7M243.8,184.1h0.7M236.4,184.5h0.7M239.7,182.5h0.7M240.8,183.5h0.7M246.1,182.7h0.7M243.3,185.9h0.7M244.4,181.3h0.7M245.6,182.1h0.7M241.7,183.9h0.7M248.2,180.8h0.7M241.3,183.7h0.7M239.6,183.6h0.7M247.3,178.1h0.7M242.8,181.2h0.7M250.2,185.0h0.7M244.9,182.9h0.7M239.0,183.5h0.7M244.0,183.4h0.7M249.2,185.5h0.7M239.5,182.2h0.7M243.8,179.8h0.7M242.0,181.5h0.7M243.4,183.7h0.7M240.5,187.0h0.7M240.6,185.3h0.7M239.0,180.5h0.7M240.5,182.1h0.7M245.7,179.0h0.7M248.8,179.8h0.7M248.2,183.9h0.7M241.0,185.8h0.7M241.1,183.3h0.7M243.0,191.7h0.7M239.2,188.9h0.7M241.8,181.3h0.7M241.0,187.0h0.7M242.1,181.1h0.7M245.0,184.1h0.7M246.6,180.0h0.7M248.2,186.8h0.7M240.2,182.3h0.7M244.4,182.6h0.7M245.6,185.0h0.7M242.7,180.0h0.7M235.4,184.1h0.7M238.2,186.5h0.7M249.1,183.6h0.7M245.9,186.9h0.7M245.7,180.0h0.7M239.1,181.8h0.7M243.0,180.8h0.7M243.5,187.1h0.7M241.3,183.3h0.7M239.1,182.9h0.7M246.0,187.2h0.7M243.6,181.0h0.7M249.9,177.3h0.7M241.1,181.1h0.7M242.7,185.0h0.7M250.2,185.8h0.7M241.0,178.9h0.7M247.1,185.9h0.7M244.5,187.5h0.7M244.5,179.2h0.7M235.9,182.2h0.7M243.3,185.1h0.7M243.8,182.8h0.7M239.8,184.9h0.7M245.4,181.6h0.7M239.3,182.1h0.7M239.1,183.9h0.7M238.4,184.2h0.7M239.7,184.7h0.7M251.5,180.0h0.7M243.2,190.3h0.7M246.1,183.9h0.7M244.7,182.5h0.7M240.0,181.5h0.7M246.8,184.1h0.7M237.0,184.6h0.7M238.1,186.7h0.7M238.9,185.7h0.7M243.1,181.8h0.7M246.7,182.6h0.7M239.2,182.0h0.7M243.6,185.4h0.7M243.3,180.2h0.7M240.1,179.9h0.7M241.7,181.2h0.7M245.5,181.2h0.7M246.2,188.5h0.7M244.4,182.7h0.7M247.0,180.7h0.7M242.4,187.1h0.7M244.8,182.7h0.7M241.6,181.7h0.7M248.1,189.0h0.7M248.1,183.4h0.7M243.9,180.8h0.7M238.6,185.2h0.7M245.1,179.5h0.7M238.2,184.2h0.7M237.8,186.4h0.7M247.1,180.0h0.7M241.5,186.0h0.7M246.4,183.2h0.7M242.2,182.4h0.7M244.7,185.0h0.7M241.8,181.7h0.7M242.2,182.6h0.7M241.0,179.4h0.7M242.9,185.6h0.7M243.0,186.8h0.7M244.0,185.4h0.7M245.8,177.3h0.7M245.3,186.4h0.7M238.4,177.8h0.7M239.0,182.2h0.7M243.8,178.6h0.7M241.9,179.7h0.7M243.4,182.7h0.7M243.3,181.5h0.7M240.9,185.7h0.7M238.4,183.0h0.7M240.4,182.2h0.7M239.7,186.6h0.7M246.1,182.4h0.7M249.9,183.8h0.7M248.1,180.0h0.7M240.6,181.3h0.7M250.2,186.0h0.7M241.4,184.1h0.7M242.3,182.9h0.7M239.4,185.9h0.7M244.1,181.0h0.7M244.1,185.9h0.7M243.7,182.4h0.7M245.1,185.5h0.7M249.9,181.8h0.7M244.1,183.3h0.7M241.0,183.5h0.7M237.7,181.0h0.7M237.7,184.0h0.7M241.3,180.5h0.7M241.0,184.8h0.7M250.8,182.2h0.7M246.0,180.2h0.7M241.2,183.5h0.7M243.7,181.8h0.7M249.3,181.2h0.7M241.4,189.5h0.7M243.2,178.4h0.7M245.2,184.9h0.7M247.7,189.0h0.7M243.1,186.5h0.7M243.0,180.7h0.7M239.7,180.6h0.7M237.2,187.9h0.7M240.2,179.5h0.7M242.4,179.6h0.7M246.8,188.9h0.7M244.5,183.0h0.7M241.5,184.8h0.7M246.1,186.2h0.7M241.3,184.1h0.7M237.6,184.0h0.7M246.3,186.5h0.7M239.4,179.0h0.7M250.2,183.5h0.7M242.0,184.3h0.7M241.9,185.0h0.7M245.0,181.4h0.7M237.8,181.8h0.7M240.4,180.3h0.7M244.3,185.3h0.7M241.6,180.7h0.7M236.7,180.7h0.7M240.0,178.7h0.7M242.1,184.3h0.7M241.7,189.5h0.7M243.1,184.9h0.7M243.4,184.6h0.7M242.3,184.1h0.7M242.3,179.3h0.7M238.0,185.6h0.7M249.2,184.1h0.7M239.3,179.9h0.7M248.4,188.9h0.7M247.0,183.2h0.7M241.2,186.6h0.7M242.0,180.5h0.7M234.7,181.6h0.7M242.1,180.8h0.7M248.2,180.8h0.7M247.0,183.9h0.7M242.1,185.8h0.7M238.4,187.4h0.7M241.0,182.2h0.7M244.8,184.2h0.7M239.9,186.0h0.7M239.3,183.5h0.7M240.0,183.1h0.7M245.4,182.9h0.7M239.5,186.5h0.7M244.9,181.1h0.7M241.2,181.9h0.7M248.4,185.5h0.7M245.9,184.0h0.7M235.5,182.9h0.7M244.0,181.3h0.7M248.8,183.7h0.7M242.8,177.0h0.7M246.5,186.6h0.7M237.7,179.6h0.7M246.4,179.6h0.7M243.8,182.6h0.7M247.7,183.2h0.7M244.6,182.5h0.7M235.7,182.9h0.7M247.7,182.7h0.7M243.6,183.1h0.7M245.1,184.8h0.7M246.9,180.4h0.7M236.0,186.3h0.7M241.0,183.3h0.7M248.4,181.9h0.7M249.1,183.3h0.7M235.6,183.3h0.7M243.3,183.8h0.7M242.2,190.4h0.7" stroke="#e82030" stroke-width="0.7" opacity="0.5"/>
<path d="M239,179 L238.5,186 L241,189 L246,189 L249,186 L249,180 Z" fill="#ec4a55" stroke="none" stroke-width="0.8" opacity="0.6" filter="url(#b06)"/>
<path d="M239.6,173.7h0.7M239.0,170.4h0.7M238.1,172.9h0.7M241.7,179.2h0.7M244.7,165.5h0.7M241.1,169.8h0.7M241.9,156.4h0.7M243.7,151.1h0.7M245.5,166.9h0.7M240.1,159.0h0.7M242.4,173.5h0.7M240.1,173.6h0.7M241.7,167.9h0.7M248.0,161.9h0.7M243.0,153.2h0.7M242.2,170.8h0.7M240.8,175.5h0.7M246.5,171.2h0.7M241.9,163.4h0.7M244.0,155.3h0.7M245.2,159.5h0.7M243.0,154.4h0.7M239.1,157.3h0.7M243.8,165.8h0.7M242.4,175.1h0.7M239.3,174.1h0.7M240.3,156.5h0.7M240.4,175.8h0.7M247.3,159.9h0.7M238.7,149.7h0.7M242.2,169.6h0.7M243.4,167.8h0.7M246.5,165.8h0.7M243.4,162.6h0.7M242.2,159.3h0.7M240.4,159.1h0.7M242.2,166.3h0.7M243.4,168.4h0.7M241.3,166.8h0.7M236.9,168.6h0.7M241.1,165.7h0.7M244.1,166.3h0.7M240.5,164.9h0.7M242.7,175.1h0.7M243.2,168.1h0.7M236.4,172.7h0.7M244.4,157.5h0.7M242.3,171.3h0.7M239.0,148.8h0.7M243.4,159.7h0.7M241.4,165.9h0.7M241.1,172.9h0.7M242.9,167.8h0.7M244.7,164.6h0.7M238.0,165.1h0.7M237.8,167.3h0.7M238.3,164.8h0.7M246.0,171.8h0.7M239.5,151.0h0.7M240.6,175.3h0.7M243.8,149.9h0.7M244.7,167.9h0.7M244.4,178.9h0.7M239.4,170.7h0.7M242.6,175.8h0.7M241.1,151.2h0.7M242.6,174.9h0.7M241.2,162.6h0.7M242.6,163.8h0.7M240.7,161.0h0.7M246.7,160.8h0.7M242.6,176.7h0.7M245.5,148.8h0.7M239.6,152.8h0.7M237.6,163.8h0.7M243.1,153.6h0.7M242.8,177.9h0.7M239.0,177.8h0.7M242.5,166.3h0.7M246.7,158.2h0.7M247.9,164.7h0.7M243.8,163.3h0.7M243.7,177.7h0.7M242.1,160.0h0.7M244.2,162.7h0.7M243.0,175.3h0.7M242.6,168.9h0.7M242.7,166.2h0.7M244.8,177.2h0.7M243.0,148.1h0.7M237.4,173.3h0.7M246.8,178.2h0.7M240.6,167.7h0.7M240.4,169.4h0.7M241.9,155.3h0.7M244.1,165.7h0.7M237.3,174.3h0.7M239.3,159.3h0.7M241.5,152.4h0.7M239.3,176.8h0.7M242.5,168.0h0.7M245.1,167.7h0.7M244.0,156.1h0.7M243.6,162.7h0.7M243.9,163.7h0.7M243.6,160.6h0.7M238.2,158.2h0.7M245.2,163.1h0.7M242.6,162.3h0.7M245.1,157.8h0.7M240.3,177.7h0.7M239.7,160.6h0.7M244.0,173.4h0.7M241.1,178.4h0.7M240.9,167.3h0.7M240.0,159.4h0.7M237.2,170.5h0.7M247.2,173.3h0.7M244.0,160.2h0.7M240.4,178.6h0.7M247.4,159.9h0.7M243.6,165.7h0.7M244.5,158.5h0.7M245.3,161.8h0.7M243.1,159.0h0.7M245.5,162.5h0.7M244.1,165.2h0.7M244.9,170.2h0.7M244.9,160.5h0.7M242.6,148.6h0.7M244.7,150.2h0.7M241.2,170.6h0.7M239.7,169.1h0.7M242.0,159.2h0.7M243.3,166.0h0.7M242.6,165.0h0.7M246.3,174.5h0.7M241.8,169.7h0.7M239.0,165.1h0.7M243.2,165.1h0.7M241.9,175.4h0.7M244.5,172.0h0.7M239.9,159.6h0.7M242.3,171.3h0.7M243.8,163.9h0.7M238.7,151.6h0.7M246.8,157.4h0.7M241.1,161.8h0.7M247.6,153.9h0.7M239.1,179.9h0.7M242.8,155.2h0.7M240.2,174.5h0.7M241.4,164.5h0.7M239.3,170.7h0.7M238.7,158.5h0.7M240.7,153.3h0.7M242.9,165.4h0.7M241.8,174.4h0.7M245.7,164.0h0.7M246.1,178.9h0.7M240.7,174.6h0.7M238.6,153.2h0.7M242.1,175.3h0.7M246.2,152.0h0.7M243.3,178.5h0.7M240.3,167.4h0.7M238.6,156.5h0.7M244.8,175.0h0.7M243.7,160.8h0.7M241.5,176.0h0.7M246.5,156.9h0.7M240.9,173.3h0.7M242.0,167.9h0.7M240.2,164.2h0.7M243.0,167.8h0.7M246.3,169.5h0.7M242.1,172.9h0.7M236.9,162.9h0.7M243.1,164.3h0.7M241.7,166.4h0.7M239.1,176.8h0.7M240.2,174.0h0.7M236.9,151.1h0.7M241.1,161.5h0.7M237.0,159.7h0.7M235.7,157.3h0.7M242.6,170.6h0.7M238.8,158.0h0.7M243.0,175.1h0.7M241.7,169.4h0.7M247.5,159.9h0.7M242.8,155.7h0.7M245.1,149.5h0.7M242.4,161.8h0.7M243.1,167.6h0.7M241.1,159.9h0.7M242.5,167.1h0.7M239.5,168.3h0.7M240.1,162.6h0.7M240.6,151.7h0.7M238.6,158.2h0.7M242.2,173.4h0.7M241.4,156.0h0.7M244.6,171.5h0.7M240.2,165.3h0.7M243.3,155.0h0.7M242.2,150.6h0.7M243.3,176.9h0.7M246.0,170.5h0.7M240.5,163.9h0.7M239.6,164.2h0.7M242.4,161.5h0.7M238.7,157.9h0.7M244.3,160.9h0.7M244.5,170.4h0.7M245.2,156.1h0.7M242.2,154.3h0.7M241.5,175.6h0.7M240.8,157.0h0.7M243.7,155.3h0.7M242.2,176.9h0.7M244.0,158.0h0.7M240.5,176.0h0.7M247.4,159.6h0.7M241.5,157.6h0.7M238.4,155.3h0.7M240.8,176.6h0.7M239.7,152.4h0.7M244.2,149.5h0.7M239.6,176.4h0.7M245.4,175.8h0.7M239.3,173.8h0.7M243.3,157.7h0.7M243.7,162.6h0.7M239.3,153.4h0.7M244.2,173.2h0.7M242.0,164.6h0.7M241.3,156.7h0.7M239.4,173.6h0.7M244.7,164.9h0.7M244.7,162.9h0.7M241.1,163.2h0.7M245.5,163.4h0.7M241.4,166.1h0.7M241.6,166.8h0.7M243.1,149.4h0.7M240.0,157.4h0.7M239.6,161.4h0.7M238.1,152.5h0.7M240.1,170.4h0.7M240.9,171.1h0.7M247.3,156.0h0.7M241.5,169.4h0.7M236.6,164.8h0.7M240.5,169.7h0.7M243.8,150.1h0.7M238.2,175.1h0.7M239.7,154.3h0.7M240.5,178.3h0.7M237.0,158.7h0.7M243.5,166.8h0.7M241.0,170.6h0.7M238.8,174.3h0.7M242.2,160.2h0.7M241.2,160.5h0.7M241.1,156.1h0.7M239.0,178.1h0.7M243.0,161.1h0.7M242.4,158.1h0.7M242.6,167.6h0.7M240.2,162.4h0.7M242.8,168.9h0.7M240.7,168.5h0.7M245.2,172.9h0.7M242.3,166.2h0.7M247.4,169.0h0.7M241.8,163.8h0.7M244.2,165.0h0.7M244.9,173.9h0.7M240.8,159.1h0.7M237.2,155.6h0.7M243.8,167.4h0.7M242.1,164.0h0.7M241.3,172.6h0.7M241.6,164.1h0.7M246.4,165.2h0.7M241.8,161.8h0.7M240.3,160.5h0.7M243.8,151.5h0.7M240.3,159.7h0.7M237.3,164.1h0.7M242.2,156.9h0.7M241.4,159.0h0.7M239.2,163.3h0.7M239.7,151.8h0.7M244.5,154.9h0.7M244.6,174.0h0.7M244.8,172.1h0.7M239.3,169.7h0.7M242.0,171.0h0.7M241.5,179.5h0.7M243.8,175.0h0.7M242.1,153.0h0.7M238.8,159.5h0.7M244.6,157.7h0.7M244.0,159.8h0.7M244.9,157.7h0.7M245.1,172.0h0.7M244.7,160.9h0.7M237.9,148.1h0.7M239.1,162.8h0.7M239.8,160.7h0.7M243.1,158.9h0.7M242.4,152.8h0.7M243.7,163.1h0.7M245.5,177.2h0.7M240.9,175.7h0.7M241.7,167.8h0.7M247.2,178.6h0.7M244.3,165.9h0.7M242.1,179.1h0.7M237.2,163.5h0.7M236.3,156.4h0.7M242.8,171.6h0.7M236.9,158.4h0.7M235.5,173.1h0.7M236.9,164.3h0.7M243.4,150.4h0.7M239.0,178.1h0.7M238.8,156.7h0.7M246.7,179.7h0.7M239.1,166.7h0.7M236.2,153.6h0.7M239.9,171.7h0.7M237.9,152.6h0.7M240.8,166.2h0.7M244.8,157.7h0.7M240.6,158.1h0.7M242.8,159.8h0.7M241.9,161.4h0.7M244.2,162.2h0.7M246.0,165.3h0.7M241.0,160.6h0.7M240.9,165.3h0.7M247.8,177.9h0.7M240.1,159.7h0.7M240.4,162.5h0.7M238.9,177.0h0.7M241.5,169.1h0.7M243.4,163.5h0.7M239.4,158.3h0.7M236.9,161.1h0.7M241.7,175.7h0.7M240.4,174.6h0.7M239.7,157.3h0.7M243.0,150.4h0.7M240.7,155.9h0.7M240.9,177.5h0.7M239.6,156.1h0.7M244.1,164.7h0.7M239.9,170.6h0.7M241.5,148.5h0.7M239.0,157.2h0.7M245.1,170.8h0.7M239.0,178.6h0.7M245.8,163.6h0.7M243.4,156.3h0.7M237.9,172.1h0.7M243.5,175.2h0.7M244.8,168.1h0.7M242.0,178.0h0.7M241.2,164.7h0.7M244.6,177.4h0.7M246.6,179.5h0.7M244.2,161.0h0.7M243.3,165.6h0.7M247.8,175.7h0.7M238.6,151.2h0.7M237.7,170.4h0.7M243.7,162.9h0.7M242.7,166.3h0.7M240.1,170.8h0.7M241.0,174.9h0.7M238.5,163.3h0.7M241.8,162.6h0.7M236.5,179.1h0.7M240.7,164.9h0.7M242.4,159.2h0.7M236.8,161.9h0.7M242.5,165.8h0.7M241.9,167.3h0.7M240.0,156.3h0.7M237.8,163.8h0.7M244.5,170.1h0.7M238.4,161.3h0.7M245.3,167.1h0.7M247.4,164.9h0.7M239.2,152.5h0.7M246.7,170.5h0.7M240.9,164.4h0.7M243.4,170.1h0.7M240.6,170.6h0.7M239.0,152.4h0.7M243.6,152.5h0.7M238.9,158.2h0.7M240.2,150.0h0.7M247.1,173.2h0.7M241.3,171.8h0.7M247.5,158.3h0.7M245.3,171.4h0.7M241.0,162.3h0.7M244.2,163.4h0.7M243.5,160.3h0.7M244.2,166.2h0.7M246.7,170.6h0.7M239.9,161.4h0.7M242.7,157.5h0.7M240.3,170.4h0.7M243.6,146.7h0.7M245.1,153.3h0.7M242.0,177.5h0.7M238.4,170.6h0.7M240.7,169.8h0.7M245.2,154.0h0.7M238.7,159.4h0.7M244.6,173.4h0.7M245.3,167.6h0.7M239.7,174.2h0.7M240.8,160.7h0.7M243.3,168.5h0.7M241.1,179.6h0.7M243.8,174.0h0.7M248.0,169.9h0.7M247.1,151.4h0.7M242.7,161.1h0.7M239.5,167.8h0.7M239.2,174.6h0.7M246.4,152.6h0.7M245.1,176.1h0.7M245.7,158.7h0.7M243.9,167.7h0.7M244.9,165.9h0.7M237.2,170.0h0.7M242.1,168.7h0.7M240.6,163.6h0.7M241.9,152.0h0.7M238.8,172.3h0.7M245.9,170.1h0.7M244.2,166.9h0.7M246.7,161.7h0.7M243.5,173.3h0.7M237.8,177.8h0.7M243.6,177.3h0.7M243.3,148.4h0.7M242.2,154.0h0.7M239.2,173.1h0.7M246.0,167.3h0.7M242.1,173.2h0.7M243.1,155.6h0.7M246.1,163.5h0.7M240.9,179.0h0.7M236.6,153.5h0.7M242.3,157.6h0.7M241.9,169.5h0.7M244.4,157.9h0.7M245.0,155.0h0.7M243.6,166.3h0.7M241.1,159.6h0.7M246.7,174.0h0.7M245.2,164.8h0.7M237.9,164.9h0.7M246.6,157.5h0.7M240.3,171.9h0.7M239.7,159.6h0.7M246.0,172.0h0.7M247.9,163.0h0.7M245.6,175.3h0.7M241.5,154.3h0.7M239.3,157.6h0.7M237.7,164.3h0.7M245.8,156.3h0.7M245.7,163.5h0.7M244.0,151.8h0.7M241.8,147.5h0.7M235.7,169.5h0.7M241.3,167.2h0.7M240.1,171.9h0.7M243.3,164.5h0.7M237.7,167.1h0.7M247.2,170.7h0.7M244.1,174.4h0.7M240.8,171.7h0.7M239.0,171.1h0.7M240.3,151.7h0.7M245.2,162.3h0.7M244.9,160.2h0.7M243.5,177.5h0.7M240.2,169.8h0.7M241.4,157.2h0.7M245.4,166.0h0.7M245.4,157.5h0.7M236.6,170.9h0.7M237.8,151.7h0.7M237.4,163.1h0.7M243.4,160.1h0.7M241.6,165.9h0.7M244.8,147.5h0.7M240.8,172.5h0.7M245.8,168.9h0.7M240.4,176.9h0.7M237.7,162.7h0.7M239.6,162.7h0.7M240.2,168.4h0.7M241.7,158.1h0.7M238.5,169.9h0.7M238.4,154.4h0.7M243.1,150.5h0.7M239.9,170.1h0.7M241.7,167.4h0.7M243.1,151.1h0.7M242.0,150.5h0.7M243.0,167.2h0.7M238.7,153.1h0.7M244.4,163.8h0.7M242.9,167.2h0.7M243.5,165.6h0.7M244.8,156.1h0.7M245.2,169.3h0.7M243.2,166.0h0.7M240.4,175.9h0.7M247.4,168.0h0.7M240.1,173.5h0.7M240.4,170.5h0.7M245.3,157.9h0.7M244.1,148.6h0.7M241.6,153.9h0.7M239.9,175.5h0.7M238.1,158.4h0.7M243.2,168.1h0.7M242.7,164.7h0.7M238.6,159.1h0.7M238.4,151.2h0.7M244.5,168.9h0.7M240.0,155.1h0.7M246.3,173.4h0.7M242.1,163.2h0.7M244.0,167.0h0.7M246.5,158.1h0.7M247.6,169.9h0.7M244.3,146.2h0.7M236.3,169.9h0.7M243.2,155.0h0.7M242.0,160.2h0.7M243.2,160.0h0.7M245.1,148.3h0.7M237.1,178.1h0.7M247.8,152.6h0.7M247.8,154.3h0.7M244.8,164.5h0.7M245.1,177.2h0.7M239.5,171.6h0.7M242.1,169.9h0.7M247.0,155.0h0.7M239.2,173.9h0.7M244.9,160.3h0.7M245.4,170.9h0.7M242.4,175.0h0.7M239.7,162.9h0.7M244.7,155.4h0.7M240.2,169.0h0.7M241.7,171.2h0.7M245.0,159.1h0.7M242.4,158.8h0.7M241.0,167.9h0.7M243.9,162.8h0.7M243.4,163.7h0.7M242.4,174.0h0.7M246.8,167.0h0.7M241.6,178.6h0.7M243.5,160.7h0.7M241.3,172.1h0.7M241.5,174.8h0.7M240.3,149.7h0.7M245.4,168.1h0.7M243.4,178.3h0.7M242.2,159.6h0.7M239.8,152.5h0.7M236.8,152.5h0.7M244.6,165.5h0.7M240.6,168.8h0.7M244.5,161.0h0.7M246.8,168.5h0.7M244.9,153.8h0.7M240.9,173.3h0.7M241.1,164.3h0.7M246.6,164.6h0.7M247.9,151.1h0.7M242.6,153.9h0.7M244.3,147.7h0.7M239.3,160.2h0.7M243.0,162.2h0.7M238.3,162.8h0.7M241.6,151.7h0.7M244.3,155.9h0.7M236.8,146.9h0.7M241.8,166.3h0.7M237.9,168.1h0.7M244.0,155.5h0.7M247.4,174.4h0.7M242.7,162.2h0.7M246.2,161.3h0.7M235.7,151.4h0.7M236.6,152.3h0.7M245.0,154.3h0.7M245.7,157.8h0.7M238.0,174.7h0.7M246.5,166.0h0.7M240.1,169.9h0.7M242.9,179.8h0.7M239.5,159.6h0.7M242.9,165.7h0.7M244.0,160.3h0.7M241.6,151.9h0.7M240.4,164.5h0.7M241.3,163.9h0.7M238.3,174.8h0.7M239.9,166.0h0.7M247.2,174.6h0.7M244.1,159.3h0.7M240.4,160.9h0.7M240.0,166.2h0.7M243.1,168.3h0.7M239.5,166.6h0.7M243.6,160.4h0.7M238.8,161.6h0.7M243.6,171.5h0.7M238.5,153.8h0.7M237.5,171.5h0.7M240.3,161.1h0.7M242.7,159.3h0.7M244.9,152.1h0.7M240.6,149.3h0.7M243.6,148.5h0.7M245.2,158.3h0.7M242.6,164.7h0.7M244.5,170.7h0.7M242.4,171.6h0.7M246.0,170.3h0.7M243.9,164.8h0.7M247.9,176.2h0.7M245.3,165.3h0.7M241.6,155.4h0.7M243.2,150.2h0.7M240.1,166.7h0.7M236.0,162.0h0.7M243.2,179.4h0.7M241.0,172.3h0.7M240.8,166.2h0.7M241.0,169.8h0.7M241.7,158.2h0.7M245.4,175.1h0.7M242.4,169.8h0.7M239.7,172.7h0.7M243.0,152.2h0.7M244.2,150.8h0.7M245.6,158.7h0.7M238.6,166.7h0.7M243.7,168.8h0.7M236.2,159.0h0.7M242.3,158.2h0.7M238.4,165.6h0.7M243.1,160.5h0.7M247.7,174.5h0.7M243.3,157.0h0.7M242.4,158.6h0.7M246.7,163.6h0.7M242.0,160.9h0.7M244.5,168.0h0.7M238.8,155.4h0.7M240.7,177.7h0.7M240.2,158.8h0.7M243.9,153.6h0.7M241.3,162.4h0.7M241.7,163.6h0.7M244.1,166.7h0.7M244.2,156.7h0.7M244.0,151.6h0.7M243.9,166.2h0.7M244.9,155.1h0.7M244.1,166.9h0.7M237.2,170.7h0.7M236.4,171.4h0.7M245.1,166.0h0.7M245.3,172.6h0.7M244.3,157.1h0.7M240.4,168.5h0.7M244.3,178.5h0.7M239.9,148.7h0.7M244.6,164.6h0.7M246.7,166.3h0.7M245.1,156.3h0.7M242.1,152.5h0.7M242.0,173.5h0.7M237.3,162.5h0.7M238.3,169.8h0.7M243.6,159.9h0.7M241.3,157.4h0.7M244.5,165.4h0.7M243.2,156.0h0.7M242.7,152.1h0.7M240.5,166.5h0.7M246.5,167.3h0.7M241.9,173.6h0.7M237.1,174.9h0.7M242.4,157.5h0.7M246.6,156.0h0.7M243.4,166.4h0.7M246.1,177.5h0.7M237.3,163.8h0.7M238.9,164.8h0.7M244.6,162.8h0.7M245.8,156.2h0.7M241.5,161.0h0.7M235.6,169.8h0.7M242.3,176.4h0.7M243.6,169.0h0.7M237.4,175.7h0.7M245.4,175.5h0.7M239.8,153.6h0.7M239.7,158.2h0.7M246.5,163.4h0.7M242.6,174.0h0.7M240.3,155.1h0.7M241.2,154.7h0.7M246.0,161.8h0.7M241.1,161.5h0.7M241.5,174.7h0.7M236.2,174.1h0.7M237.4,149.1h0.7M241.9,172.9h0.7M243.9,152.7h0.7M240.3,175.5h0.7M241.4,173.5h0.7M239.4,161.4h0.7M242.4,178.7h0.7M244.8,177.6h0.7M243.4,167.0h0.7M237.6,155.1h0.7M246.3,167.5h0.7M240.4,162.6h0.7M237.9,160.3h0.7M245.8,176.9h0.7M244.4,169.8h0.7M243.3,169.0h0.7M241.6,171.6h0.7M246.7,148.7h0.7M244.5,172.1h0.7M240.1,166.0h0.7M243.4,172.0h0.7M238.8,175.8h0.7M246.9,173.9h0.7M244.5,155.4h0.7M245.6,162.9h0.7M242.4,166.7h0.7M242.2,178.8h0.7M245.6,161.4h0.7M240.2,162.9h0.7M236.2,160.7h0.7M240.0,170.6h0.7M243.1,168.8h0.7M237.9,154.1h0.7M238.2,155.5h0.7M238.2,147.4h0.7M242.2,156.9h0.7M236.1,157.5h0.7M243.7,158.6h0.7M243.0,163.6h0.7M236.2,160.0h0.7M242.8,164.6h0.7M237.0,171.8h0.7M238.5,160.5h0.7M240.9,172.9h0.7M238.6,158.0h0.7M243.6,178.0h0.7M240.9,177.4h0.7M240.3,153.5h0.7M240.4,170.9h0.7M240.0,167.6h0.7M243.5,172.8h0.7M244.5,164.2h0.7M237.0,166.3h0.7M244.7,168.4h0.7M241.1,161.8h0.7M246.3,170.4h0.7M243.8,163.5h0.7M239.2,159.0h0.7M239.0,166.1h0.7M244.5,148.5h0.7M244.9,158.4h0.7M237.9,173.2h0.7M240.0,168.3h0.7M244.2,158.3h0.7M235.7,163.0h0.7M240.4,154.9h0.7M237.3,165.3h0.7M238.1,162.5h0.7M238.7,160.9h0.7M239.6,165.3h0.7M243.2,164.5h0.7M246.3,154.1h0.7M238.1,154.4h0.7M242.7,151.1h0.7M241.7,156.5h0.7M242.1,160.8h0.7M242.8,177.8h0.7M242.6,168.3h0.7M238.8,174.6h0.7M242.4,155.0h0.7M244.1,173.0h0.7M236.6,159.4h0.7M247.7,151.6h0.7M245.2,161.9h0.7M243.2,159.6h0.7M245.5,152.7h0.7M247.0,174.0h0.7M245.4,159.4h0.7M245.9,175.5h0.7M245.0,174.7h0.7M242.0,175.7h0.7M240.3,168.3h0.7M240.4,174.2h0.7M242.1,164.6h0.7M237.9,159.9h0.7M243.0,175.9h0.7M241.3,153.6h0.7M240.9,173.5h0.7M241.2,163.5h0.7M243.3,152.2h0.7M242.9,155.4h0.7M243.9,179.2h0.7M244.8,161.5h0.7M241.5,149.9h0.7M242.9,176.2h0.7M245.0,166.5h0.7M244.0,167.1h0.7M242.0,167.8h0.7M242.6,160.9h0.7M243.2,162.9h0.7M242.0,153.3h0.7M242.0,156.0h0.7M242.3,168.6h0.7M241.5,171.1h0.7M240.5,156.1h0.7M244.8,169.4h0.7M238.9,163.7h0.7M240.3,161.5h0.7M244.4,162.7h0.7M246.4,176.8h0.7M240.8,156.7h0.7M244.5,173.0h0.7M241.6,159.1h0.7M237.5,156.6h0.7M243.8,156.9h0.7M242.9,165.9h0.7M242.4,176.6h0.7M241.5,152.2h0.7M241.4,168.5h0.7M238.3,168.8h0.7M236.5,152.3h0.7M241.5,152.7h0.7M244.3,169.8h0.7M240.5,155.5h0.7M246.6,163.7h0.7M239.5,158.6h0.7M243.3,175.1h0.7M244.7,151.7h0.7M244.2,155.3h0.7M238.8,173.2h0.7M242.6,159.6h0.7M239.4,166.2h0.7M245.6,152.8h0.7M247.0,161.5h0.7M245.5,174.8h0.7M235.8,172.1h0.7M237.4,164.4h0.7M238.9,158.3h0.7M244.9,164.6h0.7M246.3,147.3h0.7M240.2,166.8h0.7M237.7,166.3h0.7M241.6,166.6h0.7M244.2,178.1h0.7M247.2,163.4h0.7M239.9,172.9h0.7M240.9,164.0h0.7M239.4,160.8h0.7M237.4,161.4h0.7M237.2,160.8h0.7M246.4,157.3h0.7M242.6,151.3h0.7M239.6,161.3h0.7M246.9,163.8h0.7M247.4,164.3h0.7M242.1,174.9h0.7M238.7,157.8h0.7M239.3,166.4h0.7M245.3,157.9h0.7M247.3,176.9h0.7M247.1,166.5h0.7M243.0,166.3h0.7M241.8,165.0h0.7M247.8,175.4h0.7M244.8,160.3h0.7M237.4,166.4h0.7M241.6,169.1h0.7M241.8,149.1h0.7M240.4,172.8h0.7M239.1,165.3h0.7M243.7,153.2h0.7M241.3,172.4h0.7M243.4,177.5h0.7M241.4,158.3h0.7M243.0,177.2h0.7M244.1,157.8h0.7M241.6,170.3h0.7M243.5,171.1h0.7M245.1,178.4h0.7M240.3,169.9h0.7M247.2,160.1h0.7" stroke="#000" stroke-width="0.7" opacity="0.6"/>
<path d="M240.8,151 L244.3,149.5 L245.8,155 L246.6,166 L246.6,178.5 L238.4,178.5 L238.6,168 L239.6,158 Z" fill="#111" stroke="none" stroke-width="0.8" opacity="0.85" filter="url(#b06)"/>
<path d="M267.6,181.0h0.7M263.1,174.2h0.7M260.2,179.9h0.7M268.8,182.8h0.7M261.9,178.2h0.7M255.9,182.0h0.7M271.6,172.1h0.7M273.8,185.5h0.7M264.8,180.0h0.7M259.5,175.9h0.7M266.6,181.0h0.7M258.1,178.7h0.7M270.1,189.1h0.7M268.1,171.6h0.7M268.7,182.5h0.7M273.1,184.7h0.7M251.2,192.0h0.7M253.5,188.1h0.7M265.5,179.3h0.7M255.5,181.2h0.7M260.7,190.7h0.7M265.4,188.4h0.7M253.6,179.8h0.7M269.0,187.3h0.7M267.3,179.8h0.7M254.4,191.5h0.7M257.1,180.1h0.7M273.7,182.5h0.7M257.5,186.6h0.7M260.6,189.0h0.7M261.2,177.7h0.7M263.2,181.5h0.7M252.2,179.0h0.7M252.7,186.6h0.7M271.1,180.3h0.7M258.4,184.1h0.7M262.0,184.9h0.7M265.7,184.2h0.7M266.7,176.8h0.7M267.3,171.4h0.7M262.8,180.5h0.7M264.8,181.0h0.7M263.8,172.5h0.7M258.1,177.8h0.7M264.6,183.0h0.7M258.6,179.2h0.7M256.6,181.2h0.7M265.0,185.6h0.7M260.7,176.3h0.7M255.7,185.6h0.7M254.1,180.0h0.7M262.1,178.4h0.7M260.1,184.9h0.7M260.9,182.9h0.7M261.7,175.5h0.7M257.6,187.8h0.7M270.1,179.3h0.7M256.9,178.9h0.7M273.7,181.9h0.7M259.8,186.4h0.7M254.9,178.7h0.7M257.5,181.5h0.7M252.3,178.4h0.7M262.7,176.6h0.7M254.2,184.0h0.7M254.3,180.7h0.7M267.5,182.3h0.7M275.1,181.3h0.7M250.6,183.7h0.7M263.3,185.8h0.7M251.2,181.1h0.7M269.8,183.0h0.7M270.0,178.2h0.7M265.2,181.9h0.7M273.2,176.8h0.7M270.6,183.0h0.7M262.3,178.5h0.7M253.9,174.1h0.7M264.0,176.9h0.7M270.1,184.2h0.7M265.3,187.8h0.7M261.2,186.6h0.7M269.1,181.2h0.7M273.6,182.4h0.7M255.7,189.1h0.7M262.9,180.9h0.7M261.3,177.9h0.7M259.3,186.1h0.7M256.9,181.1h0.7M256.3,182.1h0.7M265.8,184.7h0.7M259.5,178.1h0.7M264.1,186.5h0.7M262.9,179.2h0.7M260.0,187.1h0.7M255.2,181.1h0.7M250.3,180.8h0.7M267.1,187.3h0.7M266.4,187.3h0.7M256.8,190.2h0.7M274.9,173.5h0.7M253.9,185.8h0.7M267.4,188.9h0.7M263.3,176.8h0.7M256.9,189.6h0.7M262.0,173.0h0.7M260.7,185.6h0.7M262.0,185.3h0.7M265.6,182.1h0.7M254.6,182.2h0.7M267.2,178.9h0.7M269.8,192.1h0.7M267.7,184.0h0.7M262.5,177.6h0.7M273.3,180.1h0.7M257.0,191.3h0.7M269.4,179.2h0.7M264.0,183.8h0.7M268.1,172.5h0.7M255.1,174.9h0.7M263.4,178.5h0.7M265.2,191.8h0.7M266.0,177.5h0.7M261.6,184.0h0.7M263.8,186.2h0.7M270.9,183.4h0.7M271.8,184.8h0.7M254.7,182.3h0.7M261.7,186.2h0.7M275.0,174.6h0.7M262.1,178.5h0.7M263.7,186.6h0.7M273.9,173.6h0.7M263.2,189.0h0.7M256.4,185.8h0.7M265.6,189.6h0.7M265.3,170.4h0.7M254.5,182.5h0.7M259.7,179.9h0.7M270.6,176.1h0.7M263.0,187.0h0.7M260.2,178.5h0.7M267.1,177.5h0.7M255.0,182.9h0.7M269.9,181.2h0.7M266.3,181.2h0.7M269.8,183.1h0.7M263.7,185.7h0.7M265.5,182.6h0.7M259.2,182.8h0.7M259.2,188.6h0.7M261.6,186.3h0.7M258.0,184.7h0.7M250.8,178.6h0.7M270.5,183.2h0.7M260.4,178.2h0.7M250.8,174.8h0.7M273.4,179.4h0.7M267.3,185.0h0.7M255.8,182.6h0.7M262.4,176.2h0.7M262.9,181.9h0.7M263.2,179.7h0.7M258.1,181.7h0.7M254.9,186.6h0.7M264.0,181.6h0.7M259.4,183.5h0.7M261.8,179.2h0.7M266.2,190.6h0.7M275.9,185.0h0.7M264.5,183.4h0.7M256.1,182.6h0.7M258.3,178.7h0.7M261.4,182.8h0.7M262.5,182.2h0.7M256.0,181.0h0.7M250.5,184.2h0.7M264.1,180.4h0.7M258.4,178.7h0.7M272.1,178.5h0.7M253.2,178.0h0.7M262.2,180.1h0.7M261.1,183.3h0.7M271.1,191.4h0.7M257.8,180.5h0.7M260.0,187.0h0.7M273.1,186.7h0.7M260.3,183.2h0.7M254.8,181.5h0.7M262.4,178.1h0.7M262.6,187.9h0.7M259.0,183.5h0.7M260.7,172.0h0.7M267.0,175.6h0.7M262.8,184.2h0.7M264.4,187.9h0.7M263.9,187.2h0.7M265.7,175.6h0.7M263.1,184.4h0.7M264.3,182.1h0.7M261.2,189.9h0.7M265.3,177.7h0.7M270.6,183.8h0.7M263.2,181.7h0.7M257.8,188.0h0.7M265.9,175.1h0.7M267.7,189.8h0.7M253.2,178.2h0.7M251.4,176.6h0.7M263.2,182.7h0.7M267.4,186.5h0.7M258.9,171.0h0.7M262.9,182.0h0.7M254.4,186.9h0.7M257.4,184.4h0.7M265.2,189.5h0.7M258.3,187.0h0.7M272.6,180.2h0.7M261.2,190.1h0.7M259.1,182.7h0.7M268.5,185.6h0.7M260.0,185.6h0.7M261.1,178.2h0.7M254.1,183.8h0.7M274.6,182.5h0.7M261.5,185.0h0.7M257.2,181.7h0.7M265.4,182.5h0.7M268.3,183.2h0.7M259.8,185.0h0.7M268.1,190.6h0.7M253.5,178.9h0.7M273.6,183.7h0.7M257.9,177.8h0.7M257.5,187.4h0.7M250.3,177.3h0.7M264.8,182.8h0.7M257.9,179.1h0.7M256.0,179.6h0.7M274.7,184.0h0.7M264.4,186.2h0.7M261.4,170.9h0.7M272.0,173.0h0.7M259.8,185.3h0.7M256.2,176.4h0.7M260.7,178.6h0.7M255.3,179.8h0.7M266.4,179.1h0.7M252.5,180.1h0.7M258.6,173.5h0.7M261.9,179.3h0.7M263.9,181.7h0.7M261.3,177.8h0.7M267.4,184.8h0.7M265.6,184.3h0.7M274.5,180.1h0.7M256.4,186.3h0.7M257.0,179.5h0.7M267.0,186.0h0.7M272.1,171.5h0.7M252.2,176.4h0.7M251.3,186.3h0.7M267.6,172.0h0.7M265.0,187.7h0.7M270.3,185.0h0.7M252.8,183.1h0.7M255.7,181.1h0.7M265.9,185.4h0.7M263.1,178.1h0.7M275.1,179.9h0.7M261.3,187.5h0.7M262.3,181.4h0.7M262.9,176.9h0.7M261.6,181.4h0.7M260.6,180.6h0.7M259.9,188.7h0.7M257.6,178.5h0.7M261.7,186.8h0.7M260.4,185.4h0.7M262.1,187.9h0.7M262.2,172.7h0.7M254.4,189.8h0.7M266.6,174.3h0.7M270.0,178.4h0.7M266.1,179.3h0.7M252.9,181.7h0.7M259.6,181.6h0.7M261.5,189.1h0.7M254.7,187.8h0.7M261.1,175.7h0.7M267.1,186.0h0.7M267.4,180.0h0.7M272.1,186.6h0.7M258.9,184.5h0.7M257.5,180.7h0.7M269.3,182.3h0.7M266.9,179.9h0.7M256.2,177.2h0.7M253.4,180.7h0.7M262.8,184.8h0.7M272.1,184.6h0.7M269.0,190.7h0.7M258.4,178.6h0.7M264.4,180.7h0.7M265.6,190.5h0.7M251.5,189.9h0.7M261.9,182.0h0.7M251.4,184.3h0.7M260.7,179.9h0.7M262.3,176.2h0.7M261.8,181.5h0.7M258.1,183.8h0.7M263.5,181.5h0.7M268.1,182.7h0.7M263.9,179.0h0.7M256.9,174.0h0.7M256.3,179.2h0.7M261.9,179.5h0.7M260.4,191.9h0.7M263.2,185.8h0.7M267.7,186.7h0.7M265.5,180.8h0.7M268.9,185.0h0.7M259.3,188.0h0.7M259.7,184.9h0.7M262.3,186.0h0.7M260.7,185.1h0.7M254.9,185.6h0.7M264.1,190.5h0.7M264.9,187.8h0.7M252.9,190.1h0.7M269.7,181.1h0.7M256.2,185.0h0.7M259.1,179.9h0.7M267.3,182.9h0.7M256.2,180.1h0.7M266.6,187.4h0.7M262.1,185.3h0.7M256.3,173.0h0.7M268.0,186.2h0.7M254.9,193.8h0.7M267.0,180.8h0.7M265.8,181.3h0.7M261.9,193.8h0.7M252.2,192.3h0.7M253.3,178.7h0.7M272.0,178.1h0.7M258.7,186.7h0.7M258.9,185.0h0.7M257.2,189.0h0.7M259.9,182.7h0.7M266.0,175.2h0.7M269.9,178.7h0.7M255.2,189.5h0.7M259.2,175.7h0.7M256.6,179.1h0.7M261.7,183.3h0.7M254.3,184.4h0.7M269.5,192.3h0.7M267.3,179.7h0.7M263.9,183.5h0.7M254.0,175.8h0.7M250.9,185.8h0.7M262.1,186.5h0.7M262.2,183.0h0.7M263.9,183.7h0.7M258.3,178.4h0.7M260.3,181.7h0.7M269.5,184.1h0.7M266.2,181.1h0.7M269.5,188.7h0.7M262.2,176.0h0.7M261.1,177.5h0.7M262.8,186.4h0.7M260.3,188.4h0.7M262.1,172.9h0.7M259.6,179.2h0.7M260.7,178.4h0.7M266.9,186.0h0.7M269.1,181.8h0.7M256.7,174.2h0.7M259.2,179.7h0.7M256.0,175.8h0.7M261.5,184.5h0.7M272.1,184.7h0.7M263.2,181.5h0.7M251.5,186.7h0.7M269.3,175.2h0.7M265.5,185.9h0.7M268.5,183.7h0.7M261.8,178.1h0.7M267.4,181.3h0.7M253.2,182.3h0.7M251.0,181.0h0.7M269.9,173.1h0.7M271.5,179.4h0.7M258.1,183.5h0.7M262.3,187.9h0.7M262.5,176.3h0.7M267.5,183.3h0.7M257.8,181.1h0.7M266.6,179.2h0.7M273.8,189.2h0.7M257.4,182.8h0.7M269.1,185.4h0.7M267.6,180.3h0.7M253.0,189.6h0.7M254.7,175.1h0.7M275.9,182.1h0.7M268.9,181.7h0.7M263.3,179.6h0.7M261.8,193.2h0.7M263.2,186.8h0.7M260.4,184.6h0.7M264.4,180.8h0.7M268.1,180.6h0.7M258.7,178.1h0.7M259.5,188.5h0.7M271.0,179.0h0.7M264.5,188.7h0.7M250.2,188.9h0.7M256.7,180.7h0.7M258.7,171.0h0.7M266.1,185.9h0.7M266.5,180.0h0.7M255.8,176.3h0.7M259.9,181.3h0.7M259.7,193.8h0.7M262.8,177.0h0.7M262.6,185.4h0.7M268.7,177.0h0.7M265.4,177.4h0.7M258.0,178.6h0.7M266.1,186.7h0.7M264.3,187.4h0.7M259.5,184.5h0.7M256.9,191.9h0.7M272.1,175.0h0.7M263.5,187.4h0.7M259.9,179.3h0.7M252.8,187.5h0.7M265.8,181.2h0.7M253.8,181.8h0.7M274.9,182.9h0.7M265.4,177.8h0.7M262.3,173.4h0.7M258.9,183.3h0.7M264.4,193.8h0.7M254.4,188.9h0.7M272.8,186.5h0.7M260.5,189.3h0.7M259.2,189.9h0.7M264.2,187.0h0.7M269.8,177.6h0.7M264.6,183.4h0.7M258.9,180.5h0.7M268.9,184.5h0.7M260.1,187.5h0.7M251.8,182.8h0.7M270.6,191.7h0.7M273.0,186.3h0.7M255.4,184.9h0.7M255.9,179.5h0.7M254.7,178.4h0.7M261.0,194.0h0.7M258.9,178.3h0.7M267.4,181.1h0.7M264.0,178.2h0.7M269.9,180.1h0.7M269.8,182.4h0.7M255.0,180.8h0.7M266.1,182.1h0.7M263.0,186.4h0.7M261.4,188.7h0.7M264.5,175.6h0.7M257.0,181.7h0.7M256.4,183.8h0.7M257.4,184.4h0.7M270.6,181.0h0.7M250.5,176.5h0.7M268.6,170.1h0.7M260.6,189.4h0.7M267.5,178.8h0.7M264.1,180.8h0.7M266.2,183.7h0.7M259.4,185.2h0.7M261.4,188.1h0.7M256.9,179.7h0.7M273.1,180.7h0.7M273.2,179.9h0.7M269.4,179.6h0.7M263.4,181.8h0.7M259.6,174.6h0.7M271.5,188.3h0.7M251.5,190.0h0.7M269.5,181.7h0.7M266.1,181.8h0.7M264.7,191.9h0.7M262.6,177.8h0.7M255.7,184.7h0.7M261.7,180.6h0.7M252.2,179.1h0.7M261.6,180.2h0.7M262.2,185.7h0.7M252.4,185.0h0.7M255.4,181.2h0.7M250.3,186.5h0.7M273.3,180.0h0.7M261.4,183.6h0.7M261.1,181.4h0.7M262.4,184.4h0.7M262.2,183.2h0.7M263.0,181.5h0.7M270.3,175.2h0.7M273.8,179.1h0.7M259.4,189.9h0.7M269.8,185.4h0.7M263.0,180.3h0.7M270.0,192.1h0.7M257.7,183.1h0.7M257.3,185.1h0.7M275.0,182.9h0.7M253.8,185.5h0.7M253.3,171.6h0.7M266.4,176.5h0.7M255.4,187.0h0.7M262.8,184.9h0.7M257.7,170.0h0.7M264.4,180.6h0.7M260.2,174.3h0.7M261.7,177.0h0.7M266.3,185.6h0.7M269.9,186.1h0.7M259.1,190.1h0.7M254.7,182.1h0.7M267.2,183.9h0.7M259.1,177.3h0.7M263.6,184.1h0.7M260.9,181.7h0.7M254.8,179.8h0.7M259.0,180.9h0.7M264.0,179.5h0.7M259.6,174.4h0.7M268.0,176.8h0.7M255.2,177.0h0.7M259.2,185.2h0.7M263.3,191.8h0.7M254.3,180.9h0.7M273.8,180.4h0.7M257.0,175.5h0.7M265.3,187.9h0.7M265.5,190.4h0.7M257.3,180.5h0.7M267.8,177.8h0.7M261.3,185.5h0.7M258.7,181.6h0.7M254.1,180.0h0.7M252.9,188.4h0.7M262.5,190.6h0.7M254.7,183.2h0.7M258.7,184.2h0.7M261.2,182.8h0.7M254.6,186.0h0.7M265.1,186.1h0.7M262.0,184.7h0.7M261.8,177.7h0.7M266.7,181.3h0.7M260.8,182.8h0.7M266.0,181.8h0.7M271.4,176.0h0.7M262.9,171.5h0.7M270.0,180.4h0.7M259.3,176.5h0.7M257.9,185.9h0.7M270.8,174.6h0.7M259.6,186.9h0.7M255.0,181.5h0.7M266.0,187.9h0.7M259.9,189.3h0.7M250.8,182.7h0.7M263.6,180.3h0.7M272.6,191.4h0.7M266.3,179.5h0.7M259.1,179.6h0.7M254.3,184.2h0.7M261.1,177.1h0.7M255.5,181.4h0.7M261.3,183.7h0.7M254.5,188.5h0.7M268.1,180.1h0.7M263.9,179.7h0.7M254.4,174.3h0.7M269.1,170.4h0.7M273.0,176.6h0.7M266.8,188.8h0.7M264.0,173.9h0.7M255.9,172.4h0.7M268.3,193.9h0.7M268.1,180.4h0.7M256.7,187.9h0.7M260.1,181.8h0.7M265.5,178.0h0.7M253.7,176.4h0.7M268.8,181.3h0.7M250.4,174.4h0.7M260.1,178.0h0.7M262.2,188.9h0.7M257.5,178.0h0.7M262.1,180.0h0.7M256.8,183.6h0.7M261.4,175.8h0.7M263.3,185.8h0.7M261.3,184.9h0.7M265.7,185.5h0.7M270.0,180.9h0.7M271.4,183.1h0.7M259.7,176.0h0.7M260.7,182.5h0.7M261.7,177.9h0.7M258.1,174.6h0.7M256.5,176.7h0.7M261.1,180.1h0.7M266.1,189.7h0.7M265.2,182.5h0.7M254.1,173.7h0.7M254.6,184.3h0.7M271.6,181.8h0.7M256.2,184.1h0.7M269.8,184.8h0.7M269.3,184.9h0.7M253.1,182.3h0.7M260.6,179.0h0.7M267.3,184.5h0.7M266.4,177.8h0.7M260.9,178.3h0.7M266.9,177.0h0.7M257.8,176.1h0.7M264.5,185.3h0.7M266.4,188.3h0.7M268.6,184.7h0.7M272.0,177.4h0.7M267.8,185.6h0.7M274.0,172.1h0.7M267.7,181.6h0.7M267.4,184.6h0.7M256.1,176.2h0.7M253.5,182.4h0.7M264.4,182.2h0.7M262.6,183.5h0.7M266.2,180.5h0.7M260.4,188.3h0.7M261.2,176.7h0.7M266.6,187.5h0.7M263.2,178.4h0.7M264.5,177.0h0.7M266.2,182.0h0.7M258.2,184.3h0.7M270.5,185.5h0.7M262.4,181.3h0.7M250.8,183.6h0.7M269.4,187.5h0.7M261.2,189.8h0.7M261.7,181.9h0.7M261.4,179.4h0.7M270.6,177.8h0.7M263.7,182.3h0.7M262.2,189.0h0.7M262.6,190.2h0.7M267.8,183.2h0.7M269.6,187.6h0.7M262.9,178.3h0.7M251.3,184.0h0.7M263.6,179.2h0.7M264.7,187.4h0.7M274.2,183.8h0.7M267.0,188.7h0.7M250.9,183.4h0.7M259.0,187.5h0.7M261.2,180.2h0.7M254.6,183.0h0.7M255.5,180.6h0.7M260.5,185.9h0.7M266.2,175.0h0.7M263.6,176.3h0.7M270.2,180.2h0.7M267.8,176.8h0.7M253.1,178.7h0.7M266.1,177.3h0.7M275.2,184.1h0.7M267.8,183.8h0.7M254.6,186.4h0.7M268.3,187.2h0.7M260.0,171.4h0.7M257.3,186.5h0.7M264.6,177.2h0.7M259.4,183.3h0.7M262.7,179.8h0.7M258.5,182.5h0.7M259.3,178.7h0.7M260.6,180.1h0.7M267.3,180.1h0.7M256.1,170.9h0.7M269.2,178.6h0.7M255.4,174.8h0.7M268.9,180.1h0.7M264.4,186.1h0.7M267.4,182.8h0.7M273.2,180.4h0.7M259.8,186.3h0.7M267.6,188.2h0.7M261.9,185.5h0.7M264.7,191.2h0.7M260.6,186.7h0.7M273.2,187.3h0.7M269.2,176.8h0.7M258.7,189.4h0.7M259.2,172.7h0.7M263.1,189.1h0.7M257.1,178.6h0.7M256.9,183.8h0.7M260.4,193.2h0.7M267.6,190.0h0.7M266.2,185.3h0.7M275.8,186.0h0.7M263.1,184.1h0.7M270.8,186.3h0.7M271.1,182.3h0.7M255.7,176.1h0.7M266.6,188.2h0.7M254.5,179.9h0.7M262.6,187.0h0.7M261.6,180.3h0.7M270.1,179.9h0.7M262.7,178.8h0.7M262.8,183.4h0.7M255.3,175.9h0.7M264.0,185.4h0.7M255.3,180.9h0.7M264.2,182.8h0.7M259.1,175.7h0.7M265.7,187.2h0.7M256.8,179.0h0.7M267.9,183.6h0.7M263.2,179.8h0.7M267.9,174.2h0.7M263.7,184.5h0.7M262.2,180.6h0.7M269.7,175.0h0.7M262.0,179.9h0.7M263.9,178.6h0.7M270.5,175.8h0.7M269.2,184.1h0.7M265.1,180.6h0.7M255.0,187.1h0.7M271.4,175.1h0.7M263.6,186.1h0.7M258.5,184.5h0.7M261.0,173.3h0.7M256.5,181.5h0.7M269.0,185.6h0.7M256.3,180.7h0.7M256.5,187.4h0.7M259.4,180.6h0.7M268.2,184.1h0.7M266.3,175.6h0.7M260.0,171.9h0.7M257.8,176.7h0.7M258.6,175.8h0.7M262.5,181.7h0.7M256.2,185.3h0.7M266.9,175.9h0.7M259.6,178.2h0.7M269.8,182.8h0.7M265.1,179.7h0.7M264.2,182.1h0.7M267.1,184.6h0.7M268.9,185.8h0.7M264.3,184.7h0.7M268.4,186.2h0.7M267.4,173.4h0.7M265.4,182.3h0.7M264.9,186.6h0.7M264.5,183.1h0.7M270.2,179.6h0.7M257.1,180.5h0.7M272.6,184.8h0.7M252.8,177.5h0.7M262.0,178.0h0.7M275.9,176.9h0.7M254.6,182.0h0.7M255.3,177.2h0.7M259.0,179.0h0.7M268.9,188.0h0.7M261.2,173.8h0.7M256.3,182.2h0.7M266.8,174.4h0.7M263.9,178.1h0.7M253.9,185.3h0.7M258.2,187.1h0.7M270.9,178.0h0.7M272.6,175.6h0.7M255.3,181.5h0.7M271.7,173.6h0.7M271.4,178.5h0.7M268.7,180.4h0.7M269.5,178.3h0.7M260.6,178.2h0.7M256.3,184.3h0.7M254.7,180.7h0.7M266.5,182.1h0.7M264.0,178.3h0.7M257.6,181.2h0.7M263.4,178.0h0.7M263.3,178.4h0.7M256.8,179.0h0.7M250.1,171.5h0.7M265.4,178.5h0.7M260.3,177.4h0.7M268.0,188.3h0.7M274.4,179.6h0.7M263.0,179.1h0.7M274.8,180.0h0.7M266.4,189.8h0.7M262.0,189.0h0.7M256.7,182.1h0.7M258.8,180.6h0.7M267.0,180.3h0.7M269.3,181.8h0.7M256.6,182.8h0.7M264.5,174.7h0.7M254.1,178.4h0.7M258.9,181.4h0.7M267.6,181.9h0.7M260.5,184.3h0.7M271.8,179.2h0.7M263.1,178.1h0.7M257.9,181.3h0.7M264.2,183.4h0.7M272.8,183.1h0.7M260.8,188.3h0.7M256.7,177.4h0.7M255.1,183.9h0.7M269.8,184.7h0.7M260.6,186.3h0.7M261.2,180.9h0.7M256.2,184.6h0.7M268.7,186.0h0.7M254.7,174.6h0.7M256.5,183.4h0.7M259.8,185.6h0.7M260.3,188.3h0.7M267.5,181.5h0.7M256.7,179.7h0.7M259.7,189.4h0.7M258.3,171.1h0.7M266.9,192.1h0.7M268.8,174.3h0.7M263.6,187.4h0.7M256.5,175.0h0.7M258.2,184.3h0.7M261.0,183.7h0.7M261.3,178.8h0.7M263.4,184.2h0.7M274.2,173.3h0.7M258.5,178.3h0.7M266.4,190.4h0.7M269.7,180.1h0.7M270.9,187.9h0.7M271.2,179.9h0.7M262.3,178.4h0.7M262.7,177.6h0.7M262.7,182.4h0.7M252.1,182.2h0.7M257.8,175.2h0.7M252.9,174.1h0.7M270.3,182.6h0.7M262.6,183.3h0.7M268.6,181.1h0.7M266.3,189.6h0.7M254.9,179.8h0.7M270.0,178.4h0.7M272.9,187.8h0.7M257.6,175.9h0.7M262.4,177.6h0.7M267.6,177.9h0.7M265.6,181.0h0.7M256.0,179.1h0.7M262.3,178.4h0.7M260.6,184.3h0.7M265.0,173.3h0.7M269.4,182.4h0.7M261.0,190.3h0.7M264.9,182.6h0.7M262.0,184.1h0.7M251.7,186.4h0.7M251.5,178.7h0.7M254.7,184.0h0.7M257.1,189.5h0.7M258.8,178.0h0.7M273.8,185.8h0.7M265.9,183.3h0.7M254.2,177.4h0.7M261.6,177.2h0.7M252.5,188.6h0.7M255.2,185.1h0.7M254.9,181.2h0.7M261.1,185.7h0.7M264.7,180.2h0.7M263.8,176.2h0.7M258.9,188.6h0.7M255.0,184.6h0.7M255.2,187.8h0.7M259.5,189.2h0.7M255.7,179.7h0.7M251.9,186.3h0.7M266.7,181.3h0.7M272.3,183.7h0.7M267.6,189.0h0.7M255.8,182.9h0.7M253.4,182.8h0.7M260.9,186.0h0.7M268.6,181.6h0.7M265.2,175.7h0.7M256.7,185.1h0.7M270.4,187.0h0.7M258.4,183.7h0.7M273.4,174.9h0.7M254.7,189.8h0.7M265.6,173.1h0.7M251.8,185.8h0.7M262.5,177.3h0.7M261.6,188.8h0.7M255.2,184.4h0.7M255.7,172.6h0.7M262.8,186.8h0.7M260.2,184.0h0.7M271.5,174.9h0.7M265.6,191.9h0.7M261.1,172.6h0.7M258.0,182.6h0.7M269.2,185.2h0.7M261.5,183.3h0.7M262.5,183.0h0.7M266.4,180.7h0.7M262.1,181.8h0.7M263.9,174.4h0.7M261.0,176.7h0.7M260.3,180.2h0.7M265.2,184.0h0.7M258.3,175.8h0.7M255.4,187.8h0.7M256.6,187.7h0.7M268.4,175.7h0.7M265.4,188.6h0.7M263.9,185.4h0.7M263.6,177.6h0.7M264.1,185.3h0.7M266.7,190.4h0.7M256.4,187.7h0.7M267.0,176.3h0.7M256.4,176.6h0.7M269.3,186.0h0.7M262.2,174.5h0.7M260.3,182.2h0.7M252.6,179.5h0.7M271.9,176.3h0.7M256.5,188.3h0.7M271.8,184.8h0.7M262.3,178.8h0.7M264.8,180.5h0.7M255.3,185.8h0.7M261.3,190.5h0.7M258.3,191.0h0.7M265.6,178.2h0.7M264.5,188.6h0.7M261.7,187.3h0.7M262.2,184.6h0.7M261.8,184.6h0.7M271.0,187.1h0.7M250.0,183.1h0.7M261.8,185.4h0.7M251.9,186.8h0.7M271.6,177.4h0.7M252.5,184.7h0.7M269.5,178.7h0.7M250.8,182.2h0.7M259.9,186.5h0.7M269.6,181.8h0.7M267.2,185.9h0.7M253.3,175.3h0.7M269.2,184.6h0.7M265.0,181.2h0.7M254.5,177.9h0.7M251.7,183.4h0.7M261.2,176.0h0.7M263.3,178.9h0.7M267.8,180.8h0.7M255.3,182.0h0.7M261.7,178.2h0.7M257.4,178.1h0.7M258.7,185.0h0.7M264.2,185.2h0.7M266.1,189.1h0.7M262.2,182.3h0.7M259.8,180.6h0.7M266.0,178.9h0.7M265.7,179.1h0.7M265.4,184.6h0.7M255.3,179.9h0.7M258.5,184.4h0.7M253.6,178.8h0.7M268.7,188.1h0.7M264.3,190.6h0.7M265.3,184.8h0.7M275.2,173.3h0.7M261.8,183.0h0.7M255.1,186.1h0.7M272.5,183.6h0.7M268.8,170.8h0.7M255.8,172.9h0.7M265.7,187.3h0.7M266.3,174.6h0.7M254.9,184.2h0.7M270.2,176.4h0.7M256.0,184.8h0.7M260.3,175.7h0.7M269.9,176.3h0.7M260.1,184.5h0.7M259.5,183.3h0.7M264.9,185.1h0.7M273.3,185.4h0.7M255.4,171.0h0.7M257.3,175.0h0.7M259.1,179.1h0.7M253.1,181.3h0.7M259.5,177.2h0.7M256.7,182.3h0.7M266.8,182.6h0.7M259.5,176.1h0.7M256.8,192.8h0.7M276.0,182.1h0.7M267.5,175.7h0.7M256.3,189.4h0.7M258.8,180.7h0.7M268.2,185.2h0.7M261.7,184.8h0.7M256.1,176.5h0.7M261.1,176.8h0.7M259.2,182.7h0.7M257.7,191.9h0.7M264.0,179.0h0.7M252.9,179.4h0.7M264.2,182.9h0.7M250.9,176.0h0.7M255.0,181.4h0.7M269.0,181.8h0.7M266.9,177.8h0.7M264.5,179.7h0.7M251.9,187.5h0.7M266.9,180.2h0.7M257.8,179.5h0.7M254.6,186.2h0.7M261.6,180.3h0.7M258.5,190.8h0.7M270.8,176.9h0.7M255.0,174.5h0.7M256.6,181.5h0.7M268.0,173.6h0.7M255.3,180.2h0.7M255.1,178.0h0.7M257.2,190.6h0.7M254.8,177.3h0.7M250.3,179.3h0.7M272.1,180.4h0.7M255.3,175.6h0.7M263.9,190.3h0.7M271.2,181.9h0.7M262.6,175.5h0.7M265.9,178.9h0.7M258.5,177.8h0.7M259.1,184.1h0.7M260.3,177.4h0.7M264.3,184.0h0.7M266.6,177.3h0.7M256.4,178.3h0.7M272.3,190.1h0.7M262.6,180.1h0.7M274.5,179.8h0.7M272.9,182.2h0.7M261.0,183.0h0.7M256.1,176.9h0.7M254.0,176.4h0.7M255.7,180.4h0.7M264.3,175.2h0.7M265.1,188.8h0.7M269.5,184.0h0.7M267.8,188.4h0.7M270.9,180.2h0.7M251.7,175.7h0.7M261.0,180.7h0.7M268.9,183.8h0.7M253.9,175.4h0.7M265.7,180.5h0.7M264.6,175.3h0.7M262.5,186.8h0.7M266.1,177.1h0.7M262.4,181.9h0.7M260.2,186.6h0.7M262.3,185.7h0.7M257.8,186.4h0.7M256.5,186.1h0.7M257.4,179.6h0.7M259.5,188.7h0.7M254.3,178.7h0.7M264.9,181.5h0.7M264.9,188.1h0.7M259.5,174.3h0.7M260.2,190.3h0.7M260.5,181.9h0.7M264.2,184.8h0.7M269.9,185.6h0.7M273.5,177.9h0.7M265.8,184.0h0.7M256.1,179.4h0.7M255.8,181.4h0.7M269.7,185.6h0.7M262.5,181.6h0.7M264.1,180.1h0.7M260.2,186.5h0.7M266.1,183.1h0.7M264.5,178.4h0.7M263.7,191.1h0.7M260.9,184.0h0.7M267.2,172.5h0.7M262.0,181.8h0.7M265.1,177.0h0.7M258.3,176.2h0.7M267.6,180.0h0.7M258.3,172.8h0.7M270.9,182.5h0.7M258.3,173.3h0.7M265.1,174.6h0.7M268.2,185.8h0.7M265.2,176.2h0.7M262.0,183.2h0.7M252.8,180.3h0.7M266.7,181.8h0.7M252.7,178.0h0.7M252.4,181.3h0.7M251.5,178.1h0.7M250.9,182.6h0.7M271.5,174.9h0.7M259.3,170.1h0.7M256.8,172.2h0.7M267.2,179.6h0.7M268.5,176.9h0.7M268.4,190.1h0.7M274.0,189.1h0.7M259.8,176.2h0.7M258.1,182.9h0.7M258.9,177.6h0.7M264.5,176.9h0.7M269.1,183.3h0.7M251.3,188.2h0.7M270.7,186.3h0.7M266.1,188.4h0.7M260.4,181.5h0.7M268.5,186.6h0.7M274.8,184.6h0.7M262.4,177.9h0.7M264.1,178.1h0.7M257.4,183.2h0.7M265.8,185.9h0.7M258.7,179.6h0.7M254.2,185.1h0.7M263.2,187.1h0.7M257.4,179.7h0.7M269.4,183.8h0.7M254.2,179.2h0.7M265.6,179.3h0.7M252.0,189.2h0.7M268.1,180.8h0.7M255.0,188.2h0.7M272.1,174.1h0.7M262.9,177.5h0.7M266.4,181.7h0.7M262.7,192.8h0.7M269.1,187.7h0.7M256.5,183.9h0.7M258.7,182.5h0.7M265.0,171.0h0.7M256.4,188.8h0.7M267.6,186.7h0.7M257.8,182.9h0.7M258.5,174.6h0.7M258.1,183.3h0.7" stroke="#2a3aa8" stroke-width="0.7" opacity="0.6"/>
<ellipse cx="262.0" cy="182.0" rx="10.0" ry="8.0" fill="#2f40ad" opacity="0.9" filter="url(#b1)"/>
<rect x="229.3" y="144.7" width="17.3" height="34.1" fill="none" stroke="#505050" stroke-width="1.0"/>
<rect x="250.0" y="170.1" width="25.6" height="23.0" fill="none" stroke="#505050" stroke-width="1.0"/>
<text stroke="#231f20" stroke-width="0.2" fill="#231f20" x="249.0" y="154.0" font-size="10" textLength="25.0" lengthAdjust="spacingAndGlyphs">cDC1</text>
<text stroke="#231f20" stroke-width="0.2" fill="#231f20" x="250.0" y="202.7" font-size="10" textLength="25.4" lengthAdjust="spacingAndGlyphs">cDC2</text>
<text stroke="#231f20" stroke-width="0.06" fill="#231f20" x="30.0" y="155.5" font-size="7.8">10<tspan font-size="4.68" dy="-3.51">5</tspan></text>
<text stroke="#231f20" stroke-width="0.06" fill="#231f20" x="30.0" y="169.5" font-size="7.8">10<tspan font-size="4.68" dy="-3.51">4</tspan></text>
<text stroke="#231f20" stroke-width="0.06" fill="#231f20" x="30.0" y="186.1" font-size="7.8">10<tspan font-size="4.68" dy="-3.51">3</tspan></text>
<text stroke="#231f20" stroke-width="0.06" fill="#231f20" x="32.8" y="198.8" font-size="7.8">0</text>
<text stroke="#231f20" stroke-width="0.06" fill="#231f20" x="211.6" y="150.2" font-size="8.0">10<tspan font-size="4.80" dy="-3.60">5</tspan></text>
<text stroke="#231f20" stroke-width="0.06" fill="#231f20" x="211.6" y="165.6" font-size="8.0">10<tspan font-size="4.80" dy="-3.60">4</tspan></text>
<text stroke="#231f20" stroke-width="0.06" fill="#231f20" x="211.6" y="181.5" font-size="8.0">10<tspan font-size="4.80" dy="-3.60">3</tspan></text>
<text stroke="#231f20" stroke-width="0.06" fill="#231f20" x="216.0" y="194.0" font-size="8.0">0</text>
<path d="M44.9,150.5h-1.8M44.9,165.0h-1.8M44.9,181.0h-1.8M44.9,194.0h-1.8" fill="none" stroke="#3c3c3c" stroke-width="0.8"/>
<path d="M44.9,140.0h-0.9M44.9,143.0h-0.9M44.9,145.9h-0.9M44.9,148.9h-0.9M44.9,151.8h-0.9M44.9,154.8h-0.9M44.9,157.7h-0.9M44.9,160.7h-0.9M44.9,163.6h-0.9M44.9,166.6h-0.9M44.9,169.5h-0.9M44.9,172.5h-0.9M44.9,175.4h-0.9M44.9,178.4h-0.9M44.9,181.3h-0.9M44.9,184.3h-0.9M44.9,187.2h-0.9M44.9,190.2h-0.9M44.9,193.1h-0.9M44.9,196.1h-0.9M44.9,199.0h-0.9M44.9,202.0h-0.9" fill="none" stroke="#555" stroke-width="0.6"/>
<path d="M119.5,150.5h-1.8M119.5,165.0h-1.8M119.5,181.0h-1.8M119.5,194.0h-1.8" fill="none" stroke="#3c3c3c" stroke-width="0.8"/>
<path d="M119.5,140.0h-0.9M119.5,143.0h-0.9M119.5,146.0h-0.9M119.5,149.0h-0.9M119.5,152.0h-0.9M119.5,155.0h-0.9M119.5,158.0h-0.9M119.5,161.0h-0.9M119.5,164.0h-0.9M119.5,167.0h-0.9M119.5,170.0h-0.9M119.5,173.0h-0.9M119.5,176.0h-0.9M119.5,179.0h-0.9M119.5,182.0h-0.9M119.5,185.0h-0.9M119.5,188.0h-0.9M119.5,191.0h-0.9M119.5,194.0h-0.9M119.5,197.0h-0.9M119.5,200.0h-0.9M119.5,203.0h-0.9" fill="none" stroke="#555" stroke-width="0.6"/>
<path d="M226.5,145.5h-1.8M226.5,161.0h-1.8M226.5,177.0h-1.8M226.5,190.0h-1.8" fill="none" stroke="#3c3c3c" stroke-width="0.8"/>
<path d="M226.5,140.0h-0.9M226.5,143.0h-0.9M226.5,145.9h-0.9M226.5,148.9h-0.9M226.5,151.8h-0.9M226.5,154.8h-0.9M226.5,157.7h-0.9M226.5,160.7h-0.9M226.5,163.6h-0.9M226.5,166.6h-0.9M226.5,169.5h-0.9M226.5,172.5h-0.9M226.5,175.4h-0.9M226.5,178.4h-0.9M226.5,181.3h-0.9M226.5,184.3h-0.9M226.5,187.2h-0.9M226.5,190.2h-0.9M226.5,193.1h-0.9M226.5,196.1h-0.9M226.5,199.0h-0.9M226.5,202.0h-0.9" fill="none" stroke="#555" stroke-width="0.6"/>
<text stroke="#231f20" stroke-width="0.06" fill="#231f20" x="40.0" y="214.6" font-size="7.5">−10<tspan font-size="4.50" dy="-3.38">3</tspan></text>
<text stroke="#231f20" stroke-width="0.06" fill="#231f20" x="57.6" y="214.6" font-size="7.5">0</text>
<text stroke="#231f20" stroke-width="0.06" fill="#231f20" x="68.5" y="214.6" font-size="7.5">10<tspan font-size="4.50" dy="-3.38">3</tspan></text>
<text stroke="#231f20" stroke-width="0.06" fill="#231f20" x="84.6" y="214.6" font-size="7.5">10<tspan font-size="4.50" dy="-3.38">4</tspan></text>
<text stroke="#231f20" stroke-width="0.06" fill="#231f20" x="100.8" y="214.6" font-size="7.5">10<tspan font-size="4.50" dy="-3.38">5</tspan></text>
<text stroke="#231f20" stroke-width="0.06" fill="#231f20" x="236.6" y="214.5" font-size="7.5">0</text>
<text stroke="#231f20" stroke-width="0.06" fill="#231f20" x="246.4" y="214.5" font-size="7.5">10<tspan font-size="4.50" dy="-3.38">3</tspan></text>
<text stroke="#231f20" stroke-width="0.06" fill="#231f20" x="262.8" y="214.5" font-size="7.5">10<tspan font-size="4.50" dy="-3.38">4</tspan></text>
<text stroke="#231f20" stroke-width="0.06" fill="#231f20" x="279.5" y="214.5" font-size="7.5">10<tspan font-size="4.50" dy="-3.38">5</tspan></text>
<path d="M47.0,203.5v0.9M49.7,203.5v0.9M52.5,203.5v0.9M55.2,203.5v0.9M58.0,203.5v0.9M60.7,203.5v0.9M63.4,203.5v0.9M66.2,203.5v0.9M68.9,203.5v0.9M71.7,203.5v0.9M74.4,203.5v0.9M77.1,203.5v0.9M79.9,203.5v0.9M82.6,203.5v0.9M85.3,203.5v0.9M88.1,203.5v0.9M90.8,203.5v0.9M93.6,203.5v0.9M96.3,203.5v0.9M99.0,203.5v0.9M101.8,203.5v0.9M104.5,203.5v0.9M107.3,203.5v0.9M110.0,203.5v0.9" fill="none" stroke="#555" stroke-width="0.6"/>
<path d="M121.0,204.6v0.9M123.7,204.6v0.9M126.5,204.6v0.9M129.2,204.6v0.9M132.0,204.6v0.9M134.7,204.6v0.9M137.4,204.6v0.9M140.2,204.6v0.9M142.9,204.6v0.9M145.7,204.6v0.9M148.4,204.6v0.9M151.1,204.6v0.9M153.9,204.6v0.9M156.6,204.6v0.9M159.3,204.6v0.9M162.1,204.6v0.9M164.8,204.6v0.9M167.6,204.6v0.9M170.3,204.6v0.9M173.0,204.6v0.9M175.8,204.6v0.9M178.5,204.6v0.9M181.3,204.6v0.9M184.0,204.6v0.9" fill="none" stroke="#555" stroke-width="0.6"/>
<path d="M228.0,204.2v0.9M230.7,204.2v0.9M233.5,204.2v0.9M236.2,204.2v0.9M239.0,204.2v0.9M241.7,204.2v0.9M244.4,204.2v0.9M247.2,204.2v0.9M249.9,204.2v0.9M252.7,204.2v0.9M255.4,204.2v0.9M258.1,204.2v0.9M260.9,204.2v0.9M263.6,204.2v0.9M266.3,204.2v0.9M269.1,204.2v0.9M271.8,204.2v0.9M274.6,204.2v0.9M277.3,204.2v0.9M280.0,204.2v0.9M282.8,204.2v0.9M285.5,204.2v0.9M288.3,204.2v0.9M291.0,204.2v0.9" fill="none" stroke="#555" stroke-width="0.6"/>
<line x1="57.5" y1="204.1" x2="61.0" y2="204.1" stroke="#111" stroke-width="1.4"/>
<line x1="44.6" y1="190.4" x2="44.6" y2="199.7" stroke="#222" stroke-width="1.3"/>
<line x1="119.2" y1="191.0" x2="119.2" y2="200.0" stroke="#222" stroke-width="1.3"/>
<line x1="226.2" y1="186.0" x2="226.2" y2="195.0" stroke="#222" stroke-width="1.3"/>
<line x1="132.0" y1="205.2" x2="136.0" y2="205.2" stroke="#111" stroke-width="1.4"/>
<line x1="238.5" y1="204.8" x2="242.0" y2="204.8" stroke="#111" stroke-width="1.4"/>
<text stroke="#231f20" stroke-width="0.2" fill="#231f20" x="27.0" y="196.0" font-size="10.3" textLength="29.3" lengthAdjust="spacingAndGlyphs" transform="rotate(-90 27.0 196.0)">MHCII</text>
<text stroke="#231f20" stroke-width="0.2" fill="#231f20" x="208.8" y="191.2" font-size="10" textLength="25.5" lengthAdjust="spacingAndGlyphs" transform="rotate(-90 208.8 191.2)">XCR1</text>
<text stroke="#231f20" stroke-width="0.2" fill="#231f20" x="96.0" y="226.6" font-size="10" textLength="31.0" lengthAdjust="spacingAndGlyphs">CD11c</text>
<text stroke="#231f20" stroke-width="0.2" fill="#231f20" x="245.9" y="224.6" font-size="10" textLength="23.1" lengthAdjust="spacingAndGlyphs">Sirpα</text>
<text stroke="#4a5aa5" stroke-width="0.06" x="90.8" y="245.4" font-size="8.2" fill="#4a5aa5" textLength="20.4" lengthAdjust="spacingAndGlyphs">2,722</text>
<text stroke="#231f20" stroke-width="0.06" fill="#231f20" x="90.8" y="255.8" font-size="8.2" textLength="20.4" lengthAdjust="spacingAndGlyphs">2,416</text>
<text stroke="#e0393f" stroke-width="0.06" x="90.8" y="264.6" font-size="8.2" fill="#e0393f" textLength="20.4" lengthAdjust="spacingAndGlyphs">3,055</text>
<path d="M61.5,271.2 L61.5,271.2 L64.0,268.0 L68.0,262.0 L72.0,255.0 L75.0,250.0 L76.5,246.0 L77.4,244.8 L78.2,247.0 L79.0,249.0 L81.0,254.0 L83.0,258.0 L85.0,262.0 L86.0,261.0 L87.0,259.0 L88.5,259.6 L90.0,261.0 L91.5,257.5 L92.5,258.3 L94.0,261.0 L96.0,265.0 L98.0,269.0 L99.2,271.2 L99.2,271.2 Z" fill="#2d33a0" fill-opacity="0.51" stroke="#2b318a" stroke-width="0.6" stroke-linejoin="round"/>
<path d="M62.9,288.1 L62.9,288.1 L66.0,286.5 L70.0,282.0 L73.0,276.0 L75.0,272.0 L76.5,268.5 L78.0,266.0 L79.5,264.5 L80.4,264.3 L82.0,264.8 L83.0,267.0 L84.0,271.0 L86.0,278.0 L88.0,284.0 L90.0,286.8 L93.0,287.7 L96.5,288.1 L96.5,288.1 Z" fill="#000000" fill-opacity="0.41" stroke="#111111" stroke-width="0.6" stroke-linejoin="round"/>
<path d="M64.2,305.3 L64.2,305.3 L64.8,295.0 L65.6,288.0 L67.0,284.0 L68.5,281.0 L70.0,278.5 L71.0,278.0 L72.0,280.0 L73.0,283.0 L74.5,285.0 L76.0,287.5 L78.0,289.0 L80.0,289.5 L83.0,290.0 L85.0,292.0 L87.0,294.0 L90.0,296.0 L92.0,295.0 L95.0,297.5 L97.0,297.0 L99.0,295.0 L101.5,293.0 L102.5,294.0 L103.5,297.0 L104.5,301.0 L105.2,305.3 L105.2,305.3 Z" fill="#e8202a" fill-opacity="0.52" stroke="#d02028" stroke-width="0.6" stroke-linejoin="round"/>
<line x1="45.1" y1="271.2" x2="112.9" y2="271.2" stroke="#6670b0" stroke-width="0.75"/>
<line x1="45.1" y1="288.1" x2="112.9" y2="288.1" stroke="#333" stroke-width="0.8"/>
<line x1="61.8" y1="237.0" x2="61.8" y2="305.3" stroke="#333" stroke-width="0.9"/>
<rect x="45.1" y="237.0" width="67.8" height="68.3" fill="none" stroke="#505050" stroke-width="0.9"/>
<path d="M47.1,305.3v0.9M49.9,305.3v0.9M52.6,305.3v0.9M55.4,305.3v0.9M58.2,305.3v0.9M61.0,305.3v0.9M63.7,305.3v0.9M66.5,305.3v0.9M69.3,305.3v0.9M72.1,305.3v0.9M74.8,305.3v0.9M77.6,305.3v0.9M80.4,305.3v0.9M83.2,305.3v0.9M85.9,305.3v0.9M88.7,305.3v0.9M91.5,305.3v0.9M94.3,305.3v0.9M97.0,305.3v0.9M99.8,305.3v0.9M102.6,305.3v0.9M105.4,305.3v0.9M108.1,305.3v0.9M110.9,305.3v0.9" fill="none" stroke="#555" stroke-width="0.6"/>
<text stroke="#4a5aa5" stroke-width="0.06" x="168.6" y="245.0" font-size="8.2" fill="#4a5aa5" textLength="20.4" lengthAdjust="spacingAndGlyphs">4,570</text>
<text stroke="#231f20" stroke-width="0.06" fill="#231f20" x="168.6" y="255.8" font-size="8.2" textLength="20.4" lengthAdjust="spacingAndGlyphs">9,087</text>
<text stroke="#e0393f" stroke-width="0.06" x="168.6" y="265.0" font-size="8.2" fill="#e0393f" textLength="20.4" lengthAdjust="spacingAndGlyphs">3,851</text>
<path d="M149.5,272.5 L149.5,272.5 L152.0,270.0 L155.0,265.0 L158.0,258.0 L160.0,252.0 L161.5,248.0 L162.6,246.9 L163.5,247.5 L164.5,249.0 L166.0,256.0 L168.0,264.0 L170.0,269.0 L172.6,272.5 L172.6,272.5 Z" fill="#2d33a0" fill-opacity="0.51" stroke="#2b318a" stroke-width="0.6" stroke-linejoin="round"/>
<path d="M155.0,289.2 L155.0,289.2 L158.0,288.3 L161.0,286.5 L163.0,284.0 L164.5,279.0 L166.0,270.0 L167.5,265.8 L168.5,266.5 L169.5,269.0 L171.0,277.0 L172.5,284.0 L174.0,287.5 L175.7,289.2 L175.7,289.2 Z" fill="#000000" fill-opacity="0.41" stroke="#111111" stroke-width="0.6" stroke-linejoin="round"/>
<path d="M143.4,305.5 L143.4,305.5 L145.0,298.0 L147.0,291.0 L149.0,284.5 L150.5,281.0 L151.8,280.5 L153.0,281.0 L154.0,282.0 L155.0,285.0 L156.0,288.0 L158.0,290.0 L160.0,291.0 L162.0,289.5 L163.0,289.0 L164.5,290.5 L166.0,292.0 L168.0,292.5 L169.0,292.0 L171.0,295.0 L172.0,294.5 L174.0,294.0 L175.0,295.5 L178.0,297.5 L181.0,298.5 L184.0,300.5 L187.0,302.5 L189.5,305.5 L189.5,305.5 Z" fill="#e8202a" fill-opacity="0.52" stroke="#d02028" stroke-width="0.6" stroke-linejoin="round"/>
<line x1="122.9" y1="272.5" x2="190.3" y2="272.5" stroke="#6670b0" stroke-width="0.75"/>
<line x1="122.9" y1="289.2" x2="190.3" y2="289.2" stroke="#333" stroke-width="0.8"/>
<line x1="140.3" y1="238.3" x2="140.3" y2="305.5" stroke="#333" stroke-width="0.9"/>
<rect x="122.9" y="238.3" width="67.4" height="67.2" fill="none" stroke="#505050" stroke-width="0.9"/>
<path d="M124.9,305.5v0.9M127.7,305.5v0.9M130.4,305.5v0.9M133.2,305.5v0.9M135.9,305.5v0.9M138.7,305.5v0.9M141.4,305.5v0.9M144.2,305.5v0.9M147.0,305.5v0.9M149.7,305.5v0.9M152.5,305.5v0.9M155.2,305.5v0.9M158.0,305.5v0.9M160.7,305.5v0.9M163.5,305.5v0.9M166.2,305.5v0.9M169.0,305.5v0.9M171.8,305.5v0.9M174.5,305.5v0.9M177.3,305.5v0.9M180.0,305.5v0.9M182.8,305.5v0.9M185.5,305.5v0.9M188.3,305.5v0.9" fill="none" stroke="#555" stroke-width="0.6"/>
<text stroke="#4a5aa5" stroke-width="0.06" x="247.0" y="245.3" font-size="8.2" fill="#4a5aa5" textLength="14.0" lengthAdjust="spacingAndGlyphs">577</text>
<text stroke="#231f20" stroke-width="0.06" fill="#231f20" x="247.0" y="255.8" font-size="8.2" textLength="21.0" lengthAdjust="spacingAndGlyphs">3,376</text>
<text stroke="#e0393f" stroke-width="0.06" x="247.3" y="264.6" font-size="8.2" fill="#e0393f" textLength="19.7" lengthAdjust="spacingAndGlyphs">1,641</text>
<path d="M215.0,270.5 L215.0,270.5 L216.5,262.0 L218.0,250.0 L219.2,244.3 L220.3,249.0 L221.2,247.0 L222.0,248.5 L223.0,247.8 L224.0,251.0 L225.0,250.0 L226.0,249.5 L227.0,254.0 L228.0,256.0 L230.0,258.0 L232.0,262.0 L235.0,265.0 L238.0,268.0 L241.0,270.5 L241.0,270.5 Z" fill="#2d33a0" fill-opacity="0.51" stroke="#2b318a" stroke-width="0.6" stroke-linejoin="round"/>
<path d="M213.5,287.4 L213.5,287.4 L216.0,286.5 L218.0,286.0 L220.0,284.8 L222.0,286.3 L224.0,285.5 L226.0,283.0 L227.5,278.0 L228.5,271.0 L230.0,266.5 L232.0,266.0 L233.0,264.5 L235.0,265.5 L236.0,264.0 L238.0,265.5 L239.5,264.8 L241.0,266.5 L243.0,267.0 L245.0,269.5 L247.0,272.0 L249.0,275.0 L251.0,278.0 L253.0,281.0 L255.0,285.0 L256.5,287.4 L256.5,287.4 Z" fill="#000000" fill-opacity="0.41" stroke="#111111" stroke-width="0.6" stroke-linejoin="round"/>
<path d="M218.8,304.3 L218.8,304.3 L221.0,300.0 L223.0,295.0 L225.0,290.0 L227.0,286.0 L228.5,283.5 L230.0,281.0 L231.0,280.0 L232.5,281.5 L233.5,280.0 L234.5,278.0 L235.8,276.6 L237.0,278.0 L238.0,281.0 L239.0,284.0 L240.0,287.0 L242.0,293.0 L244.0,298.0 L246.0,302.0 L248.0,304.3 L248.0,304.3 Z" fill="#e8202a" fill-opacity="0.52" stroke="#d02028" stroke-width="0.6" stroke-linejoin="round"/>
<line x1="200.4" y1="270.5" x2="268.1" y2="270.5" stroke="#6670b0" stroke-width="0.75"/>
<line x1="200.4" y1="287.4" x2="268.1" y2="287.4" stroke="#333" stroke-width="0.8"/>
<line x1="228.8" y1="236.7" x2="228.8" y2="304.3" stroke="#333" stroke-width="0.9"/>
<rect x="200.4" y="236.7" width="67.7" height="67.6" fill="none" stroke="#505050" stroke-width="0.9"/>
<path d="M202.4,304.3v0.9M205.2,304.3v0.9M207.9,304.3v0.9M210.7,304.3v0.9M213.5,304.3v0.9M216.2,304.3v0.9M219.0,304.3v0.9M221.8,304.3v0.9M224.6,304.3v0.9M227.3,304.3v0.9M230.1,304.3v0.9M232.9,304.3v0.9M235.6,304.3v0.9M238.4,304.3v0.9M241.2,304.3v0.9M243.9,304.3v0.9M246.7,304.3v0.9M249.5,304.3v0.9M252.3,304.3v0.9M255.0,304.3v0.9M257.8,304.3v0.9M260.6,304.3v0.9M263.3,304.3v0.9M266.1,304.3v0.9" fill="none" stroke="#555" stroke-width="0.6"/>
<text stroke="#4a5aa5" stroke-width="0.06" x="323.5" y="245.5" font-size="8.2" fill="#4a5aa5" textLength="20.5" lengthAdjust="spacingAndGlyphs">2,017</text>
<text stroke="#231f20" stroke-width="0.06" fill="#231f20" x="327.0" y="255.8" font-size="8.2" textLength="12.7" lengthAdjust="spacingAndGlyphs">120</text>
<text stroke="#e0393f" stroke-width="0.06" x="323.5" y="265.0" font-size="8.2" fill="#e0393f" textLength="20.5" lengthAdjust="spacingAndGlyphs">3,055</text>
<path d="M301.2,269.7 L301.2,269.7 L304.0,262.0 L306.0,255.0 L307.5,250.0 L309.0,247.0 L310.2,244.0 L311.2,242.5 L312.2,245.0 L313.0,248.0 L314.0,247.0 L315.8,249.0 L317.0,257.0 L319.0,265.0 L320.5,268.0 L322.8,269.7 L322.8,269.7 Z" fill="#2d33a0" fill-opacity="0.51" stroke="#2b318a" stroke-width="0.6" stroke-linejoin="round"/>
<path d="M288.5,286.9 L288.5,286.9 L289.5,280.0 L290.5,270.0 L291.5,263.0 L292.0,261.2 L292.7,264.0 L293.5,272.0 L294.5,278.0 L296.0,282.0 L299.0,285.0 L303.0,286.9 L303.0,286.9 Z" fill="#000000" fill-opacity="0.41" stroke="#111111" stroke-width="0.6" stroke-linejoin="round"/>
<path d="M295.0,304.0 L295.0,304.0 L298.0,302.5 L301.0,301.0 L305.0,298.5 L307.0,296.0 L309.0,292.0 L310.5,286.0 L311.5,279.0 L312.8,273.2 L313.5,275.5 L314.5,278.0 L316.0,285.0 L318.0,290.0 L320.0,294.0 L322.0,298.0 L324.0,301.0 L327.4,304.0 L327.4,304.0 Z" fill="#e8202a" fill-opacity="0.52" stroke="#d02028" stroke-width="0.6" stroke-linejoin="round"/>
<line x1="278.2" y1="269.7" x2="345.8" y2="269.7" stroke="#6670b0" stroke-width="0.75"/>
<line x1="278.2" y1="286.9" x2="345.8" y2="286.9" stroke="#333" stroke-width="0.8"/>
<line x1="295.8" y1="235.9" x2="295.8" y2="304.0" stroke="#333" stroke-width="0.9"/>
<rect x="278.2" y="235.9" width="67.6" height="68.1" fill="none" stroke="#505050" stroke-width="0.9"/>
<path d="M280.2,304.0v0.9M283.0,304.0v0.9M285.7,304.0v0.9M288.5,304.0v0.9M291.3,304.0v0.9M294.0,304.0v0.9M296.8,304.0v0.9M299.6,304.0v0.9M302.3,304.0v0.9M305.1,304.0v0.9M307.9,304.0v0.9M310.6,304.0v0.9M313.4,304.0v0.9M316.1,304.0v0.9M318.9,304.0v0.9M321.7,304.0v0.9M324.4,304.0v0.9M327.2,304.0v0.9M330.0,304.0v0.9M332.7,304.0v0.9M335.5,304.0v0.9M338.3,304.0v0.9M341.0,304.0v0.9M343.8,304.0v0.9" fill="none" stroke="#555" stroke-width="0.6"/>
<text stroke="#4a5aa5" stroke-width="0.06" x="398.9" y="243.5" font-size="8.2" fill="#4a5aa5" textLength="14.1" lengthAdjust="spacingAndGlyphs">375</text>
<text stroke="#231f20" stroke-width="0.06" fill="#231f20" x="402.0" y="253.5" font-size="8.2" textLength="8.3" lengthAdjust="spacingAndGlyphs">65</text>
<text stroke="#e0393f" stroke-width="0.06" x="399.0" y="262.0" font-size="8.2" fill="#e0393f" textLength="14.0" lengthAdjust="spacingAndGlyphs">464</text>
<path d="M368.0,269.2 L368.0,269.2 L369.5,262.0 L370.5,247.0 L371.5,238.2 L372.5,246.0 L373.5,258.0 L375.0,263.0 L378.0,265.3 L385.0,266.3 L392.0,267.6 L399.0,269.2 L399.0,269.2 Z" fill="#2d33a0" fill-opacity="0.51" stroke="#2b318a" stroke-width="0.6" stroke-linejoin="round"/>
<path d="M369.0,286.2 L369.0,286.2 L370.0,276.0 L370.6,264.0 L371.1,258.0 L371.7,265.0 L372.4,278.0 L373.2,285.0 L374.0,286.2 L374.0,286.2 Z" fill="#000000" fill-opacity="0.41" stroke="#111111" stroke-width="0.6" stroke-linejoin="round"/>
<path d="M369.3,303.5 L369.3,303.5 L370.0,294.0 L370.5,282.0 L371.0,271.2 L371.6,282.0 L372.2,294.0 L372.8,303.5 L372.8,303.5 Z" fill="#e8202a" fill-opacity="0.52" stroke="#d02028" stroke-width="0.6" stroke-linejoin="round"/>
<line x1="354.9" y1="269.2" x2="422.3" y2="269.2" stroke="#6670b0" stroke-width="0.75"/>
<line x1="354.9" y1="286.2" x2="422.3" y2="286.2" stroke="#333" stroke-width="0.8"/>
<line x1="374.6" y1="234.9" x2="374.6" y2="303.5" stroke="#333" stroke-width="0.9"/>
<rect x="354.9" y="234.9" width="67.4" height="68.6" fill="none" stroke="#505050" stroke-width="0.9"/>
<path d="M356.9,303.5v0.9M359.7,303.5v0.9M362.4,303.5v0.9M365.2,303.5v0.9M367.9,303.5v0.9M370.7,303.5v0.9M373.4,303.5v0.9M376.2,303.5v0.9M379.0,303.5v0.9M381.7,303.5v0.9M384.5,303.5v0.9M387.2,303.5v0.9M390.0,303.5v0.9M392.7,303.5v0.9M395.5,303.5v0.9M398.2,303.5v0.9M401.0,303.5v0.9M403.8,303.5v0.9M406.5,303.5v0.9M409.3,303.5v0.9M412.0,303.5v0.9M414.8,303.5v0.9M417.5,303.5v0.9M420.3,303.5v0.9" fill="none" stroke="#555" stroke-width="0.6"/>
<text stroke="#231f20" stroke-width="0.06" fill="#231f20" x="45.6" y="316.4" font-size="7.5">−10<tspan font-size="4.50" dy="-3.38">3</tspan></text>
<text stroke="#231f20" stroke-width="0.06" fill="#231f20" x="60.6" y="316.4" font-size="7.5">0</text>
<text stroke="#231f20" stroke-width="0.06" fill="#231f20" x="70.3" y="316.4" font-size="7.5">10<tspan font-size="4.50" dy="-3.38">3</tspan></text>
<text stroke="#231f20" stroke-width="0.06" fill="#231f20" x="87.1" y="316.4" font-size="7.5">10<tspan font-size="4.50" dy="-3.38">4</tspan></text>
<text stroke="#231f20" stroke-width="0.06" fill="#231f20" x="104.0" y="316.4" font-size="7.5">10<tspan font-size="4.50" dy="-3.38">5</tspan></text>
<text stroke="#231f20" stroke-width="0.12" fill="#231f20" x="63.2" y="327.3" font-size="9.2" textLength="28.1" lengthAdjust="spacingAndGlyphs">MHCII</text>
<text stroke="#231f20" stroke-width="0.2" fill="#231f20" x="137.0" y="327.7" font-size="10" textLength="31.5" lengthAdjust="spacingAndGlyphs">CD11c</text>
<text stroke="#231f20" stroke-width="0.2" fill="#231f20" x="217.0" y="327.6" font-size="10" textLength="27.8" lengthAdjust="spacingAndGlyphs">XCR1</text>
<text stroke="#231f20" stroke-width="0.2" fill="#231f20" x="296.2" y="327.2" font-size="10" textLength="24.6" lengthAdjust="spacingAndGlyphs">Sirpα</text>
<text stroke="#231f20" stroke-width="0.2" fill="#231f20" x="369.0" y="328.3" font-size="10" textLength="26.5" lengthAdjust="spacingAndGlyphs">CD40</text>
<text stroke="#231f20" stroke-width="0.2" fill="#231f20" x="39.2" y="281.0" font-size="10" textLength="25.4" lengthAdjust="spacingAndGlyphs" transform="rotate(-90 39.2 281.0)">Mode</text>
<line x1="431.9" y1="241.8" x2="443.2" y2="241.8" stroke="#6a72b8" stroke-width="1.1"/>
<line x1="431.9" y1="256.9" x2="443.2" y2="256.9" stroke="#111" stroke-width="1.1"/>
<line x1="431.9" y1="270.3" x2="443.2" y2="270.3" stroke="#e8404a" stroke-width="1.1"/>
<text stroke="#4a5aa5" stroke-width="0.2" x="448.0" y="244.6" font-size="10" fill="#4a5aa5" textLength="25.5" lengthAdjust="spacingAndGlyphs">cDC2</text>
<text stroke="#231f20" stroke-width="0.2" fill="#231f20" x="448.0" y="259.5" font-size="10" textLength="25.0" lengthAdjust="spacingAndGlyphs">cDC1</text>
<text stroke="#e0393f" stroke-width="0.2" x="446.5" y="274.2" font-size="10" fill="#e0393f" textLength="31.5" lengthAdjust="spacingAndGlyphs">GMDC</text>
<path d="M81.5,436.4 L81.5,436.7 L84.0,434.5 L86.0,431.0 L87.0,425.0 L88.0,405.0 L88.8,385.0 L89.6,375.0 L90.4,385.0 L91.2,398.0 L92.0,392.0 L93.0,375.0 L94.0,366.3 L95.0,380.0 L95.8,400.0 L96.5,420.0 L97.5,430.0 L99.0,434.5 L100.6,436.7 L100.6,436.4 Z" fill="#e8202a" fill-opacity="0.52" stroke="#d02028" stroke-width="0.7" stroke-linejoin="round"/>
<rect x="45.4" y="362.3" width="74.1" height="74.1" fill="none" stroke="#505050" stroke-width="0.9"/>
<path d="M45.4,364.3h-1.0M45.4,367.1h-1.0M45.4,369.9h-1.0M45.4,372.7h-1.0M45.4,375.5h-1.0M45.4,378.3h-1.0M45.4,381.1h-1.0M45.4,383.9h-1.0M45.4,386.7h-1.0M45.4,389.5h-1.0M45.4,392.3h-1.0M45.4,395.1h-1.0M45.4,397.9h-1.0M45.4,400.8h-1.0M45.4,403.6h-1.0M45.4,406.4h-1.0M45.4,409.2h-1.0M45.4,412.0h-1.0M45.4,414.8h-1.0M45.4,417.6h-1.0M45.4,420.4h-1.0M45.4,423.2h-1.0M45.4,426.0h-1.0M45.4,428.8h-1.0M45.4,431.6h-1.0M45.4,434.4h-1.0" fill="none" stroke="#555" stroke-width="0.6"/>
<path d="M47.4,436.4v0.9M50.2,436.4v0.9M53.0,436.4v0.9M55.8,436.4v0.9M58.6,436.4v0.9M61.4,436.4v0.9M64.2,436.4v0.9M67.0,436.4v0.9M69.8,436.4v0.9M72.6,436.4v0.9M75.4,436.4v0.9M78.2,436.4v0.9M81.0,436.4v0.9M83.9,436.4v0.9M86.7,436.4v0.9M89.5,436.4v0.9M92.3,436.4v0.9M95.1,436.4v0.9M97.9,436.4v0.9M100.7,436.4v0.9M103.5,436.4v0.9M106.3,436.4v0.9M109.1,436.4v0.9M111.9,436.4v0.9M114.7,436.4v0.9M117.5,436.4v0.9" fill="none" stroke="#555" stroke-width="0.6"/>
<line x1="52.4" y1="437.0" x2="55.9" y2="437.0" stroke="#111" stroke-width="1.2"/>
<text stroke="#231f20" stroke-width="0.2" fill="#231f20" x="46.9" y="376.9" font-size="9.8" textLength="17.4" lengthAdjust="spacingAndGlyphs">99.9</text>
<line x1="49.2" y1="385.0" x2="104.6" y2="385.0" stroke="#222" stroke-width="1.0"/>
<line x1="49.2" y1="383.2" x2="49.2" y2="386.8" stroke="#111" stroke-width="1.6"/>
<line x1="104.6" y1="383.2" x2="104.6" y2="386.8" stroke="#111" stroke-width="1.6"/>
<path d="M160.0,436.4 L160.0,436.5 L170.0,436.0 L178.0,435.0 L182.0,434.0 L185.0,432.0 L187.0,433.0 L188.0,430.0 L189.5,431.0 L190.5,425.0 L191.5,405.0 L192.3,385.0 L193.0,369.6 L193.8,385.0 L194.5,410.0 L195.2,428.0 L196.0,436.5 L196.0,436.4 Z" fill="#e8202a" fill-opacity="0.52" stroke="#d02028" stroke-width="0.7" stroke-linejoin="round"/>
<rect x="129.6" y="362.3" width="74.0" height="74.1" fill="none" stroke="#505050" stroke-width="0.9"/>
<path d="M129.6,364.3h-1.0M129.6,367.1h-1.0M129.6,369.9h-1.0M129.6,372.7h-1.0M129.6,375.5h-1.0M129.6,378.3h-1.0M129.6,381.1h-1.0M129.6,383.9h-1.0M129.6,386.7h-1.0M129.6,389.5h-1.0M129.6,392.3h-1.0M129.6,395.1h-1.0M129.6,397.9h-1.0M129.6,400.8h-1.0M129.6,403.6h-1.0M129.6,406.4h-1.0M129.6,409.2h-1.0M129.6,412.0h-1.0M129.6,414.8h-1.0M129.6,417.6h-1.0M129.6,420.4h-1.0M129.6,423.2h-1.0M129.6,426.0h-1.0M129.6,428.8h-1.0M129.6,431.6h-1.0M129.6,434.4h-1.0" fill="none" stroke="#555" stroke-width="0.6"/>
<path d="M131.6,436.4v0.9M134.4,436.4v0.9M137.2,436.4v0.9M140.0,436.4v0.9M142.8,436.4v0.9M145.6,436.4v0.9M148.4,436.4v0.9M151.2,436.4v0.9M154.0,436.4v0.9M156.8,436.4v0.9M159.6,436.4v0.9M162.4,436.4v0.9M165.2,436.4v0.9M168.0,436.4v0.9M170.8,436.4v0.9M173.6,436.4v0.9M176.4,436.4v0.9M179.2,436.4v0.9M182.0,436.4v0.9M184.8,436.4v0.9M187.6,436.4v0.9M190.4,436.4v0.9M193.2,436.4v0.9M196.0,436.4v0.9M198.8,436.4v0.9M201.6,436.4v0.9" fill="none" stroke="#555" stroke-width="0.6"/>
<line x1="136.6" y1="437.0" x2="140.1" y2="437.0" stroke="#111" stroke-width="1.2"/>
<text stroke="#231f20" stroke-width="0.2" fill="#231f20" x="131.5" y="376.5" font-size="9.8" textLength="17.7" lengthAdjust="spacingAndGlyphs">20.2</text>
<line x1="133.6" y1="385.0" x2="189.1" y2="385.0" stroke="#222" stroke-width="1.0"/>
<line x1="133.6" y1="383.2" x2="133.6" y2="386.8" stroke="#111" stroke-width="1.6"/>
<line x1="189.1" y1="383.2" x2="189.1" y2="386.8" stroke="#111" stroke-width="1.6"/>
<path d="M234.2,436.4 L234.2,436.0 L238.0,432.0 L241.0,424.0 L244.0,410.0 L247.0,395.0 L249.5,380.0 L251.0,372.0 L252.5,367.1 L254.0,372.0 L255.5,382.0 L257.0,390.0 L258.5,398.0 L260.0,408.0 L261.0,412.0 L262.5,418.0 L263.5,416.0 L265.0,424.0 L266.5,428.0 L268.0,426.0 L269.0,430.0 L270.5,429.0 L272.0,431.0 L273.0,430.0 L274.5,432.0 L276.0,431.0 L277.0,425.0 L278.0,415.0 L278.5,412.3 L279.2,415.0 L280.0,425.0 L281.0,433.0 L282.0,436.0 L282.0,436.4 Z" fill="#e8202a" fill-opacity="0.52" stroke="#d02028" stroke-width="0.7" stroke-linejoin="round"/>
<rect x="214.2" y="362.3" width="74.8" height="74.1" fill="none" stroke="#505050" stroke-width="0.9"/>
<path d="M214.2,364.3h-1.0M214.2,367.1h-1.0M214.2,369.9h-1.0M214.2,372.7h-1.0M214.2,375.5h-1.0M214.2,378.3h-1.0M214.2,381.1h-1.0M214.2,383.9h-1.0M214.2,386.7h-1.0M214.2,389.5h-1.0M214.2,392.3h-1.0M214.2,395.1h-1.0M214.2,397.9h-1.0M214.2,400.8h-1.0M214.2,403.6h-1.0M214.2,406.4h-1.0M214.2,409.2h-1.0M214.2,412.0h-1.0M214.2,414.8h-1.0M214.2,417.6h-1.0M214.2,420.4h-1.0M214.2,423.2h-1.0M214.2,426.0h-1.0M214.2,428.8h-1.0M214.2,431.6h-1.0M214.2,434.4h-1.0" fill="none" stroke="#555" stroke-width="0.6"/>
<path d="M216.2,436.4v0.9M219.0,436.4v0.9M221.9,436.4v0.9M224.7,436.4v0.9M227.5,436.4v0.9M230.4,436.4v0.9M233.2,436.4v0.9M236.0,436.4v0.9M238.9,436.4v0.9M241.7,436.4v0.9M244.5,436.4v0.9M247.4,436.4v0.9M250.2,436.4v0.9M253.0,436.4v0.9M255.8,436.4v0.9M258.7,436.4v0.9M261.5,436.4v0.9M264.3,436.4v0.9M267.2,436.4v0.9M270.0,436.4v0.9M272.8,436.4v0.9M275.7,436.4v0.9M278.5,436.4v0.9M281.3,436.4v0.9M284.2,436.4v0.9M287.0,436.4v0.9" fill="none" stroke="#555" stroke-width="0.6"/>
<line x1="221.2" y1="437.0" x2="224.7" y2="437.0" stroke="#111" stroke-width="1.2"/>
<text stroke="#231f20" stroke-width="0.2" fill="#231f20" x="216.0" y="376.7" font-size="9.8" textLength="17.8" lengthAdjust="spacingAndGlyphs">93.1</text>
<line x1="218.4" y1="385.0" x2="274.0" y2="385.0" stroke="#222" stroke-width="1.0"/>
<line x1="218.4" y1="383.2" x2="218.4" y2="386.8" stroke="#111" stroke-width="1.6"/>
<line x1="274.0" y1="383.2" x2="274.0" y2="386.8" stroke="#111" stroke-width="1.6"/>
<path d="M78.9,519.7 L78.9,519.9 L80.5,517.0 L82.0,516.0 L83.0,517.0 L85.0,512.0 L86.5,509.0 L88.1,507.5 L89.2,510.0 L90.5,507.0 L92.0,502.0 L92.8,501.4 L94.0,503.0 L95.5,498.0 L97.1,495.4 L98.3,499.0 L99.5,490.0 L100.9,480.7 L102.2,495.0 L103.5,500.0 L104.4,490.0 L105.2,481.2 L106.3,494.0 L107.0,497.0 L108.0,488.0 L108.9,485.3 L110.0,496.0 L111.0,508.0 L112.7,519.9 L112.7,519.7 Z" fill="#000000" fill-opacity="0.41" stroke="#111111" stroke-width="0.7" stroke-linejoin="round"/>
<rect x="45.4" y="446.2" width="74.1" height="73.5" fill="none" stroke="#505050" stroke-width="0.9"/>
<path d="M45.4,448.2h-1.0M45.4,451.0h-1.0M45.4,453.8h-1.0M45.4,456.5h-1.0M45.4,459.3h-1.0M45.4,462.1h-1.0M45.4,464.9h-1.0M45.4,467.7h-1.0M45.4,470.4h-1.0M45.4,473.2h-1.0M45.4,476.0h-1.0M45.4,478.8h-1.0M45.4,481.6h-1.0M45.4,484.3h-1.0M45.4,487.1h-1.0M45.4,489.9h-1.0M45.4,492.7h-1.0M45.4,495.5h-1.0M45.4,498.2h-1.0M45.4,501.0h-1.0M45.4,503.8h-1.0M45.4,506.6h-1.0M45.4,509.4h-1.0M45.4,512.1h-1.0M45.4,514.9h-1.0M45.4,517.7h-1.0" fill="none" stroke="#555" stroke-width="0.6"/>
<path d="M47.4,519.7v0.9M50.2,519.7v0.9M53.0,519.7v0.9M55.8,519.7v0.9M58.6,519.7v0.9M61.4,519.7v0.9M64.2,519.7v0.9M67.0,519.7v0.9M69.8,519.7v0.9M72.6,519.7v0.9M75.4,519.7v0.9M78.2,519.7v0.9M81.0,519.7v0.9M83.9,519.7v0.9M86.7,519.7v0.9M89.5,519.7v0.9M92.3,519.7v0.9M95.1,519.7v0.9M97.9,519.7v0.9M100.7,519.7v0.9M103.5,519.7v0.9M106.3,519.7v0.9M109.1,519.7v0.9M111.9,519.7v0.9M114.7,519.7v0.9M117.5,519.7v0.9" fill="none" stroke="#555" stroke-width="0.6"/>
<line x1="52.4" y1="520.3" x2="55.9" y2="520.3" stroke="#111" stroke-width="1.2"/>
<text stroke="#231f20" stroke-width="0.2" fill="#231f20" x="46.9" y="459.9" font-size="9.8" textLength="17.7" lengthAdjust="spacingAndGlyphs">63.9</text>
<line x1="49.2" y1="468.5" x2="104.6" y2="468.5" stroke="#222" stroke-width="1.0"/>
<line x1="49.2" y1="466.7" x2="49.2" y2="470.3" stroke="#111" stroke-width="1.6"/>
<line x1="104.6" y1="466.7" x2="104.6" y2="470.3" stroke="#111" stroke-width="1.6"/>
<path d="M186.4,519.7 L186.4,519.9 L188.0,517.0 L189.5,512.0 L191.0,503.0 L192.3,495.0 L193.3,491.6 L194.3,495.0 L195.5,505.0 L196.5,514.0 L197.7,519.9 L197.7,519.7 Z" fill="#000000" fill-opacity="0.41" stroke="#111111" stroke-width="0.7" stroke-linejoin="round"/>
<rect x="129.6" y="446.2" width="74.0" height="73.5" fill="none" stroke="#505050" stroke-width="0.9"/>
<path d="M129.6,448.2h-1.0M129.6,451.0h-1.0M129.6,453.8h-1.0M129.6,456.5h-1.0M129.6,459.3h-1.0M129.6,462.1h-1.0M129.6,464.9h-1.0M129.6,467.7h-1.0M129.6,470.4h-1.0M129.6,473.2h-1.0M129.6,476.0h-1.0M129.6,478.8h-1.0M129.6,481.6h-1.0M129.6,484.3h-1.0M129.6,487.1h-1.0M129.6,489.9h-1.0M129.6,492.7h-1.0M129.6,495.5h-1.0M129.6,498.2h-1.0M129.6,501.0h-1.0M129.6,503.8h-1.0M129.6,506.6h-1.0M129.6,509.4h-1.0M129.6,512.1h-1.0M129.6,514.9h-1.0M129.6,517.7h-1.0" fill="none" stroke="#555" stroke-width="0.6"/>
<path d="M131.6,519.7v0.9M134.4,519.7v0.9M137.2,519.7v0.9M140.0,519.7v0.9M142.8,519.7v0.9M145.6,519.7v0.9M148.4,519.7v0.9M151.2,519.7v0.9M154.0,519.7v0.9M156.8,519.7v0.9M159.6,519.7v0.9M162.4,519.7v0.9M165.2,519.7v0.9M168.0,519.7v0.9M170.8,519.7v0.9M173.6,519.7v0.9M176.4,519.7v0.9M179.2,519.7v0.9M182.0,519.7v0.9M184.8,519.7v0.9M187.6,519.7v0.9M190.4,519.7v0.9M193.2,519.7v0.9M196.0,519.7v0.9M198.8,519.7v0.9M201.6,519.7v0.9" fill="none" stroke="#555" stroke-width="0.6"/>
<line x1="136.6" y1="520.3" x2="140.1" y2="520.3" stroke="#111" stroke-width="1.2"/>
<text stroke="#231f20" stroke-width="0.2" fill="#231f20" x="131.9" y="459.9" font-size="9.8" textLength="17.0" lengthAdjust="spacingAndGlyphs">3.45</text>
<line x1="133.6" y1="468.5" x2="189.1" y2="468.5" stroke="#222" stroke-width="1.0"/>
<line x1="133.6" y1="466.7" x2="133.6" y2="470.3" stroke="#111" stroke-width="1.6"/>
<line x1="189.1" y1="466.7" x2="189.1" y2="470.3" stroke="#111" stroke-width="1.6"/>
<path d="M236.0,519.7 L236.0,519.9 L238.0,517.0 L240.3,514.4 L242.0,513.5 L244.6,514.4 L246.5,508.0 L248.5,498.0 L250.7,487.6 L253.3,485.0 L255.0,472.0 L256.0,460.0 L257.1,455.9 L258.2,462.0 L259.3,467.7 L260.5,462.0 L261.6,458.2 L262.7,470.0 L264.0,491.9 L265.2,482.0 L266.2,475.5 L267.3,488.0 L268.5,502.3 L269.5,500.0 L270.6,499.7 L271.8,506.0 L273.1,511.8 L274.5,510.5 L275.7,510.6 L277.2,505.0 L278.3,498.0 L279.2,496.2 L280.3,505.0 L281.3,515.0 L282.3,519.6 L282.3,519.7 Z" fill="#000000" fill-opacity="0.41" stroke="#111111" stroke-width="0.7" stroke-linejoin="round"/>
<rect x="214.2" y="446.2" width="74.8" height="73.5" fill="none" stroke="#505050" stroke-width="0.9"/>
<path d="M214.2,448.2h-1.0M214.2,451.0h-1.0M214.2,453.8h-1.0M214.2,456.5h-1.0M214.2,459.3h-1.0M214.2,462.1h-1.0M214.2,464.9h-1.0M214.2,467.7h-1.0M214.2,470.4h-1.0M214.2,473.2h-1.0M214.2,476.0h-1.0M214.2,478.8h-1.0M214.2,481.6h-1.0M214.2,484.3h-1.0M214.2,487.1h-1.0M214.2,489.9h-1.0M214.2,492.7h-1.0M214.2,495.5h-1.0M214.2,498.2h-1.0M214.2,501.0h-1.0M214.2,503.8h-1.0M214.2,506.6h-1.0M214.2,509.4h-1.0M214.2,512.1h-1.0M214.2,514.9h-1.0M214.2,517.7h-1.0" fill="none" stroke="#555" stroke-width="0.6"/>
<path d="M216.2,519.7v0.9M219.0,519.7v0.9M221.9,519.7v0.9M224.7,519.7v0.9M227.5,519.7v0.9M230.4,519.7v0.9M233.2,519.7v0.9M236.0,519.7v0.9M238.9,519.7v0.9M241.7,519.7v0.9M244.5,519.7v0.9M247.4,519.7v0.9M250.2,519.7v0.9M253.0,519.7v0.9M255.8,519.7v0.9M258.7,519.7v0.9M261.5,519.7v0.9M264.3,519.7v0.9M267.2,519.7v0.9M270.0,519.7v0.9M272.8,519.7v0.9M275.7,519.7v0.9M278.5,519.7v0.9M281.3,519.7v0.9M284.2,519.7v0.9M287.0,519.7v0.9" fill="none" stroke="#555" stroke-width="0.6"/>
<line x1="221.2" y1="520.3" x2="224.7" y2="520.3" stroke="#111" stroke-width="1.2"/>
<text stroke="#231f20" stroke-width="0.2" fill="#231f20" x="216.0" y="459.9" font-size="9.8" textLength="17.9" lengthAdjust="spacingAndGlyphs">90.8</text>
<line x1="218.4" y1="468.5" x2="274.0" y2="468.5" stroke="#222" stroke-width="1.0"/>
<line x1="218.4" y1="466.7" x2="218.4" y2="470.3" stroke="#111" stroke-width="1.6"/>
<line x1="274.0" y1="466.7" x2="274.0" y2="470.3" stroke="#111" stroke-width="1.6"/>
<path d="M59.9,603.7 L59.9,603.7 L62.0,601.0 L64.0,597.0 L66.0,593.0 L68.5,589.0 L70.0,588.0 L71.5,586.0 L73.0,586.5 L74.6,584.7 L76.0,585.0 L77.5,582.0 L79.8,580.7 L81.5,582.0 L83.0,581.5 L85.0,582.5 L86.7,583.8 L88.0,587.0 L89.0,590.0 L90.2,592.5 L91.2,590.0 L91.9,589.9 L93.0,593.0 L94.2,594.0 L95.4,591.6 L96.5,594.0 L97.5,593.0 L98.8,588.0 L99.8,578.0 L100.6,574.3 L101.5,580.0 L102.5,588.0 L103.5,570.0 L104.2,548.0 L104.9,537.1 L105.7,550.0 L106.6,575.0 L107.4,580.0 L108.2,560.0 L108.9,549.2 L109.8,562.0 L110.8,585.0 L111.5,598.0 L112.3,603.7 L112.3,603.7 Z" fill="#2d33a0" fill-opacity="0.51" stroke="#2b318a" stroke-width="0.7" stroke-linejoin="round"/>
<rect x="45.4" y="529.5" width="74.1" height="74.2" fill="none" stroke="#505050" stroke-width="0.9"/>
<path d="M45.4,531.5h-1.0M45.4,534.3h-1.0M45.4,537.1h-1.0M45.4,539.9h-1.0M45.4,542.7h-1.0M45.4,545.5h-1.0M45.4,548.3h-1.0M45.4,551.2h-1.0M45.4,554.0h-1.0M45.4,556.8h-1.0M45.4,559.6h-1.0M45.4,562.4h-1.0M45.4,565.2h-1.0M45.4,568.0h-1.0M45.4,570.8h-1.0M45.4,573.6h-1.0M45.4,576.4h-1.0M45.4,579.2h-1.0M45.4,582.0h-1.0M45.4,584.9h-1.0M45.4,587.7h-1.0M45.4,590.5h-1.0M45.4,593.3h-1.0M45.4,596.1h-1.0M45.4,598.9h-1.0M45.4,601.7h-1.0" fill="none" stroke="#555" stroke-width="0.6"/>
<path d="M47.4,603.7v0.9M50.2,603.7v0.9M53.0,603.7v0.9M55.8,603.7v0.9M58.6,603.7v0.9M61.4,603.7v0.9M64.2,603.7v0.9M67.0,603.7v0.9M69.8,603.7v0.9M72.6,603.7v0.9M75.4,603.7v0.9M78.2,603.7v0.9M81.0,603.7v0.9M83.9,603.7v0.9M86.7,603.7v0.9M89.5,603.7v0.9M92.3,603.7v0.9M95.1,603.7v0.9M97.9,603.7v0.9M100.7,603.7v0.9M103.5,603.7v0.9M106.3,603.7v0.9M109.1,603.7v0.9M111.9,603.7v0.9M114.7,603.7v0.9M117.5,603.7v0.9" fill="none" stroke="#555" stroke-width="0.6"/>
<line x1="52.4" y1="604.3" x2="55.9" y2="604.3" stroke="#111" stroke-width="1.2"/>
<text stroke="#231f20" stroke-width="0.2" fill="#231f20" x="47.0" y="544.0" font-size="9.8" textLength="18.1" lengthAdjust="spacingAndGlyphs">70.7</text>
<line x1="49.2" y1="551.8" x2="104.6" y2="551.8" stroke="#222" stroke-width="1.0"/>
<line x1="49.2" y1="550.0" x2="49.2" y2="553.6" stroke="#111" stroke-width="1.6"/>
<line x1="104.6" y1="550.0" x2="104.6" y2="553.6" stroke="#111" stroke-width="1.6"/>
<path d="M186.4,603.7 L186.4,603.7 L188.5,601.0 L190.0,592.0 L191.2,575.0 L192.0,560.0 L192.5,552.7 L193.1,560.0 L194.0,580.0 L195.0,595.0 L196.3,603.7 L196.3,603.7 Z" fill="#2d33a0" fill-opacity="0.51" stroke="#2b318a" stroke-width="0.7" stroke-linejoin="round"/>
<rect x="129.6" y="529.5" width="74.0" height="74.2" fill="none" stroke="#505050" stroke-width="0.9"/>
<path d="M129.6,531.5h-1.0M129.6,534.3h-1.0M129.6,537.1h-1.0M129.6,539.9h-1.0M129.6,542.7h-1.0M129.6,545.5h-1.0M129.6,548.3h-1.0M129.6,551.2h-1.0M129.6,554.0h-1.0M129.6,556.8h-1.0M129.6,559.6h-1.0M129.6,562.4h-1.0M129.6,565.2h-1.0M129.6,568.0h-1.0M129.6,570.8h-1.0M129.6,573.6h-1.0M129.6,576.4h-1.0M129.6,579.2h-1.0M129.6,582.0h-1.0M129.6,584.9h-1.0M129.6,587.7h-1.0M129.6,590.5h-1.0M129.6,593.3h-1.0M129.6,596.1h-1.0M129.6,598.9h-1.0M129.6,601.7h-1.0" fill="none" stroke="#555" stroke-width="0.6"/>
<path d="M131.6,603.7v0.9M134.4,603.7v0.9M137.2,603.7v0.9M140.0,603.7v0.9M142.8,603.7v0.9M145.6,603.7v0.9M148.4,603.7v0.9M151.2,603.7v0.9M154.0,603.7v0.9M156.8,603.7v0.9M159.6,603.7v0.9M162.4,603.7v0.9M165.2,603.7v0.9M168.0,603.7v0.9M170.8,603.7v0.9M173.6,603.7v0.9M176.4,603.7v0.9M179.2,603.7v0.9M182.0,603.7v0.9M184.8,603.7v0.9M187.6,603.7v0.9M190.4,603.7v0.9M193.2,603.7v0.9M196.0,603.7v0.9M198.8,603.7v0.9M201.6,603.7v0.9" fill="none" stroke="#555" stroke-width="0.6"/>
<line x1="136.6" y1="604.3" x2="140.1" y2="604.3" stroke="#111" stroke-width="1.2"/>
<text stroke="#231f20" stroke-width="0.2" fill="#231f20" x="131.9" y="543.2" font-size="9.8" textLength="17.0" lengthAdjust="spacingAndGlyphs">2.04</text>
<line x1="133.6" y1="551.8" x2="189.1" y2="551.8" stroke="#222" stroke-width="1.0"/>
<line x1="133.6" y1="550.0" x2="133.6" y2="553.6" stroke="#111" stroke-width="1.6"/>
<line x1="189.1" y1="550.0" x2="189.1" y2="553.6" stroke="#111" stroke-width="1.6"/>
<path d="M255.0,603.7 L255.0,603.7 L260.0,602.5 L263.0,601.0 L265.4,600.3 L267.5,599.0 L269.7,598.5 L271.5,595.0 L273.1,590.7 L274.9,589.9 L275.8,583.0 L276.6,570.0 L277.3,555.0 L278.3,538.8 L279.0,555.0 L279.6,575.0 L280.0,592.5 L280.8,598.0 L281.8,603.7 L281.8,603.7 Z" fill="#2d33a0" fill-opacity="0.51" stroke="#2b318a" stroke-width="0.7" stroke-linejoin="round"/>
<rect x="214.2" y="529.5" width="74.8" height="74.2" fill="none" stroke="#505050" stroke-width="0.9"/>
<path d="M214.2,531.5h-1.0M214.2,534.3h-1.0M214.2,537.1h-1.0M214.2,539.9h-1.0M214.2,542.7h-1.0M214.2,545.5h-1.0M214.2,548.3h-1.0M214.2,551.2h-1.0M214.2,554.0h-1.0M214.2,556.8h-1.0M214.2,559.6h-1.0M214.2,562.4h-1.0M214.2,565.2h-1.0M214.2,568.0h-1.0M214.2,570.8h-1.0M214.2,573.6h-1.0M214.2,576.4h-1.0M214.2,579.2h-1.0M214.2,582.0h-1.0M214.2,584.9h-1.0M214.2,587.7h-1.0M214.2,590.5h-1.0M214.2,593.3h-1.0M214.2,596.1h-1.0M214.2,598.9h-1.0M214.2,601.7h-1.0" fill="none" stroke="#555" stroke-width="0.6"/>
<path d="M216.2,603.7v0.9M219.0,603.7v0.9M221.9,603.7v0.9M224.7,603.7v0.9M227.5,603.7v0.9M230.4,603.7v0.9M233.2,603.7v0.9M236.0,603.7v0.9M238.9,603.7v0.9M241.7,603.7v0.9M244.5,603.7v0.9M247.4,603.7v0.9M250.2,603.7v0.9M253.0,603.7v0.9M255.8,603.7v0.9M258.7,603.7v0.9M261.5,603.7v0.9M264.3,603.7v0.9M267.2,603.7v0.9M270.0,603.7v0.9M272.8,603.7v0.9M275.7,603.7v0.9M278.5,603.7v0.9M281.3,603.7v0.9M284.2,603.7v0.9M287.0,603.7v0.9" fill="none" stroke="#555" stroke-width="0.6"/>
<line x1="221.2" y1="604.3" x2="224.7" y2="604.3" stroke="#111" stroke-width="1.2"/>
<text stroke="#231f20" stroke-width="0.2" fill="#231f20" x="216.9" y="543.5" font-size="9.8" textLength="15.6" lengthAdjust="spacingAndGlyphs">18.1</text>
<line x1="218.4" y1="551.8" x2="274.0" y2="551.8" stroke="#222" stroke-width="1.0"/>
<line x1="218.4" y1="550.0" x2="218.4" y2="553.6" stroke="#111" stroke-width="1.6"/>
<line x1="274.0" y1="550.0" x2="274.0" y2="553.6" stroke="#111" stroke-width="1.6"/>
<text stroke="#231f20" stroke-width="0.2" fill="#231f20" x="69.2" y="360.3" font-size="10" textLength="26.2" lengthAdjust="spacingAndGlyphs">sOVA</text>
<text stroke="#231f20" stroke-width="0.2" fill="#231f20" x="153.5" y="360.0" font-size="10" textLength="26.8" lengthAdjust="spacingAndGlyphs">–OVA</text>
<text stroke="#231f20" stroke-width="0.2" fill="#231f20" x="239.0" y="360.0" font-size="10" textLength="26.4" lengthAdjust="spacingAndGlyphs">+OVA</text>
<text stroke="#e0393f" stroke-width="0.2" x="0.4" y="401.0" font-size="11.5" fill="#e0393f" textLength="33.0" lengthAdjust="spacingAndGlyphs">GMDC</text>
<text stroke="#231f20" stroke-width="0.2" fill="#231f20" x="3.5" y="485.6" font-size="11.5" textLength="25.9" lengthAdjust="spacingAndGlyphs">cDC1</text>
<text stroke="#4a5aa5" stroke-width="0.2" x="3.1" y="568.0" font-size="11.5" fill="#4a5aa5" textLength="27.7" lengthAdjust="spacingAndGlyphs">cDC2</text>
<line x1="37.3" y1="366.0" x2="37.3" y2="573.2" stroke="#333" stroke-width="0.9"/>
<path d="M37.3,363.2 L39.6,367.0 L35.0,367.0 Z" fill="#111" stroke="none" stroke-width="0.8"/>
<text stroke="#231f20" stroke-width="0.2" fill="#231f20" x="40.7" y="603.4" font-size="10.3" textLength="26.4" lengthAdjust="spacingAndGlyphs" transform="rotate(-90 40.7 603.4)">Mode</text>
<text stroke="#231f20" stroke-width="0.06" fill="#231f20" x="45.2" y="615.0" font-size="7.5">−10<tspan font-size="4.50" dy="-3.38">3</tspan></text>
<text stroke="#231f20" stroke-width="0.06" fill="#231f20" x="63.0" y="615.0" font-size="7.5">0</text>
<text stroke="#231f20" stroke-width="0.06" fill="#231f20" x="75.5" y="615.0" font-size="7.5">10<tspan font-size="4.50" dy="-3.38">3</tspan></text>
<text stroke="#231f20" stroke-width="0.06" fill="#231f20" x="91.0" y="615.0" font-size="7.5">10<tspan font-size="4.50" dy="-3.38">4</tspan></text>
<text stroke="#231f20" stroke-width="0.06" fill="#231f20" x="106.6" y="615.0" font-size="7.5">10<tspan font-size="4.50" dy="-3.38">5</tspan></text>
<text stroke="#231f20" stroke-width="0.2" fill="#231f20" x="44.4" y="625.8" font-size="10.3" textLength="70.2" lengthAdjust="spacingAndGlyphs">Cell trace violet</text>
<line x1="122.0" y1="622.4" x2="284.0" y2="622.4" stroke="#333" stroke-width="0.9"/>
<path d="M288.2,622.4 L283.0,620.0 L283.0,624.8 Z" fill="#111" stroke="none" stroke-width="0.8"/>
<line x1="337.6" y1="369.2" x2="337.6" y2="482.8" stroke="#505050" stroke-width="0.9"/>
<path d="M337.6,482.5h-2.8M337.6,459.8h-2.8M337.6,437.2h-2.8M337.6,414.5h-2.8M337.6,391.9h-2.8M337.6,369.2h-2.8" fill="none" stroke="#3c3c3c" stroke-width="0.8"/>
<text stroke="#231f20" stroke-width="0.12" fill="#231f20" x="332.4" y="485.5" font-size="8.5" text-anchor="end">0</text>
<text stroke="#231f20" stroke-width="0.12" fill="#231f20" x="332.4" y="462.8" font-size="8.5" text-anchor="end">20</text>
<text stroke="#231f20" stroke-width="0.12" fill="#231f20" x="332.4" y="440.2" font-size="8.5" text-anchor="end">40</text>
<text stroke="#231f20" stroke-width="0.12" fill="#231f20" x="332.4" y="417.5" font-size="8.5" text-anchor="end">60</text>
<text stroke="#231f20" stroke-width="0.12" fill="#231f20" x="332.4" y="394.9" font-size="8.5" text-anchor="end">80</text>
<text stroke="#231f20" stroke-width="0.12" fill="#231f20" x="332.4" y="372.2" font-size="8.5" text-anchor="end">100</text>
<line x1="337.6" y1="482.8" x2="362.6" y2="482.8" stroke="#505050" stroke-width="0.9"/>
<line x1="365.4" y1="482.8" x2="508.1" y2="482.8" stroke="#505050" stroke-width="0.9"/>
<path d="M362.6,480.0 V485.6 M365.4,480.0 V485.6" fill="none" stroke="#333" stroke-width="0.9"/>
<path d="M350.5,482.8v2.6M379.3,482.8v2.6M408.2,482.8v2.6M436.4,482.8v2.6M464.8,482.8v2.6M493.1,482.8v2.6" fill="none" stroke="#3c3c3c" stroke-width="0.8"/>
<text stroke="#231f20" stroke-width="0.12" fill="#231f20" x="350.4" y="494.0" font-size="8.5" text-anchor="middle">500</text>
<text stroke="#231f20" stroke-width="0.12" fill="#231f20" x="379.3" y="494.0" font-size="8.5" text-anchor="middle">0</text>
<text stroke="#231f20" stroke-width="0.12" fill="#231f20" x="408.9" y="494.0" font-size="8.5" text-anchor="middle">62.5</text>
<text stroke="#231f20" stroke-width="0.12" fill="#231f20" x="436.9" y="494.0" font-size="8.5" text-anchor="middle">125</text>
<text stroke="#231f20" stroke-width="0.12" fill="#231f20" x="464.5" y="494.0" font-size="8.5" text-anchor="middle">250</text>
<text stroke="#231f20" stroke-width="0.12" fill="#231f20" x="501.7" y="494.0" font-size="8.5" text-anchor="middle">500</text>
<text stroke="#231f20" stroke-width="0.2" fill="#231f20" x="326.0" y="514.6" font-size="10.6" textLength="192.0" lengthAdjust="spacingAndGlyphs">OVA-pulsed MHC-I KO splenocytes (×10<tspan font-size="6.5" dy="-4">3</tspan><tspan dy="4">)</tspan></text>
<text stroke="#231f20" stroke-width="0.12" fill="#231f20" x="315.6" y="463.8" font-size="9.2" textLength="85.4" lengthAdjust="spacingAndGlyphs" transform="rotate(-90 315.6 463.8)">OT-I Proliferation (%)</text>
<path d="M379.3,456.4 L408.2,410.6 L436.4,396.4 L464.8,383.4 L493.1,377.7" fill="none" stroke="#222" stroke-width="0.9"/>
<path d="M379.3,480.2 L408.2,381.7 L436.4,379.4 L464.8,379.4 L493.1,382.8" fill="none" stroke="#222" stroke-width="0.9"/>
<path d="M379.3,474.2 L408.2,466.2 L436.4,465.5 L464.8,458.0 L493.1,453.9" fill="none" stroke="#222" stroke-width="0.9"/>
<line x1="379.3" y1="470.8" x2="379.3" y2="477.6" stroke="#222" stroke-width="0.9"/>
<line x1="376.7" y1="470.8" x2="381.9" y2="470.8" stroke="#222" stroke-width="0.9"/>
<line x1="376.7" y1="477.6" x2="381.9" y2="477.6" stroke="#222" stroke-width="0.9"/>
<line x1="436.4" y1="457.6" x2="436.4" y2="473.4" stroke="#222" stroke-width="0.9"/>
<line x1="433.8" y1="457.6" x2="439.0" y2="457.6" stroke="#222" stroke-width="0.9"/>
<line x1="433.8" y1="473.4" x2="439.0" y2="473.4" stroke="#222" stroke-width="0.9"/>
<line x1="464.8" y1="452.9" x2="464.8" y2="463.1" stroke="#222" stroke-width="0.9"/>
<line x1="462.2" y1="452.9" x2="467.4" y2="452.9" stroke="#222" stroke-width="0.9"/>
<line x1="462.2" y1="463.1" x2="467.4" y2="463.1" stroke="#222" stroke-width="0.9"/>
<line x1="493.1" y1="446.8" x2="493.1" y2="461.1" stroke="#222" stroke-width="0.9"/>
<line x1="490.5" y1="446.8" x2="495.7" y2="446.8" stroke="#222" stroke-width="0.9"/>
<line x1="490.5" y1="461.1" x2="495.7" y2="461.1" stroke="#222" stroke-width="0.9"/>
<line x1="379.3" y1="453.6" x2="379.3" y2="459.3" stroke="#222" stroke-width="0.9"/>
<line x1="376.7" y1="453.6" x2="381.9" y2="453.6" stroke="#222" stroke-width="0.9"/>
<line x1="376.7" y1="459.3" x2="381.9" y2="459.3" stroke="#222" stroke-width="0.9"/>
<line x1="436.4" y1="391.9" x2="436.4" y2="400.9" stroke="#222" stroke-width="0.9"/>
<line x1="433.8" y1="391.9" x2="439.0" y2="391.9" stroke="#222" stroke-width="0.9"/>
<line x1="433.8" y1="400.9" x2="439.0" y2="400.9" stroke="#222" stroke-width="0.9"/>
<line x1="493.1" y1="380.5" x2="493.1" y2="385.1" stroke="#222" stroke-width="0.9"/>
<line x1="490.5" y1="380.5" x2="495.7" y2="380.5" stroke="#222" stroke-width="0.9"/>
<line x1="490.5" y1="385.1" x2="495.7" y2="385.1" stroke="#222" stroke-width="0.9"/>
<ellipse cx="350.5" cy="480.0" rx="2.9" ry="2.9" fill="#2c4a9c"/>
<ellipse cx="350.5" cy="478.0" rx="2.9" ry="2.9" fill="#111111"/>
<ellipse cx="350.5" cy="458.1" rx="2.9" ry="2.9" fill="#e8262d"/>
<ellipse cx="379.3" cy="456.4" rx="2.9" ry="2.9" fill="#e8262d"/>
<ellipse cx="379.3" cy="480.2" rx="2.9" ry="2.9" fill="#111111"/>
<ellipse cx="379.3" cy="474.2" rx="2.9" ry="2.9" fill="#2c4a9c"/>
<ellipse cx="408.2" cy="466.2" rx="2.9" ry="2.9" fill="#2c4a9c"/>
<ellipse cx="408.2" cy="381.7" rx="2.9" ry="2.9" fill="#111111"/>
<ellipse cx="408.2" cy="410.6" rx="2.9" ry="2.9" fill="#e8262d"/>
<ellipse cx="436.4" cy="465.5" rx="2.9" ry="2.9" fill="#2c4a9c"/>
<ellipse cx="436.4" cy="379.4" rx="2.9" ry="2.9" fill="#111111"/>
<ellipse cx="436.4" cy="396.4" rx="2.9" ry="2.9" fill="#e8262d"/>
<ellipse cx="464.8" cy="458.0" rx="2.9" ry="2.9" fill="#2c4a9c"/>
<ellipse cx="464.8" cy="383.4" rx="2.9" ry="2.9" fill="#e8262d"/>
<ellipse cx="464.8" cy="379.4" rx="2.9" ry="2.9" fill="#111111"/>
<ellipse cx="493.1" cy="453.9" rx="2.9" ry="2.9" fill="#2c4a9c"/>
<ellipse cx="493.1" cy="382.8" rx="2.9" ry="2.9" fill="#111111"/>
<ellipse cx="493.1" cy="377.7" rx="2.9" ry="2.9" fill="#e8262d"/>
<line x1="344.0" y1="378.3" x2="355.6" y2="378.3" stroke="#333" stroke-width="0.9"/>
<ellipse cx="349.8" cy="378.3" rx="2.9" ry="2.9" fill="#e8262d"/>
<text stroke="#e0393f" stroke-width="0.12" x="361.9" y="380.7" font-size="8.5" fill="#e0393f" textLength="26.0" lengthAdjust="spacingAndGlyphs">GMDC</text>
<line x1="344.0" y1="391.5" x2="355.6" y2="391.5" stroke="#333" stroke-width="0.9"/>
<ellipse cx="349.8" cy="391.5" rx="2.9" ry="2.9" fill="#111111"/>
<text stroke="#231f20" stroke-width="0.12" fill="#231f20" x="361.9" y="393.9" font-size="8.5" textLength="21.4" lengthAdjust="spacingAndGlyphs">cDC1</text>
<line x1="344.0" y1="404.8" x2="355.6" y2="404.8" stroke="#333" stroke-width="0.9"/>
<ellipse cx="349.8" cy="404.8" rx="2.9" ry="2.9" fill="#2c4a9c"/>
<text stroke="#4a5aa5" stroke-width="0.12" x="361.9" y="407.2" font-size="8.5" fill="#4a5aa5" textLength="21.6" lengthAdjust="spacingAndGlyphs">cDC2</text>
</svg>
</body></html>
